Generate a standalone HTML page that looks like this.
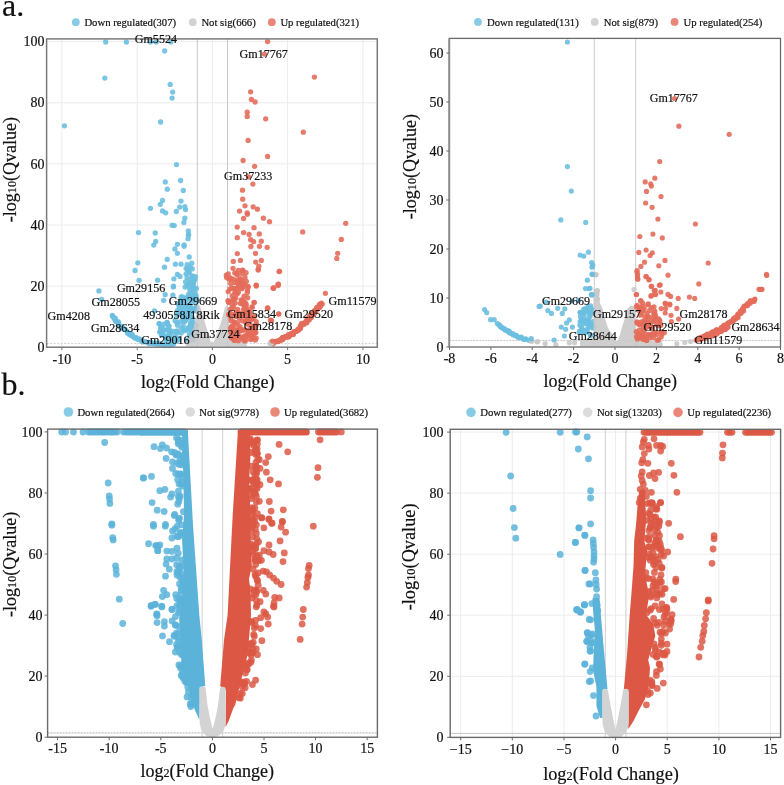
<!DOCTYPE html>
<html><head><meta charset="utf-8"><style>
html,body{margin:0;padding:0;background:#fff;}
svg{display:block;font-family:"Liberation Serif",serif;will-change:transform;}
text{fill:#111;stroke:#111;stroke-width:0.2px;}
</style></head><body>
<svg width="784" height="785" viewBox="0 0 784 785">
<text x="2.1" y="15.6" font-size="32">a.</text>
<text x="1.5" y="394.6" font-size="32">b.</text>
<line x1="61.9" y1="38.9" x2="61.9" y2="347.2" stroke="#ececec" stroke-width="1"/>
<line x1="137.2" y1="38.9" x2="137.2" y2="347.2" stroke="#ececec" stroke-width="1"/>
<line x1="212.4" y1="38.9" x2="212.4" y2="347.2" stroke="#ececec" stroke-width="1"/>
<line x1="287.6" y1="38.9" x2="287.6" y2="347.2" stroke="#ececec" stroke-width="1"/>
<line x1="362.9" y1="38.9" x2="362.9" y2="347.2" stroke="#ececec" stroke-width="1"/>
<line x1="46.6" y1="286.2" x2="377.3" y2="286.2" stroke="#ececec" stroke-width="1"/>
<line x1="46.6" y1="225.1" x2="377.3" y2="225.1" stroke="#ececec" stroke-width="1"/>
<line x1="46.6" y1="163.9" x2="377.3" y2="163.9" stroke="#ececec" stroke-width="1"/>
<line x1="46.6" y1="102.8" x2="377.3" y2="102.8" stroke="#ececec" stroke-width="1"/>
<line x1="46.6" y1="41.7" x2="377.3" y2="41.7" stroke="#ececec" stroke-width="1"/>
<line x1="197.3" y1="38.9" x2="197.3" y2="347.2" stroke="#c8c8c8" stroke-width="1"/>
<line x1="227.5" y1="38.9" x2="227.5" y2="347.2" stroke="#c8c8c8" stroke-width="1"/>
<line x1="46.6" y1="343.6" x2="377.3" y2="343.6" stroke="#c4c4c4" stroke-width="0.8" stroke-dasharray="2,1.5"/>
<circle cx="162.8" cy="330.4" r="2.7" fill="#6cbfe0" fill-opacity="0.9"/>
<circle cx="187.7" cy="285.4" r="2.7" fill="#6cbfe0" fill-opacity="0.9"/>
<circle cx="183.2" cy="325.9" r="2.7" fill="#6cbfe0" fill-opacity="0.9"/>
<circle cx="190.5" cy="298.9" r="2.7" fill="#6cbfe0" fill-opacity="0.9"/>
<circle cx="175.1" cy="320.8" r="2.7" fill="#6cbfe0" fill-opacity="0.9"/>
<circle cx="166.5" cy="337.8" r="2.7" fill="#6cbfe0" fill-opacity="0.9"/>
<circle cx="194.6" cy="295.0" r="2.7" fill="#6cbfe0" fill-opacity="0.9"/>
<circle cx="190.6" cy="308.3" r="2.7" fill="#6cbfe0" fill-opacity="0.9"/>
<circle cx="196.7" cy="331.4" r="2.7" fill="#6cbfe0" fill-opacity="0.9"/>
<circle cx="186.0" cy="320.1" r="2.7" fill="#6cbfe0" fill-opacity="0.9"/>
<circle cx="194.5" cy="298.1" r="2.7" fill="#6cbfe0" fill-opacity="0.9"/>
<circle cx="190.3" cy="316.9" r="2.7" fill="#6cbfe0" fill-opacity="0.9"/>
<circle cx="192.4" cy="330.3" r="2.7" fill="#6cbfe0" fill-opacity="0.9"/>
<circle cx="177.5" cy="310.8" r="2.7" fill="#6cbfe0" fill-opacity="0.9"/>
<circle cx="189.0" cy="297.5" r="2.7" fill="#6cbfe0" fill-opacity="0.9"/>
<circle cx="185.3" cy="317.3" r="2.7" fill="#6cbfe0" fill-opacity="0.9"/>
<circle cx="177.6" cy="325.2" r="2.7" fill="#6cbfe0" fill-opacity="0.9"/>
<circle cx="196.3" cy="311.1" r="2.7" fill="#6cbfe0" fill-opacity="0.9"/>
<circle cx="177.3" cy="340.6" r="2.7" fill="#6cbfe0" fill-opacity="0.9"/>
<circle cx="187.9" cy="307.0" r="2.7" fill="#6cbfe0" fill-opacity="0.9"/>
<circle cx="191.5" cy="283.6" r="2.7" fill="#6cbfe0" fill-opacity="0.9"/>
<circle cx="177.8" cy="338.4" r="2.7" fill="#6cbfe0" fill-opacity="0.9"/>
<circle cx="180.3" cy="300.9" r="2.7" fill="#6cbfe0" fill-opacity="0.9"/>
<circle cx="188.5" cy="328.4" r="2.7" fill="#6cbfe0" fill-opacity="0.9"/>
<circle cx="192.5" cy="322.3" r="2.7" fill="#6cbfe0" fill-opacity="0.9"/>
<circle cx="189.5" cy="305.4" r="2.7" fill="#6cbfe0" fill-opacity="0.9"/>
<circle cx="159.7" cy="332.1" r="2.7" fill="#6cbfe0" fill-opacity="0.9"/>
<circle cx="178.8" cy="313.4" r="2.7" fill="#6cbfe0" fill-opacity="0.9"/>
<circle cx="181.7" cy="300.8" r="2.7" fill="#6cbfe0" fill-opacity="0.9"/>
<circle cx="191.5" cy="326.7" r="2.7" fill="#6cbfe0" fill-opacity="0.9"/>
<circle cx="189.0" cy="328.0" r="2.7" fill="#6cbfe0" fill-opacity="0.9"/>
<circle cx="167.6" cy="330.0" r="2.7" fill="#6cbfe0" fill-opacity="0.9"/>
<circle cx="187.3" cy="285.0" r="2.7" fill="#6cbfe0" fill-opacity="0.9"/>
<circle cx="185.6" cy="300.6" r="2.7" fill="#6cbfe0" fill-opacity="0.9"/>
<circle cx="161.8" cy="334.4" r="2.7" fill="#6cbfe0" fill-opacity="0.9"/>
<circle cx="181.4" cy="328.1" r="2.7" fill="#6cbfe0" fill-opacity="0.9"/>
<circle cx="184.3" cy="307.4" r="2.7" fill="#6cbfe0" fill-opacity="0.9"/>
<circle cx="166.2" cy="340.1" r="2.7" fill="#6cbfe0" fill-opacity="0.9"/>
<circle cx="189.0" cy="305.3" r="2.7" fill="#6cbfe0" fill-opacity="0.9"/>
<circle cx="195.7" cy="332.5" r="2.7" fill="#6cbfe0" fill-opacity="0.9"/>
<circle cx="169.6" cy="331.2" r="2.7" fill="#6cbfe0" fill-opacity="0.9"/>
<circle cx="169.8" cy="337.4" r="2.7" fill="#6cbfe0" fill-opacity="0.9"/>
<circle cx="186.9" cy="297.6" r="2.7" fill="#6cbfe0" fill-opacity="0.9"/>
<circle cx="192.2" cy="268.9" r="2.7" fill="#6cbfe0" fill-opacity="0.9"/>
<circle cx="189.9" cy="339.1" r="2.7" fill="#6cbfe0" fill-opacity="0.9"/>
<circle cx="191.8" cy="340.0" r="2.7" fill="#6cbfe0" fill-opacity="0.9"/>
<circle cx="185.3" cy="304.7" r="2.7" fill="#6cbfe0" fill-opacity="0.9"/>
<circle cx="170.4" cy="332.2" r="2.7" fill="#6cbfe0" fill-opacity="0.9"/>
<circle cx="196.5" cy="325.5" r="2.7" fill="#6cbfe0" fill-opacity="0.9"/>
<circle cx="184.1" cy="329.7" r="2.7" fill="#6cbfe0" fill-opacity="0.9"/>
<circle cx="194.3" cy="292.1" r="2.7" fill="#6cbfe0" fill-opacity="0.9"/>
<circle cx="192.4" cy="318.2" r="2.7" fill="#6cbfe0" fill-opacity="0.9"/>
<circle cx="176.6" cy="340.9" r="2.7" fill="#6cbfe0" fill-opacity="0.9"/>
<circle cx="193.5" cy="282.2" r="2.7" fill="#6cbfe0" fill-opacity="0.9"/>
<circle cx="187.5" cy="311.6" r="2.7" fill="#6cbfe0" fill-opacity="0.9"/>
<circle cx="190.7" cy="294.0" r="2.7" fill="#6cbfe0" fill-opacity="0.9"/>
<circle cx="191.8" cy="311.9" r="2.7" fill="#6cbfe0" fill-opacity="0.9"/>
<circle cx="195.2" cy="333.4" r="2.7" fill="#6cbfe0" fill-opacity="0.9"/>
<circle cx="160.4" cy="331.8" r="2.7" fill="#6cbfe0" fill-opacity="0.9"/>
<circle cx="188.6" cy="329.0" r="2.7" fill="#6cbfe0" fill-opacity="0.9"/>
<circle cx="188.4" cy="294.7" r="2.7" fill="#6cbfe0" fill-opacity="0.9"/>
<circle cx="192.7" cy="308.9" r="2.7" fill="#6cbfe0" fill-opacity="0.9"/>
<circle cx="194.0" cy="300.8" r="2.7" fill="#6cbfe0" fill-opacity="0.9"/>
<circle cx="168.4" cy="325.8" r="2.7" fill="#6cbfe0" fill-opacity="0.9"/>
<circle cx="190.2" cy="266.9" r="2.7" fill="#6cbfe0" fill-opacity="0.9"/>
<circle cx="162.0" cy="333.3" r="2.7" fill="#6cbfe0" fill-opacity="0.9"/>
<circle cx="196.5" cy="298.0" r="2.7" fill="#6cbfe0" fill-opacity="0.9"/>
<circle cx="167.0" cy="322.5" r="2.7" fill="#6cbfe0" fill-opacity="0.9"/>
<circle cx="161.6" cy="335.2" r="2.7" fill="#6cbfe0" fill-opacity="0.9"/>
<circle cx="172.4" cy="339.7" r="2.7" fill="#6cbfe0" fill-opacity="0.9"/>
<circle cx="193.4" cy="288.3" r="2.7" fill="#6cbfe0" fill-opacity="0.9"/>
<circle cx="196.3" cy="288.5" r="2.7" fill="#6cbfe0" fill-opacity="0.9"/>
<circle cx="181.1" cy="300.2" r="2.7" fill="#6cbfe0" fill-opacity="0.9"/>
<circle cx="193.6" cy="339.7" r="2.7" fill="#6cbfe0" fill-opacity="0.9"/>
<circle cx="196.2" cy="307.3" r="2.7" fill="#6cbfe0" fill-opacity="0.9"/>
<circle cx="184.7" cy="316.3" r="2.7" fill="#6cbfe0" fill-opacity="0.9"/>
<circle cx="196.3" cy="300.0" r="2.7" fill="#6cbfe0" fill-opacity="0.9"/>
<circle cx="183.3" cy="314.9" r="2.7" fill="#6cbfe0" fill-opacity="0.9"/>
<circle cx="194.7" cy="295.7" r="2.7" fill="#6cbfe0" fill-opacity="0.9"/>
<circle cx="170.0" cy="330.4" r="2.7" fill="#6cbfe0" fill-opacity="0.9"/>
<circle cx="192.8" cy="289.0" r="2.7" fill="#6cbfe0" fill-opacity="0.9"/>
<circle cx="180.4" cy="311.3" r="2.7" fill="#6cbfe0" fill-opacity="0.9"/>
<circle cx="169.0" cy="326.2" r="2.7" fill="#6cbfe0" fill-opacity="0.9"/>
<circle cx="177.0" cy="331.6" r="2.7" fill="#6cbfe0" fill-opacity="0.9"/>
<circle cx="188.9" cy="271.9" r="2.7" fill="#6cbfe0" fill-opacity="0.9"/>
<circle cx="195.0" cy="279.2" r="2.7" fill="#6cbfe0" fill-opacity="0.9"/>
<circle cx="188.2" cy="340.9" r="2.7" fill="#6cbfe0" fill-opacity="0.9"/>
<circle cx="190.0" cy="290.3" r="2.7" fill="#6cbfe0" fill-opacity="0.9"/>
<circle cx="193.8" cy="288.3" r="2.7" fill="#6cbfe0" fill-opacity="0.9"/>
<circle cx="192.8" cy="276.8" r="2.7" fill="#6cbfe0" fill-opacity="0.9"/>
<circle cx="170.0" cy="334.6" r="2.7" fill="#6cbfe0" fill-opacity="0.9"/>
<circle cx="189.3" cy="334.9" r="2.7" fill="#6cbfe0" fill-opacity="0.9"/>
<circle cx="190.7" cy="322.7" r="2.7" fill="#6cbfe0" fill-opacity="0.9"/>
<circle cx="185.7" cy="316.8" r="2.7" fill="#6cbfe0" fill-opacity="0.9"/>
<circle cx="195.6" cy="327.4" r="2.7" fill="#6cbfe0" fill-opacity="0.9"/>
<circle cx="179.2" cy="307.1" r="2.7" fill="#6cbfe0" fill-opacity="0.9"/>
<circle cx="191.1" cy="300.5" r="2.7" fill="#6cbfe0" fill-opacity="0.9"/>
<circle cx="183.0" cy="297.7" r="2.7" fill="#6cbfe0" fill-opacity="0.9"/>
<circle cx="190.2" cy="296.2" r="2.7" fill="#6cbfe0" fill-opacity="0.9"/>
<circle cx="178.4" cy="304.1" r="2.7" fill="#6cbfe0" fill-opacity="0.9"/>
<circle cx="183.1" cy="299.3" r="2.7" fill="#6cbfe0" fill-opacity="0.9"/>
<circle cx="184.6" cy="321.6" r="2.7" fill="#6cbfe0" fill-opacity="0.9"/>
<circle cx="193.3" cy="335.7" r="2.7" fill="#6cbfe0" fill-opacity="0.9"/>
<circle cx="177.7" cy="332.7" r="2.7" fill="#6cbfe0" fill-opacity="0.9"/>
<circle cx="163.8" cy="324.2" r="2.7" fill="#6cbfe0" fill-opacity="0.9"/>
<circle cx="192.4" cy="289.7" r="2.7" fill="#6cbfe0" fill-opacity="0.9"/>
<circle cx="184.9" cy="330.5" r="2.7" fill="#6cbfe0" fill-opacity="0.9"/>
<circle cx="186.6" cy="311.2" r="2.7" fill="#6cbfe0" fill-opacity="0.9"/>
<circle cx="191.3" cy="334.1" r="2.7" fill="#6cbfe0" fill-opacity="0.9"/>
<circle cx="195.4" cy="309.4" r="2.7" fill="#6cbfe0" fill-opacity="0.9"/>
<circle cx="187.4" cy="270.0" r="2.7" fill="#6cbfe0" fill-opacity="0.9"/>
<circle cx="184.4" cy="320.5" r="2.7" fill="#6cbfe0" fill-opacity="0.9"/>
<circle cx="189.4" cy="313.8" r="2.7" fill="#6cbfe0" fill-opacity="0.9"/>
<circle cx="168.1" cy="335.4" r="2.7" fill="#6cbfe0" fill-opacity="0.9"/>
<circle cx="195.4" cy="276.6" r="2.7" fill="#6cbfe0" fill-opacity="0.9"/>
<circle cx="188.1" cy="330.0" r="2.7" fill="#6cbfe0" fill-opacity="0.9"/>
<circle cx="183.6" cy="319.2" r="2.7" fill="#6cbfe0" fill-opacity="0.9"/>
<circle cx="175.1" cy="336.2" r="2.7" fill="#6cbfe0" fill-opacity="0.9"/>
<circle cx="195.9" cy="295.1" r="2.7" fill="#6cbfe0" fill-opacity="0.9"/>
<circle cx="189.2" cy="298.9" r="2.7" fill="#6cbfe0" fill-opacity="0.9"/>
<circle cx="162.5" cy="335.1" r="2.7" fill="#6cbfe0" fill-opacity="0.9"/>
<circle cx="181.2" cy="297.0" r="2.7" fill="#6cbfe0" fill-opacity="0.9"/>
<circle cx="167.3" cy="323.0" r="2.7" fill="#6cbfe0" fill-opacity="0.9"/>
<circle cx="182.3" cy="312.0" r="2.7" fill="#6cbfe0" fill-opacity="0.9"/>
<circle cx="190.5" cy="281.7" r="2.7" fill="#6cbfe0" fill-opacity="0.9"/>
<circle cx="188.7" cy="327.5" r="2.7" fill="#6cbfe0" fill-opacity="0.9"/>
<circle cx="196.0" cy="307.4" r="2.7" fill="#6cbfe0" fill-opacity="0.9"/>
<circle cx="176.9" cy="331.0" r="2.7" fill="#6cbfe0" fill-opacity="0.9"/>
<circle cx="187.9" cy="309.4" r="2.7" fill="#6cbfe0" fill-opacity="0.9"/>
<circle cx="161.8" cy="327.4" r="2.7" fill="#6cbfe0" fill-opacity="0.9"/>
<circle cx="179.0" cy="339.3" r="2.7" fill="#6cbfe0" fill-opacity="0.9"/>
<circle cx="187.6" cy="340.0" r="2.7" fill="#6cbfe0" fill-opacity="0.9"/>
<circle cx="188.4" cy="317.9" r="2.7" fill="#6cbfe0" fill-opacity="0.9"/>
<circle cx="176.9" cy="315.2" r="2.7" fill="#6cbfe0" fill-opacity="0.9"/>
<circle cx="181.1" cy="333.0" r="2.7" fill="#6cbfe0" fill-opacity="0.9"/>
<circle cx="190.3" cy="304.8" r="2.7" fill="#6cbfe0" fill-opacity="0.9"/>
<circle cx="196.5" cy="301.1" r="2.7" fill="#6cbfe0" fill-opacity="0.9"/>
<circle cx="190.5" cy="297.1" r="2.7" fill="#6cbfe0" fill-opacity="0.9"/>
<circle cx="186.9" cy="341.1" r="2.7" fill="#6cbfe0" fill-opacity="0.9"/>
<circle cx="182.0" cy="306.4" r="2.7" fill="#6cbfe0" fill-opacity="0.9"/>
<circle cx="173.5" cy="331.5" r="2.7" fill="#6cbfe0" fill-opacity="0.9"/>
<circle cx="180.6" cy="321.8" r="2.7" fill="#6cbfe0" fill-opacity="0.9"/>
<circle cx="193.0" cy="322.9" r="2.7" fill="#6cbfe0" fill-opacity="0.9"/>
<circle cx="177.0" cy="322.7" r="2.7" fill="#6cbfe0" fill-opacity="0.9"/>
<circle cx="182.8" cy="315.3" r="2.7" fill="#6cbfe0" fill-opacity="0.9"/>
<circle cx="182.4" cy="296.9" r="2.7" fill="#6cbfe0" fill-opacity="0.9"/>
<circle cx="182.4" cy="314.2" r="2.7" fill="#6cbfe0" fill-opacity="0.9"/>
<circle cx="194.5" cy="325.5" r="2.7" fill="#6cbfe0" fill-opacity="0.9"/>
<circle cx="190.9" cy="324.3" r="2.7" fill="#6cbfe0" fill-opacity="0.9"/>
<circle cx="189.7" cy="312.0" r="2.7" fill="#6cbfe0" fill-opacity="0.9"/>
<polygon points="197.0,303.0 200.4,306.7 204.5,321.0 210.6,341.4 213.6,342.4 220.8,323.0 224.9,307.7 226.5,305.5 228.5,307.0 229.7,340.4 246.0,340.4 247.0,346.5 186.0,346.5 186.0,341.5 190.0,336.0 193.5,328.0 196.0,316.0 197.0,305.0" fill="#c9c9c9" fill-opacity="0.88"/>
<circle cx="237.7" cy="309.5" r="2.7" fill="#e46d5b" fill-opacity="0.9"/>
<circle cx="248.6" cy="335.9" r="2.7" fill="#e46d5b" fill-opacity="0.9"/>
<circle cx="243.6" cy="304.6" r="2.7" fill="#e46d5b" fill-opacity="0.9"/>
<circle cx="252.4" cy="319.0" r="2.7" fill="#e46d5b" fill-opacity="0.9"/>
<circle cx="241.2" cy="300.0" r="2.7" fill="#e46d5b" fill-opacity="0.9"/>
<circle cx="242.6" cy="330.3" r="2.7" fill="#e46d5b" fill-opacity="0.9"/>
<circle cx="239.9" cy="313.4" r="2.7" fill="#e46d5b" fill-opacity="0.9"/>
<circle cx="242.5" cy="339.1" r="2.7" fill="#e46d5b" fill-opacity="0.9"/>
<circle cx="248.1" cy="315.4" r="2.7" fill="#e46d5b" fill-opacity="0.9"/>
<circle cx="248.0" cy="324.3" r="2.7" fill="#e46d5b" fill-opacity="0.9"/>
<circle cx="233.4" cy="307.0" r="2.7" fill="#e46d5b" fill-opacity="0.9"/>
<circle cx="243.0" cy="314.0" r="2.7" fill="#e46d5b" fill-opacity="0.9"/>
<circle cx="242.6" cy="330.0" r="2.7" fill="#e46d5b" fill-opacity="0.9"/>
<circle cx="232.1" cy="326.3" r="2.7" fill="#e46d5b" fill-opacity="0.9"/>
<circle cx="248.8" cy="333.4" r="2.7" fill="#e46d5b" fill-opacity="0.9"/>
<circle cx="235.2" cy="324.5" r="2.7" fill="#e46d5b" fill-opacity="0.9"/>
<circle cx="234.1" cy="322.3" r="2.7" fill="#e46d5b" fill-opacity="0.9"/>
<circle cx="232.3" cy="332.3" r="2.7" fill="#e46d5b" fill-opacity="0.9"/>
<circle cx="233.8" cy="339.8" r="2.7" fill="#e46d5b" fill-opacity="0.9"/>
<circle cx="248.6" cy="334.6" r="2.7" fill="#e46d5b" fill-opacity="0.9"/>
<circle cx="246.0" cy="311.7" r="2.7" fill="#e46d5b" fill-opacity="0.9"/>
<circle cx="240.2" cy="331.1" r="2.7" fill="#e46d5b" fill-opacity="0.9"/>
<circle cx="246.1" cy="305.2" r="2.7" fill="#e46d5b" fill-opacity="0.9"/>
<circle cx="254.9" cy="329.6" r="2.7" fill="#e46d5b" fill-opacity="0.9"/>
<circle cx="245.5" cy="309.4" r="2.7" fill="#e46d5b" fill-opacity="0.9"/>
<circle cx="243.1" cy="304.0" r="2.7" fill="#e46d5b" fill-opacity="0.9"/>
<circle cx="231.2" cy="329.1" r="2.7" fill="#e46d5b" fill-opacity="0.9"/>
<circle cx="238.0" cy="330.6" r="2.7" fill="#e46d5b" fill-opacity="0.9"/>
<circle cx="234.3" cy="329.2" r="2.7" fill="#e46d5b" fill-opacity="0.9"/>
<circle cx="248.9" cy="311.3" r="2.7" fill="#e46d5b" fill-opacity="0.9"/>
<circle cx="230.2" cy="315.2" r="2.7" fill="#e46d5b" fill-opacity="0.9"/>
<circle cx="242.0" cy="302.3" r="2.7" fill="#e46d5b" fill-opacity="0.9"/>
<circle cx="232.7" cy="300.4" r="2.7" fill="#e46d5b" fill-opacity="0.9"/>
<circle cx="245.2" cy="336.6" r="2.7" fill="#e46d5b" fill-opacity="0.9"/>
<circle cx="233.6" cy="299.5" r="2.7" fill="#e46d5b" fill-opacity="0.9"/>
<circle cx="248.5" cy="333.4" r="2.7" fill="#e46d5b" fill-opacity="0.9"/>
<circle cx="256.4" cy="324.6" r="2.7" fill="#e46d5b" fill-opacity="0.9"/>
<circle cx="237.4" cy="334.4" r="2.7" fill="#e46d5b" fill-opacity="0.9"/>
<circle cx="230.6" cy="328.1" r="2.7" fill="#e46d5b" fill-opacity="0.9"/>
<circle cx="229.9" cy="315.3" r="2.7" fill="#e46d5b" fill-opacity="0.9"/>
<circle cx="242.1" cy="314.4" r="2.7" fill="#e46d5b" fill-opacity="0.9"/>
<circle cx="232.1" cy="308.1" r="2.7" fill="#e46d5b" fill-opacity="0.9"/>
<circle cx="252.0" cy="318.1" r="2.7" fill="#e46d5b" fill-opacity="0.9"/>
<circle cx="244.7" cy="307.2" r="2.7" fill="#e46d5b" fill-opacity="0.9"/>
<circle cx="248.8" cy="312.3" r="2.7" fill="#e46d5b" fill-opacity="0.9"/>
<circle cx="245.1" cy="337.5" r="2.7" fill="#e46d5b" fill-opacity="0.9"/>
<circle cx="251.3" cy="335.2" r="2.7" fill="#e46d5b" fill-opacity="0.9"/>
<circle cx="236.7" cy="314.6" r="2.7" fill="#e46d5b" fill-opacity="0.9"/>
<circle cx="244.7" cy="337.9" r="2.7" fill="#e46d5b" fill-opacity="0.9"/>
<circle cx="239.2" cy="336.2" r="2.7" fill="#e46d5b" fill-opacity="0.9"/>
<circle cx="231.4" cy="326.9" r="2.7" fill="#e46d5b" fill-opacity="0.9"/>
<circle cx="228.7" cy="314.5" r="2.7" fill="#e46d5b" fill-opacity="0.9"/>
<circle cx="231.0" cy="318.1" r="2.7" fill="#e46d5b" fill-opacity="0.9"/>
<circle cx="252.6" cy="337.3" r="2.7" fill="#e46d5b" fill-opacity="0.9"/>
<circle cx="228.1" cy="300.6" r="2.7" fill="#e46d5b" fill-opacity="0.9"/>
<circle cx="235.3" cy="303.1" r="2.7" fill="#e46d5b" fill-opacity="0.9"/>
<circle cx="246.4" cy="330.3" r="2.7" fill="#e46d5b" fill-opacity="0.9"/>
<circle cx="247.9" cy="334.7" r="2.7" fill="#e46d5b" fill-opacity="0.9"/>
<circle cx="247.2" cy="314.9" r="2.7" fill="#e46d5b" fill-opacity="0.9"/>
<circle cx="246.2" cy="340.1" r="2.7" fill="#e46d5b" fill-opacity="0.9"/>
<circle cx="246.6" cy="308.6" r="2.7" fill="#e46d5b" fill-opacity="0.9"/>
<circle cx="245.0" cy="313.2" r="2.7" fill="#e46d5b" fill-opacity="0.9"/>
<circle cx="245.5" cy="322.3" r="2.7" fill="#e46d5b" fill-opacity="0.9"/>
<circle cx="242.9" cy="300.6" r="2.7" fill="#e46d5b" fill-opacity="0.9"/>
<circle cx="237.8" cy="315.9" r="2.7" fill="#e46d5b" fill-opacity="0.9"/>
<circle cx="233.1" cy="336.2" r="2.7" fill="#e46d5b" fill-opacity="0.9"/>
<circle cx="239.9" cy="326.7" r="2.7" fill="#e46d5b" fill-opacity="0.9"/>
<circle cx="248.8" cy="330.3" r="2.7" fill="#e46d5b" fill-opacity="0.9"/>
<circle cx="249.0" cy="330.6" r="2.7" fill="#e46d5b" fill-opacity="0.9"/>
<circle cx="234.7" cy="340.4" r="2.7" fill="#e46d5b" fill-opacity="0.9"/>
<circle cx="231.6" cy="337.9" r="2.7" fill="#e46d5b" fill-opacity="0.9"/>
<circle cx="253.1" cy="335.0" r="2.7" fill="#e46d5b" fill-opacity="0.9"/>
<circle cx="228.6" cy="302.0" r="2.7" fill="#e46d5b" fill-opacity="0.9"/>
<circle cx="251.8" cy="318.4" r="2.7" fill="#e46d5b" fill-opacity="0.9"/>
<circle cx="238.3" cy="340.7" r="2.7" fill="#e46d5b" fill-opacity="0.9"/>
<circle cx="240.5" cy="303.6" r="2.7" fill="#e46d5b" fill-opacity="0.9"/>
<circle cx="239.1" cy="328.7" r="2.7" fill="#e46d5b" fill-opacity="0.9"/>
<circle cx="243.0" cy="301.9" r="2.7" fill="#e46d5b" fill-opacity="0.9"/>
<circle cx="249.3" cy="311.6" r="2.7" fill="#e46d5b" fill-opacity="0.9"/>
<circle cx="231.0" cy="332.5" r="2.7" fill="#e46d5b" fill-opacity="0.9"/>
<circle cx="251.6" cy="335.1" r="2.7" fill="#e46d5b" fill-opacity="0.9"/>
<circle cx="236.3" cy="316.4" r="2.7" fill="#e46d5b" fill-opacity="0.9"/>
<circle cx="234.5" cy="322.2" r="2.7" fill="#e46d5b" fill-opacity="0.9"/>
<circle cx="237.1" cy="312.7" r="2.7" fill="#e46d5b" fill-opacity="0.9"/>
<circle cx="250.9" cy="339.5" r="2.7" fill="#e46d5b" fill-opacity="0.9"/>
<circle cx="244.8" cy="302.5" r="2.7" fill="#e46d5b" fill-opacity="0.9"/>
<circle cx="246.9" cy="317.5" r="2.7" fill="#e46d5b" fill-opacity="0.9"/>
<circle cx="252.5" cy="328.4" r="2.7" fill="#e46d5b" fill-opacity="0.9"/>
<circle cx="243.3" cy="336.9" r="2.7" fill="#e46d5b" fill-opacity="0.9"/>
<circle cx="231.8" cy="314.1" r="2.7" fill="#e46d5b" fill-opacity="0.9"/>
<circle cx="242.9" cy="302.2" r="2.7" fill="#e46d5b" fill-opacity="0.9"/>
<circle cx="237.5" cy="323.0" r="2.7" fill="#e46d5b" fill-opacity="0.9"/>
<circle cx="246.9" cy="311.6" r="2.7" fill="#e46d5b" fill-opacity="0.9"/>
<circle cx="236.1" cy="313.3" r="2.7" fill="#e46d5b" fill-opacity="0.9"/>
<circle cx="236.9" cy="330.5" r="2.7" fill="#e46d5b" fill-opacity="0.9"/>
<circle cx="242.3" cy="320.8" r="2.7" fill="#e46d5b" fill-opacity="0.9"/>
<circle cx="231.5" cy="337.7" r="2.7" fill="#e46d5b" fill-opacity="0.9"/>
<circle cx="236.9" cy="312.2" r="2.7" fill="#e46d5b" fill-opacity="0.9"/>
<circle cx="241.6" cy="337.6" r="2.7" fill="#e46d5b" fill-opacity="0.9"/>
<circle cx="255.3" cy="340.1" r="2.7" fill="#e46d5b" fill-opacity="0.9"/>
<circle cx="251.9" cy="338.2" r="2.7" fill="#e46d5b" fill-opacity="0.9"/>
<circle cx="255.1" cy="332.8" r="2.7" fill="#e46d5b" fill-opacity="0.9"/>
<circle cx="231.1" cy="320.7" r="2.7" fill="#e46d5b" fill-opacity="0.9"/>
<circle cx="244.6" cy="341.1" r="2.7" fill="#e46d5b" fill-opacity="0.9"/>
<circle cx="250.9" cy="328.5" r="2.7" fill="#e46d5b" fill-opacity="0.9"/>
<circle cx="249.8" cy="313.7" r="2.7" fill="#e46d5b" fill-opacity="0.9"/>
<circle cx="255.7" cy="325.9" r="2.7" fill="#e46d5b" fill-opacity="0.9"/>
<circle cx="239.3" cy="318.2" r="2.7" fill="#e46d5b" fill-opacity="0.9"/>
<circle cx="232.1" cy="304.4" r="2.7" fill="#e46d5b" fill-opacity="0.9"/>
<circle cx="248.0" cy="322.4" r="2.7" fill="#e46d5b" fill-opacity="0.9"/>
<circle cx="239.5" cy="329.6" r="2.7" fill="#e46d5b" fill-opacity="0.9"/>
<circle cx="228.5" cy="302.3" r="2.7" fill="#e46d5b" fill-opacity="0.9"/>
<circle cx="243.6" cy="309.5" r="2.7" fill="#e46d5b" fill-opacity="0.9"/>
<circle cx="230.3" cy="309.4" r="2.7" fill="#e46d5b" fill-opacity="0.9"/>
<circle cx="246.3" cy="320.8" r="2.7" fill="#e46d5b" fill-opacity="0.9"/>
<circle cx="229.4" cy="301.2" r="2.7" fill="#e46d5b" fill-opacity="0.9"/>
<circle cx="252.9" cy="325.9" r="2.7" fill="#e46d5b" fill-opacity="0.9"/>
<circle cx="232.3" cy="335.4" r="2.7" fill="#e46d5b" fill-opacity="0.9"/>
<circle cx="252.9" cy="328.8" r="2.7" fill="#e46d5b" fill-opacity="0.9"/>
<circle cx="235.7" cy="336.7" r="2.7" fill="#e46d5b" fill-opacity="0.9"/>
<circle cx="245.2" cy="335.6" r="2.7" fill="#e46d5b" fill-opacity="0.9"/>
<circle cx="254.2" cy="316.5" r="2.7" fill="#e46d5b" fill-opacity="0.9"/>
<circle cx="247.6" cy="321.6" r="2.7" fill="#e46d5b" fill-opacity="0.9"/>
<circle cx="255.8" cy="332.6" r="2.7" fill="#e46d5b" fill-opacity="0.9"/>
<circle cx="249.1" cy="333.3" r="2.7" fill="#e46d5b" fill-opacity="0.9"/>
<circle cx="233.1" cy="330.4" r="2.7" fill="#e46d5b" fill-opacity="0.9"/>
<circle cx="250.5" cy="320.3" r="2.7" fill="#e46d5b" fill-opacity="0.9"/>
<circle cx="241.9" cy="315.5" r="2.7" fill="#e46d5b" fill-opacity="0.9"/>
<circle cx="253.9" cy="332.6" r="2.7" fill="#e46d5b" fill-opacity="0.9"/>
<circle cx="253.0" cy="317.9" r="2.7" fill="#e46d5b" fill-opacity="0.9"/>
<circle cx="230.6" cy="279.0" r="2.7" fill="#e46d5b" fill-opacity="0.9"/>
<circle cx="242.6" cy="270.2" r="2.7" fill="#e46d5b" fill-opacity="0.9"/>
<circle cx="228.9" cy="279.1" r="2.7" fill="#e46d5b" fill-opacity="0.9"/>
<circle cx="247.3" cy="292.4" r="2.7" fill="#e46d5b" fill-opacity="0.9"/>
<circle cx="239.7" cy="286.5" r="2.7" fill="#e46d5b" fill-opacity="0.9"/>
<circle cx="238.6" cy="286.3" r="2.7" fill="#e46d5b" fill-opacity="0.9"/>
<circle cx="235.8" cy="288.9" r="2.7" fill="#e46d5b" fill-opacity="0.9"/>
<circle cx="233.4" cy="279.1" r="2.7" fill="#e46d5b" fill-opacity="0.9"/>
<circle cx="238.2" cy="287.6" r="2.7" fill="#e46d5b" fill-opacity="0.9"/>
<circle cx="229.9" cy="289.1" r="2.7" fill="#e46d5b" fill-opacity="0.9"/>
<circle cx="239.6" cy="281.1" r="2.7" fill="#e46d5b" fill-opacity="0.9"/>
<circle cx="235.7" cy="298.1" r="2.7" fill="#e46d5b" fill-opacity="0.9"/>
<circle cx="247.5" cy="290.1" r="2.7" fill="#e46d5b" fill-opacity="0.9"/>
<circle cx="247.6" cy="297.8" r="2.7" fill="#e46d5b" fill-opacity="0.9"/>
<circle cx="246.3" cy="281.5" r="2.7" fill="#e46d5b" fill-opacity="0.9"/>
<circle cx="237.1" cy="293.9" r="2.7" fill="#e46d5b" fill-opacity="0.9"/>
<circle cx="234.9" cy="292.5" r="2.7" fill="#e46d5b" fill-opacity="0.9"/>
<circle cx="237.6" cy="280.1" r="2.7" fill="#e46d5b" fill-opacity="0.9"/>
<circle cx="236.9" cy="273.5" r="2.7" fill="#e46d5b" fill-opacity="0.9"/>
<circle cx="234.5" cy="282.5" r="2.7" fill="#e46d5b" fill-opacity="0.9"/>
<circle cx="226.4" cy="275.2" r="2.7" fill="#e46d5b" fill-opacity="0.9"/>
<circle cx="232.2" cy="295.7" r="2.7" fill="#e46d5b" fill-opacity="0.9"/>
<circle cx="240.1" cy="278.6" r="2.7" fill="#e46d5b" fill-opacity="0.9"/>
<circle cx="238.3" cy="292.2" r="2.7" fill="#e46d5b" fill-opacity="0.9"/>
<circle cx="242.6" cy="283.0" r="2.7" fill="#e46d5b" fill-opacity="0.9"/>
<circle cx="244.6" cy="284.6" r="2.7" fill="#e46d5b" fill-opacity="0.9"/>
<circle cx="243.2" cy="284.7" r="2.7" fill="#e46d5b" fill-opacity="0.9"/>
<circle cx="228.2" cy="273.9" r="2.7" fill="#e46d5b" fill-opacity="0.9"/>
<circle cx="226.6" cy="277.6" r="2.7" fill="#e46d5b" fill-opacity="0.9"/>
<circle cx="235.6" cy="291.7" r="2.7" fill="#e46d5b" fill-opacity="0.9"/>
<circle cx="246.0" cy="272.7" r="2.7" fill="#e46d5b" fill-opacity="0.9"/>
<circle cx="239.2" cy="286.0" r="2.7" fill="#e46d5b" fill-opacity="0.9"/>
<circle cx="234.3" cy="298.4" r="2.7" fill="#e46d5b" fill-opacity="0.9"/>
<circle cx="239.3" cy="282.6" r="2.7" fill="#e46d5b" fill-opacity="0.9"/>
<circle cx="242.1" cy="273.6" r="2.7" fill="#e46d5b" fill-opacity="0.9"/>
<circle cx="112.3" cy="315.5" r="2.7" fill="#6cbfe0" fill-opacity="0.9"/>
<circle cx="113.4" cy="317.6" r="2.7" fill="#6cbfe0" fill-opacity="0.9"/>
<circle cx="114.8" cy="318.6" r="2.7" fill="#6cbfe0" fill-opacity="0.9"/>
<circle cx="115.1" cy="318.3" r="2.7" fill="#6cbfe0" fill-opacity="0.9"/>
<circle cx="115.3" cy="320.6" r="2.7" fill="#6cbfe0" fill-opacity="0.9"/>
<circle cx="115.9" cy="321.4" r="2.7" fill="#6cbfe0" fill-opacity="0.9"/>
<circle cx="117.9" cy="321.7" r="2.7" fill="#6cbfe0" fill-opacity="0.9"/>
<circle cx="118.6" cy="322.8" r="2.7" fill="#6cbfe0" fill-opacity="0.9"/>
<circle cx="118.5" cy="325.3" r="2.7" fill="#6cbfe0" fill-opacity="0.9"/>
<circle cx="119.0" cy="325.3" r="2.7" fill="#6cbfe0" fill-opacity="0.9"/>
<circle cx="120.3" cy="326.9" r="2.7" fill="#6cbfe0" fill-opacity="0.9"/>
<circle cx="122.3" cy="326.6" r="2.7" fill="#6cbfe0" fill-opacity="0.9"/>
<circle cx="122.1" cy="328.6" r="2.7" fill="#6cbfe0" fill-opacity="0.9"/>
<circle cx="123.1" cy="328.1" r="2.7" fill="#6cbfe0" fill-opacity="0.9"/>
<circle cx="124.6" cy="329.2" r="2.7" fill="#6cbfe0" fill-opacity="0.9"/>
<circle cx="125.1" cy="329.4" r="2.7" fill="#6cbfe0" fill-opacity="0.9"/>
<circle cx="127.1" cy="331.6" r="2.7" fill="#6cbfe0" fill-opacity="0.9"/>
<circle cx="128.1" cy="333.0" r="2.7" fill="#6cbfe0" fill-opacity="0.9"/>
<circle cx="127.8" cy="333.0" r="2.7" fill="#6cbfe0" fill-opacity="0.9"/>
<circle cx="129.2" cy="334.3" r="2.7" fill="#6cbfe0" fill-opacity="0.9"/>
<circle cx="131.1" cy="333.9" r="2.7" fill="#6cbfe0" fill-opacity="0.9"/>
<circle cx="131.0" cy="335.5" r="2.7" fill="#6cbfe0" fill-opacity="0.9"/>
<circle cx="132.3" cy="335.0" r="2.7" fill="#6cbfe0" fill-opacity="0.9"/>
<circle cx="133.0" cy="336.5" r="2.7" fill="#6cbfe0" fill-opacity="0.9"/>
<circle cx="134.8" cy="337.9" r="2.7" fill="#6cbfe0" fill-opacity="0.9"/>
<circle cx="135.8" cy="337.8" r="2.7" fill="#6cbfe0" fill-opacity="0.9"/>
<circle cx="136.3" cy="338.1" r="2.7" fill="#6cbfe0" fill-opacity="0.9"/>
<circle cx="137.8" cy="339.3" r="2.7" fill="#6cbfe0" fill-opacity="0.9"/>
<circle cx="139.1" cy="338.9" r="2.7" fill="#6cbfe0" fill-opacity="0.9"/>
<circle cx="140.6" cy="340.1" r="2.7" fill="#6cbfe0" fill-opacity="0.9"/>
<circle cx="141.8" cy="341.0" r="2.7" fill="#6cbfe0" fill-opacity="0.9"/>
<circle cx="142.7" cy="341.9" r="2.7" fill="#6cbfe0" fill-opacity="0.9"/>
<circle cx="145.0" cy="341.6" r="2.7" fill="#6cbfe0" fill-opacity="0.9"/>
<circle cx="145.1" cy="341.6" r="2.7" fill="#6cbfe0" fill-opacity="0.9"/>
<circle cx="147.6" cy="342.6" r="2.7" fill="#6cbfe0" fill-opacity="0.9"/>
<circle cx="149.1" cy="343.5" r="2.7" fill="#6cbfe0" fill-opacity="0.9"/>
<circle cx="149.4" cy="342.9" r="2.7" fill="#6cbfe0" fill-opacity="0.9"/>
<circle cx="150.7" cy="342.3" r="2.7" fill="#6cbfe0" fill-opacity="0.9"/>
<circle cx="151.6" cy="342.8" r="2.7" fill="#6cbfe0" fill-opacity="0.9"/>
<circle cx="152.8" cy="343.5" r="2.7" fill="#6cbfe0" fill-opacity="0.9"/>
<circle cx="155.3" cy="343.8" r="2.7" fill="#6cbfe0" fill-opacity="0.9"/>
<circle cx="156.5" cy="343.3" r="2.7" fill="#6cbfe0" fill-opacity="0.9"/>
<circle cx="156.8" cy="344.1" r="2.7" fill="#6cbfe0" fill-opacity="0.9"/>
<circle cx="159.4" cy="344.0" r="2.7" fill="#6cbfe0" fill-opacity="0.9"/>
<circle cx="158.9" cy="343.3" r="2.7" fill="#6cbfe0" fill-opacity="0.9"/>
<circle cx="160.7" cy="344.6" r="2.7" fill="#6cbfe0" fill-opacity="0.9"/>
<circle cx="161.5" cy="343.9" r="2.7" fill="#6cbfe0" fill-opacity="0.9"/>
<circle cx="163.9" cy="345.5" r="2.7" fill="#6cbfe0" fill-opacity="0.9"/>
<circle cx="164.5" cy="344.9" r="2.7" fill="#6cbfe0" fill-opacity="0.9"/>
<circle cx="166.0" cy="343.8" r="2.7" fill="#6cbfe0" fill-opacity="0.9"/>
<circle cx="166.9" cy="344.1" r="2.7" fill="#6cbfe0" fill-opacity="0.9"/>
<circle cx="168.1" cy="345.5" r="2.7" fill="#6cbfe0" fill-opacity="0.9"/>
<circle cx="170.2" cy="344.1" r="2.7" fill="#6cbfe0" fill-opacity="0.9"/>
<circle cx="170.3" cy="345.5" r="2.7" fill="#6cbfe0" fill-opacity="0.9"/>
<circle cx="171.6" cy="344.7" r="2.7" fill="#6cbfe0" fill-opacity="0.9"/>
<circle cx="173.3" cy="344.2" r="2.7" fill="#6cbfe0" fill-opacity="0.9"/>
<circle cx="271.3" cy="342.3" r="2.7" fill="#e46d5b" fill-opacity="0.9"/>
<circle cx="273.0" cy="344.0" r="2.7" fill="#e46d5b" fill-opacity="0.9"/>
<circle cx="274.4" cy="341.9" r="2.7" fill="#e46d5b" fill-opacity="0.9"/>
<circle cx="275.2" cy="341.7" r="2.7" fill="#e46d5b" fill-opacity="0.9"/>
<circle cx="275.5" cy="341.5" r="2.7" fill="#e46d5b" fill-opacity="0.9"/>
<circle cx="277.4" cy="341.2" r="2.7" fill="#e46d5b" fill-opacity="0.9"/>
<circle cx="277.8" cy="341.6" r="2.7" fill="#e46d5b" fill-opacity="0.9"/>
<circle cx="278.6" cy="341.2" r="2.7" fill="#e46d5b" fill-opacity="0.9"/>
<circle cx="279.5" cy="340.4" r="2.7" fill="#e46d5b" fill-opacity="0.9"/>
<circle cx="279.7" cy="340.6" r="2.7" fill="#e46d5b" fill-opacity="0.9"/>
<circle cx="280.1" cy="340.2" r="2.7" fill="#e46d5b" fill-opacity="0.9"/>
<circle cx="280.8" cy="339.4" r="2.7" fill="#e46d5b" fill-opacity="0.9"/>
<circle cx="282.5" cy="339.7" r="2.7" fill="#e46d5b" fill-opacity="0.9"/>
<circle cx="282.3" cy="337.8" r="2.7" fill="#e46d5b" fill-opacity="0.9"/>
<circle cx="282.9" cy="337.8" r="2.7" fill="#e46d5b" fill-opacity="0.9"/>
<circle cx="282.9" cy="338.1" r="2.7" fill="#e46d5b" fill-opacity="0.9"/>
<circle cx="284.5" cy="337.3" r="2.7" fill="#e46d5b" fill-opacity="0.9"/>
<circle cx="284.5" cy="337.7" r="2.7" fill="#e46d5b" fill-opacity="0.9"/>
<circle cx="285.8" cy="337.0" r="2.7" fill="#e46d5b" fill-opacity="0.9"/>
<circle cx="285.5" cy="336.6" r="2.7" fill="#e46d5b" fill-opacity="0.9"/>
<circle cx="287.7" cy="336.7" r="2.7" fill="#e46d5b" fill-opacity="0.9"/>
<circle cx="288.2" cy="337.1" r="2.7" fill="#e46d5b" fill-opacity="0.9"/>
<circle cx="289.4" cy="336.2" r="2.7" fill="#e46d5b" fill-opacity="0.9"/>
<circle cx="288.3" cy="334.8" r="2.7" fill="#e46d5b" fill-opacity="0.9"/>
<circle cx="290.7" cy="334.0" r="2.7" fill="#e46d5b" fill-opacity="0.9"/>
<circle cx="292.1" cy="333.5" r="2.7" fill="#e46d5b" fill-opacity="0.9"/>
<circle cx="292.7" cy="333.3" r="2.7" fill="#e46d5b" fill-opacity="0.9"/>
<circle cx="293.4" cy="334.5" r="2.7" fill="#e46d5b" fill-opacity="0.9"/>
<circle cx="292.7" cy="334.1" r="2.7" fill="#e46d5b" fill-opacity="0.9"/>
<circle cx="292.9" cy="333.5" r="2.7" fill="#e46d5b" fill-opacity="0.9"/>
<circle cx="294.1" cy="332.0" r="2.7" fill="#e46d5b" fill-opacity="0.9"/>
<circle cx="294.1" cy="331.9" r="2.7" fill="#e46d5b" fill-opacity="0.9"/>
<circle cx="295.1" cy="331.6" r="2.7" fill="#e46d5b" fill-opacity="0.9"/>
<circle cx="297.1" cy="331.0" r="2.7" fill="#e46d5b" fill-opacity="0.9"/>
<circle cx="295.7" cy="331.4" r="2.7" fill="#e46d5b" fill-opacity="0.9"/>
<circle cx="298.7" cy="330.0" r="2.7" fill="#e46d5b" fill-opacity="0.9"/>
<circle cx="298.0" cy="329.2" r="2.7" fill="#e46d5b" fill-opacity="0.9"/>
<circle cx="299.9" cy="328.4" r="2.7" fill="#e46d5b" fill-opacity="0.9"/>
<circle cx="300.3" cy="328.2" r="2.7" fill="#e46d5b" fill-opacity="0.9"/>
<circle cx="300.0" cy="328.5" r="2.7" fill="#e46d5b" fill-opacity="0.9"/>
<circle cx="300.6" cy="327.0" r="2.7" fill="#e46d5b" fill-opacity="0.9"/>
<circle cx="300.3" cy="326.1" r="2.7" fill="#e46d5b" fill-opacity="0.9"/>
<circle cx="300.9" cy="326.1" r="2.7" fill="#e46d5b" fill-opacity="0.9"/>
<circle cx="301.5" cy="323.8" r="2.7" fill="#e46d5b" fill-opacity="0.9"/>
<circle cx="302.4" cy="323.4" r="2.7" fill="#e46d5b" fill-opacity="0.9"/>
<circle cx="304.1" cy="323.3" r="2.7" fill="#e46d5b" fill-opacity="0.9"/>
<circle cx="304.1" cy="324.3" r="2.7" fill="#e46d5b" fill-opacity="0.9"/>
<circle cx="306.4" cy="322.8" r="2.7" fill="#e46d5b" fill-opacity="0.9"/>
<circle cx="306.8" cy="322.6" r="2.7" fill="#e46d5b" fill-opacity="0.9"/>
<circle cx="305.9" cy="321.9" r="2.7" fill="#e46d5b" fill-opacity="0.9"/>
<circle cx="306.5" cy="320.6" r="2.7" fill="#e46d5b" fill-opacity="0.9"/>
<circle cx="307.4" cy="318.8" r="2.7" fill="#e46d5b" fill-opacity="0.9"/>
<circle cx="309.1" cy="320.1" r="2.7" fill="#e46d5b" fill-opacity="0.9"/>
<circle cx="308.4" cy="319.3" r="2.7" fill="#e46d5b" fill-opacity="0.9"/>
<circle cx="309.1" cy="318.0" r="2.7" fill="#e46d5b" fill-opacity="0.9"/>
<circle cx="311.4" cy="317.6" r="2.7" fill="#e46d5b" fill-opacity="0.9"/>
<circle cx="309.5" cy="316.0" r="2.7" fill="#e46d5b" fill-opacity="0.9"/>
<circle cx="310.9" cy="314.9" r="2.7" fill="#e46d5b" fill-opacity="0.9"/>
<circle cx="312.7" cy="314.6" r="2.7" fill="#e46d5b" fill-opacity="0.9"/>
<circle cx="312.9" cy="314.4" r="2.7" fill="#e46d5b" fill-opacity="0.9"/>
<circle cx="313.0" cy="312.1" r="2.7" fill="#e46d5b" fill-opacity="0.9"/>
<circle cx="314.0" cy="313.6" r="2.7" fill="#e46d5b" fill-opacity="0.9"/>
<circle cx="313.3" cy="312.3" r="2.7" fill="#e46d5b" fill-opacity="0.9"/>
<circle cx="314.8" cy="310.8" r="2.7" fill="#e46d5b" fill-opacity="0.9"/>
<circle cx="315.9" cy="311.7" r="2.7" fill="#e46d5b" fill-opacity="0.9"/>
<circle cx="314.8" cy="310.8" r="2.7" fill="#e46d5b" fill-opacity="0.9"/>
<circle cx="316.3" cy="310.0" r="2.7" fill="#e46d5b" fill-opacity="0.9"/>
<circle cx="316.4" cy="309.1" r="2.7" fill="#e46d5b" fill-opacity="0.9"/>
<circle cx="316.8" cy="307.5" r="2.7" fill="#e46d5b" fill-opacity="0.9"/>
<circle cx="319.6" cy="307.6" r="2.7" fill="#e46d5b" fill-opacity="0.9"/>
<circle cx="319.7" cy="306.5" r="2.7" fill="#e46d5b" fill-opacity="0.9"/>
<circle cx="319.3" cy="305.9" r="2.7" fill="#e46d5b" fill-opacity="0.9"/>
<circle cx="320.5" cy="305.8" r="2.7" fill="#e46d5b" fill-opacity="0.9"/>
<circle cx="319.5" cy="304.4" r="2.7" fill="#e46d5b" fill-opacity="0.9"/>
<circle cx="320.8" cy="304.1" r="2.7" fill="#e46d5b" fill-opacity="0.9"/>
<circle cx="322.2" cy="304.1" r="2.7" fill="#e46d5b" fill-opacity="0.9"/>
<circle cx="271.5" cy="343.4" r="2.6" fill="#c9c9c9" fill-opacity="0.9"/>
<circle cx="270" cy="343.4" r="2.6" fill="#c9c9c9" fill-opacity="0.9"/>
<circle cx="105.7" cy="42.0" r="2.65" fill="#6cbfe0" fill-opacity="0.9"/>
<circle cx="126.4" cy="42.0" r="2.65" fill="#6cbfe0" fill-opacity="0.9"/>
<circle cx="150.4" cy="42.0" r="2.65" fill="#6cbfe0" fill-opacity="0.9"/>
<circle cx="156.1" cy="42.0" r="2.65" fill="#6cbfe0" fill-opacity="0.9"/>
<circle cx="170.8" cy="42.0" r="2.65" fill="#6cbfe0" fill-opacity="0.9"/>
<circle cx="164.7" cy="50.9" r="2.65" fill="#6cbfe0" fill-opacity="0.9"/>
<circle cx="104.8" cy="78.1" r="2.65" fill="#6cbfe0" fill-opacity="0.9"/>
<circle cx="170.2" cy="84.4" r="2.65" fill="#6cbfe0" fill-opacity="0.9"/>
<circle cx="172.7" cy="92.1" r="2.65" fill="#6cbfe0" fill-opacity="0.9"/>
<circle cx="172.1" cy="98.1" r="2.65" fill="#6cbfe0" fill-opacity="0.9"/>
<circle cx="160.6" cy="122.0" r="2.65" fill="#6cbfe0" fill-opacity="0.9"/>
<circle cx="64.4" cy="125.8" r="2.65" fill="#6cbfe0" fill-opacity="0.9"/>
<circle cx="176.5" cy="164.6" r="2.65" fill="#6cbfe0" fill-opacity="0.9"/>
<circle cx="165.3" cy="181.9" r="2.65" fill="#6cbfe0" fill-opacity="0.9"/>
<circle cx="180.6" cy="180.5" r="2.65" fill="#6cbfe0" fill-opacity="0.9"/>
<circle cx="167.3" cy="189.2" r="2.65" fill="#6cbfe0" fill-opacity="0.9"/>
<circle cx="183.3" cy="190.5" r="2.65" fill="#6cbfe0" fill-opacity="0.9"/>
<circle cx="162.5" cy="200.4" r="2.65" fill="#6cbfe0" fill-opacity="0.9"/>
<circle cx="160.3" cy="204.3" r="2.65" fill="#6cbfe0" fill-opacity="0.9"/>
<circle cx="181" cy="201.1" r="2.65" fill="#6cbfe0" fill-opacity="0.9"/>
<circle cx="150.4" cy="208.3" r="2.65" fill="#6cbfe0" fill-opacity="0.9"/>
<circle cx="179.7" cy="207.1" r="2.65" fill="#6cbfe0" fill-opacity="0.9"/>
<circle cx="184.8" cy="206.7" r="2.65" fill="#6cbfe0" fill-opacity="0.9"/>
<circle cx="185.5" cy="209.6" r="2.65" fill="#6cbfe0" fill-opacity="0.9"/>
<circle cx="162.5" cy="210.9" r="2.65" fill="#6cbfe0" fill-opacity="0.9"/>
<circle cx="165.7" cy="212.8" r="2.65" fill="#6cbfe0" fill-opacity="0.9"/>
<circle cx="176.3" cy="211.5" r="2.65" fill="#6cbfe0" fill-opacity="0.9"/>
<circle cx="184.8" cy="218.2" r="2.65" fill="#6cbfe0" fill-opacity="0.9"/>
<circle cx="183.9" cy="222.4" r="2.65" fill="#6cbfe0" fill-opacity="0.9"/>
<circle cx="172.1" cy="225.2" r="2.65" fill="#6cbfe0" fill-opacity="0.9"/>
<circle cx="174.2" cy="225.6" r="2.65" fill="#6cbfe0" fill-opacity="0.9"/>
<circle cx="138.5" cy="232.6" r="2.65" fill="#6cbfe0" fill-opacity="0.9"/>
<circle cx="155.2" cy="233" r="2.65" fill="#6cbfe0" fill-opacity="0.9"/>
<circle cx="188.3" cy="230.9" r="2.65" fill="#6cbfe0" fill-opacity="0.9"/>
<circle cx="188.6" cy="234.5" r="2.65" fill="#6cbfe0" fill-opacity="0.9"/>
<circle cx="188.4" cy="235.1" r="2.65" fill="#6cbfe0" fill-opacity="0.9"/>
<circle cx="188" cy="238.7" r="2.65" fill="#6cbfe0" fill-opacity="0.9"/>
<circle cx="155.7" cy="241.4" r="2.65" fill="#6cbfe0" fill-opacity="0.9"/>
<circle cx="153.8" cy="245.1" r="2.65" fill="#6cbfe0" fill-opacity="0.9"/>
<circle cx="177.4" cy="244.3" r="2.65" fill="#6cbfe0" fill-opacity="0.9"/>
<circle cx="184.1" cy="244.8" r="2.65" fill="#6cbfe0" fill-opacity="0.9"/>
<circle cx="184.1" cy="246.3" r="2.65" fill="#6cbfe0" fill-opacity="0.9"/>
<circle cx="174.9" cy="248.9" r="2.65" fill="#6cbfe0" fill-opacity="0.9"/>
<circle cx="177.4" cy="253.3" r="2.65" fill="#6cbfe0" fill-opacity="0.9"/>
<circle cx="189.2" cy="257" r="2.65" fill="#6cbfe0" fill-opacity="0.9"/>
<circle cx="167.2" cy="259.4" r="2.65" fill="#6cbfe0" fill-opacity="0.9"/>
<circle cx="137.8" cy="262.8" r="2.65" fill="#6cbfe0" fill-opacity="0.9"/>
<circle cx="175.4" cy="264.2" r="2.65" fill="#6cbfe0" fill-opacity="0.9"/>
<circle cx="181" cy="264.2" r="2.65" fill="#6cbfe0" fill-opacity="0.9"/>
<circle cx="187.1" cy="264.7" r="2.65" fill="#6cbfe0" fill-opacity="0.9"/>
<circle cx="191.7" cy="263.2" r="2.65" fill="#6cbfe0" fill-opacity="0.9"/>
<circle cx="164.5" cy="267.2" r="2.65" fill="#6cbfe0" fill-opacity="0.9"/>
<circle cx="186.1" cy="268.3" r="2.65" fill="#6cbfe0" fill-opacity="0.9"/>
<circle cx="135" cy="270.5" r="2.65" fill="#6cbfe0" fill-opacity="0.9"/>
<circle cx="177.4" cy="274.4" r="2.65" fill="#6cbfe0" fill-opacity="0.9"/>
<circle cx="180" cy="276.4" r="2.65" fill="#6cbfe0" fill-opacity="0.9"/>
<circle cx="173.9" cy="278.8" r="2.65" fill="#6cbfe0" fill-opacity="0.9"/>
<circle cx="186.1" cy="273.9" r="2.65" fill="#6cbfe0" fill-opacity="0.9"/>
<circle cx="189.2" cy="272.9" r="2.65" fill="#6cbfe0" fill-opacity="0.9"/>
<circle cx="192.2" cy="275.9" r="2.65" fill="#6cbfe0" fill-opacity="0.9"/>
<circle cx="187.1" cy="278" r="2.65" fill="#6cbfe0" fill-opacity="0.9"/>
<circle cx="191.2" cy="279" r="2.65" fill="#6cbfe0" fill-opacity="0.9"/>
<circle cx="194.3" cy="279" r="2.65" fill="#6cbfe0" fill-opacity="0.9"/>
<circle cx="185.6" cy="282" r="2.65" fill="#6cbfe0" fill-opacity="0.9"/>
<circle cx="189.2" cy="283.1" r="2.65" fill="#6cbfe0" fill-opacity="0.9"/>
<circle cx="193.3" cy="284.1" r="2.65" fill="#6cbfe0" fill-opacity="0.9"/>
<circle cx="185.1" cy="287.1" r="2.65" fill="#6cbfe0" fill-opacity="0.9"/>
<circle cx="189.2" cy="287.1" r="2.65" fill="#6cbfe0" fill-opacity="0.9"/>
<circle cx="193.3" cy="287.1" r="2.65" fill="#6cbfe0" fill-opacity="0.9"/>
<circle cx="139.1" cy="280.3" r="2.65" fill="#6cbfe0" fill-opacity="0.9"/>
<circle cx="157.6" cy="280.2" r="2.65" fill="#6cbfe0" fill-opacity="0.9"/>
<circle cx="173.4" cy="286.1" r="2.65" fill="#6cbfe0" fill-opacity="0.9"/>
<circle cx="98.9" cy="290.9" r="2.65" fill="#6cbfe0" fill-opacity="0.9"/>
<circle cx="101.6" cy="299.4" r="2.65" fill="#6cbfe0" fill-opacity="0.9"/>
<circle cx="112.9" cy="316.3" r="2.65" fill="#6cbfe0" fill-opacity="0.9"/>
<circle cx="114.6" cy="318.5" r="2.65" fill="#6cbfe0" fill-opacity="0.9"/>
<circle cx="173.4" cy="287" r="2.65" fill="#6cbfe0" fill-opacity="0.9"/>
<circle cx="165.2" cy="294.7" r="2.65" fill="#6cbfe0" fill-opacity="0.9"/>
<circle cx="172.9" cy="295.2" r="2.65" fill="#6cbfe0" fill-opacity="0.9"/>
<circle cx="163.7" cy="300.3" r="2.65" fill="#6cbfe0" fill-opacity="0.9"/>
<circle cx="154.5" cy="311" r="2.65" fill="#6cbfe0" fill-opacity="0.9"/>
<circle cx="159.1" cy="323.8" r="2.65" fill="#6cbfe0" fill-opacity="0.9"/>
<circle cx="160.6" cy="327.9" r="2.65" fill="#6cbfe0" fill-opacity="0.9"/>
<circle cx="164.7" cy="329.9" r="2.65" fill="#6cbfe0" fill-opacity="0.9"/>
<circle cx="163.7" cy="335" r="2.65" fill="#6cbfe0" fill-opacity="0.9"/>
<circle cx="159.3" cy="323.6" r="2.65" fill="#6cbfe0" fill-opacity="0.9"/>
<circle cx="267.6" cy="41.6" r="2.65" fill="#e46d5b" fill-opacity="0.9"/>
<circle cx="264.4" cy="54.1" r="2.65" fill="#e46d5b" fill-opacity="0.9"/>
<circle cx="250.6" cy="91.8" r="2.65" fill="#e46d5b" fill-opacity="0.9"/>
<circle cx="251.4" cy="99.4" r="2.65" fill="#e46d5b" fill-opacity="0.9"/>
<circle cx="255.1" cy="102" r="2.65" fill="#e46d5b" fill-opacity="0.9"/>
<circle cx="247.2" cy="112.2" r="2.65" fill="#e46d5b" fill-opacity="0.9"/>
<circle cx="247.2" cy="116.4" r="2.65" fill="#e46d5b" fill-opacity="0.9"/>
<circle cx="265.7" cy="118.8" r="2.65" fill="#e46d5b" fill-opacity="0.9"/>
<circle cx="314.4" cy="77.1" r="2.65" fill="#e46d5b" fill-opacity="0.9"/>
<circle cx="303.3" cy="132.2" r="2.65" fill="#e46d5b" fill-opacity="0.9"/>
<circle cx="248.1" cy="140.4" r="2.65" fill="#e46d5b" fill-opacity="0.9"/>
<circle cx="267.6" cy="156.4" r="2.65" fill="#e46d5b" fill-opacity="0.9"/>
<circle cx="243.1" cy="160.5" r="2.65" fill="#e46d5b" fill-opacity="0.9"/>
<circle cx="254.6" cy="166.3" r="2.65" fill="#e46d5b" fill-opacity="0.9"/>
<circle cx="248.5" cy="176.8" r="2.65" fill="#e46d5b" fill-opacity="0.9"/>
<circle cx="252.9" cy="184.1" r="2.65" fill="#e46d5b" fill-opacity="0.9"/>
<circle cx="242.5" cy="190.2" r="2.65" fill="#e46d5b" fill-opacity="0.9"/>
<circle cx="242.7" cy="199.2" r="2.65" fill="#e46d5b" fill-opacity="0.9"/>
<circle cx="245" cy="205.8" r="2.65" fill="#e46d5b" fill-opacity="0.9"/>
<circle cx="253.2" cy="206.8" r="2.65" fill="#e46d5b" fill-opacity="0.9"/>
<circle cx="257.4" cy="209.2" r="2.65" fill="#e46d5b" fill-opacity="0.9"/>
<circle cx="239.5" cy="211.1" r="2.65" fill="#e46d5b" fill-opacity="0.9"/>
<circle cx="247.2" cy="212.8" r="2.65" fill="#e46d5b" fill-opacity="0.9"/>
<circle cx="247.4" cy="214.3" r="2.65" fill="#e46d5b" fill-opacity="0.9"/>
<circle cx="243.6" cy="218.5" r="2.65" fill="#e46d5b" fill-opacity="0.9"/>
<circle cx="263.4" cy="218.2" r="2.65" fill="#e46d5b" fill-opacity="0.9"/>
<circle cx="269.5" cy="221.7" r="2.65" fill="#e46d5b" fill-opacity="0.9"/>
<circle cx="237.2" cy="227.1" r="2.65" fill="#e46d5b" fill-opacity="0.9"/>
<circle cx="254" cy="227.7" r="2.65" fill="#e46d5b" fill-opacity="0.9"/>
<circle cx="243.6" cy="232.6" r="2.65" fill="#e46d5b" fill-opacity="0.9"/>
<circle cx="249.1" cy="234.5" r="2.65" fill="#e46d5b" fill-opacity="0.9"/>
<circle cx="259.3" cy="233.9" r="2.65" fill="#e46d5b" fill-opacity="0.9"/>
<circle cx="345.7" cy="223.3" r="2.65" fill="#e46d5b" fill-opacity="0.9"/>
<circle cx="302.7" cy="231.9" r="2.65" fill="#e46d5b" fill-opacity="0.9"/>
<circle cx="237.3" cy="237.7" r="2.65" fill="#e46d5b" fill-opacity="0.9"/>
<circle cx="250.6" cy="239.7" r="2.65" fill="#e46d5b" fill-opacity="0.9"/>
<circle cx="253.7" cy="241.7" r="2.65" fill="#e46d5b" fill-opacity="0.9"/>
<circle cx="261.3" cy="241.2" r="2.65" fill="#e46d5b" fill-opacity="0.9"/>
<circle cx="250.9" cy="246.5" r="2.65" fill="#e46d5b" fill-opacity="0.9"/>
<circle cx="259.5" cy="246.3" r="2.65" fill="#e46d5b" fill-opacity="0.9"/>
<circle cx="267.2" cy="247.3" r="2.65" fill="#e46d5b" fill-opacity="0.9"/>
<circle cx="237.3" cy="253.7" r="2.65" fill="#e46d5b" fill-opacity="0.9"/>
<circle cx="255.5" cy="253.5" r="2.65" fill="#e46d5b" fill-opacity="0.9"/>
<circle cx="233.3" cy="261.4" r="2.65" fill="#e46d5b" fill-opacity="0.9"/>
<circle cx="240.4" cy="260.4" r="2.65" fill="#e46d5b" fill-opacity="0.9"/>
<circle cx="255.7" cy="262.1" r="2.65" fill="#e46d5b" fill-opacity="0.9"/>
<circle cx="261.3" cy="260.4" r="2.65" fill="#e46d5b" fill-opacity="0.9"/>
<circle cx="258.8" cy="266.2" r="2.65" fill="#e46d5b" fill-opacity="0.9"/>
<circle cx="258.3" cy="269.3" r="2.65" fill="#e46d5b" fill-opacity="0.9"/>
<circle cx="233" cy="268.3" r="2.65" fill="#e46d5b" fill-opacity="0.9"/>
<circle cx="238.4" cy="270.3" r="2.65" fill="#e46d5b" fill-opacity="0.9"/>
<circle cx="242.8" cy="270.3" r="2.65" fill="#e46d5b" fill-opacity="0.9"/>
<circle cx="234.8" cy="272.9" r="2.65" fill="#e46d5b" fill-opacity="0.9"/>
<circle cx="237.3" cy="274.9" r="2.65" fill="#e46d5b" fill-opacity="0.9"/>
<circle cx="230.2" cy="278" r="2.65" fill="#e46d5b" fill-opacity="0.9"/>
<circle cx="245" cy="277.4" r="2.65" fill="#e46d5b" fill-opacity="0.9"/>
<circle cx="241.4" cy="280" r="2.65" fill="#e46d5b" fill-opacity="0.9"/>
<circle cx="230.7" cy="283.6" r="2.65" fill="#e46d5b" fill-opacity="0.9"/>
<circle cx="237.3" cy="283.1" r="2.65" fill="#e46d5b" fill-opacity="0.9"/>
<circle cx="243" cy="285.6" r="2.65" fill="#e46d5b" fill-opacity="0.9"/>
<circle cx="248.1" cy="286.6" r="2.65" fill="#e46d5b" fill-opacity="0.9"/>
<circle cx="256.2" cy="285.1" r="2.65" fill="#e46d5b" fill-opacity="0.9"/>
<circle cx="273.1" cy="288.2" r="2.65" fill="#e46d5b" fill-opacity="0.9"/>
<circle cx="231.7" cy="288.2" r="2.65" fill="#e46d5b" fill-opacity="0.9"/>
<circle cx="241.9" cy="288.7" r="2.65" fill="#e46d5b" fill-opacity="0.9"/>
<circle cx="228.2" cy="291.6" r="2.65" fill="#e46d5b" fill-opacity="0.9"/>
<circle cx="233.8" cy="288.1" r="2.65" fill="#e46d5b" fill-opacity="0.9"/>
<circle cx="238.9" cy="288.1" r="2.65" fill="#e46d5b" fill-opacity="0.9"/>
<circle cx="243" cy="287" r="2.65" fill="#e46d5b" fill-opacity="0.9"/>
<circle cx="248.1" cy="287" r="2.65" fill="#e46d5b" fill-opacity="0.9"/>
<circle cx="256.2" cy="286" r="2.65" fill="#e46d5b" fill-opacity="0.9"/>
<circle cx="244" cy="296.2" r="2.65" fill="#e46d5b" fill-opacity="0.9"/>
<circle cx="246" cy="303.9" r="2.65" fill="#e46d5b" fill-opacity="0.9"/>
<circle cx="254.2" cy="302.3" r="2.65" fill="#e46d5b" fill-opacity="0.9"/>
<circle cx="252.1" cy="306.9" r="2.65" fill="#e46d5b" fill-opacity="0.9"/>
<circle cx="267.4" cy="308" r="2.65" fill="#e46d5b" fill-opacity="0.9"/>
<circle cx="270.5" cy="320.2" r="2.65" fill="#e46d5b" fill-opacity="0.9"/>
<circle cx="256.2" cy="321.7" r="2.65" fill="#e46d5b" fill-opacity="0.9"/>
<circle cx="256.2" cy="338.1" r="2.65" fill="#e46d5b" fill-opacity="0.9"/>
<circle cx="272.6" cy="341.1" r="2.65" fill="#e46d5b" fill-opacity="0.9"/>
<circle cx="341.3" cy="239.4" r="2.65" fill="#e46d5b" fill-opacity="0.9"/>
<circle cx="337.7" cy="253.3" r="2.65" fill="#e46d5b" fill-opacity="0.9"/>
<circle cx="336.8" cy="258.4" r="2.65" fill="#e46d5b" fill-opacity="0.9"/>
<circle cx="279.5" cy="271.3" r="2.65" fill="#e46d5b" fill-opacity="0.9"/>
<circle cx="278.4" cy="284.1" r="2.65" fill="#e46d5b" fill-opacity="0.9"/>
<circle cx="278.1" cy="285.5" r="2.65" fill="#e46d5b" fill-opacity="0.9"/>
<circle cx="273.7" cy="288" r="2.65" fill="#e46d5b" fill-opacity="0.9"/>
<circle cx="325.4" cy="293.3" r="2.65" fill="#e46d5b" fill-opacity="0.9"/>
<circle cx="321.3" cy="303.1" r="2.65" fill="#e46d5b" fill-opacity="0.9"/>
<circle cx="278.8" cy="314.1" r="2.65" fill="#e46d5b" fill-opacity="0.9"/>
<circle cx="271.5" cy="320.7" r="2.65" fill="#e46d5b" fill-opacity="0.9"/>
<circle cx="256.2" cy="285.3" r="2.65" fill="#e46d5b" fill-opacity="0.9"/>
<circle cx="273.5" cy="288.1" r="2.65" fill="#e46d5b" fill-opacity="0.9"/>
<circle cx="278.1" cy="284.3" r="2.65" fill="#e46d5b" fill-opacity="0.9"/>
<circle cx="254.1" cy="302.6" r="2.65" fill="#e46d5b" fill-opacity="0.9"/>
<circle cx="252.1" cy="307.2" r="2.65" fill="#e46d5b" fill-opacity="0.9"/>
<circle cx="267.9" cy="308.2" r="2.65" fill="#e46d5b" fill-opacity="0.9"/>
<circle cx="278.6" cy="313.8" r="2.65" fill="#e46d5b" fill-opacity="0.9"/>
<circle cx="271" cy="320.5" r="2.65" fill="#e46d5b" fill-opacity="0.9"/>
<circle cx="279.1" cy="271.5" r="2.65" fill="#e46d5b" fill-opacity="0.9"/>
<circle cx="258.2" cy="270" r="2.65" fill="#e46d5b" fill-opacity="0.9"/>
<rect x="46.6" y="38.9" width="330.7" height="308.3" fill="none" stroke="#7a7a7a" stroke-width="1.5"/>
<line x1="61.9" y1="347.2" x2="61.9" y2="350.2" stroke="#7a7a7a" stroke-width="1"/>
<text x="61.9" y="363.5" font-size="14" text-anchor="middle" >-10</text>
<line x1="137.2" y1="347.2" x2="137.2" y2="350.2" stroke="#7a7a7a" stroke-width="1"/>
<text x="137.2" y="363.5" font-size="14" text-anchor="middle" >-5</text>
<line x1="212.4" y1="347.2" x2="212.4" y2="350.2" stroke="#7a7a7a" stroke-width="1"/>
<text x="212.4" y="363.5" font-size="14" text-anchor="middle" >0</text>
<line x1="287.6" y1="347.2" x2="287.6" y2="350.2" stroke="#7a7a7a" stroke-width="1"/>
<text x="287.6" y="363.5" font-size="14" text-anchor="middle" >5</text>
<line x1="362.9" y1="347.2" x2="362.9" y2="350.2" stroke="#7a7a7a" stroke-width="1"/>
<text x="362.9" y="363.5" font-size="14" text-anchor="middle" >10</text>
<text x="44.5" y="351.9" font-size="14" text-anchor="end" >0</text>
<text x="44.5" y="290.8" font-size="14" text-anchor="end" >20</text>
<text x="44.5" y="229.7" font-size="14" text-anchor="end" >40</text>
<text x="44.5" y="168.5" font-size="14" text-anchor="end" >60</text>
<text x="44.5" y="107.4" font-size="14" text-anchor="end" >80</text>
<text x="44.5" y="46.3" font-size="14" text-anchor="end" >100</text>
<text x="134.7" y="42.5" font-size="12.1" text-anchor="start" >Gm5524</text>
<text x="239.5" y="57.7" font-size="12.1" text-anchor="start" >Gm17767</text>
<text x="224" y="179.6" font-size="12.1" text-anchor="start" >Gm37233</text>
<text x="116.9" y="291.7" font-size="12.1" text-anchor="start" >Gm29156</text>
<text x="91.6" y="306.4" font-size="12.1" text-anchor="start" >Gm28055</text>
<text x="47.6" y="319.8" font-size="12.1" text-anchor="start" >Gm4208</text>
<text x="91" y="332.2" font-size="12.1" text-anchor="start" >Gm28634</text>
<text x="168.8" y="304.6" font-size="12.1" text-anchor="start" >Gm29669</text>
<text x="143.3" y="319.1" font-size="12.1" text-anchor="start" >4930558J18Rik</text>
<text x="141.2" y="344.2" font-size="12.1" text-anchor="start" >Gm29016</text>
<text x="191.2" y="338.4" font-size="12.1" text-anchor="start" >Gm37724</text>
<text x="227.6" y="318" font-size="12.1" text-anchor="start" >Gm15834</text>
<text x="243.8" y="330" font-size="12.1" text-anchor="start" >Gm28178</text>
<text x="284.6" y="317.8" font-size="12.1" text-anchor="start" >Gm29520</text>
<text x="328.6" y="304.6" font-size="12.1" text-anchor="start" >Gm11579</text>
<circle cx="75.8" cy="22.2" r="3.9" fill="#6cbfe0" fill-opacity="0.82"/>
<text x="84.4" y="25.9" font-size="10.7" text-anchor="start" >Down regulated(307)</text>
<circle cx="192.8" cy="22.2" r="3.9" fill="#c9c9c9" fill-opacity="0.82"/>
<text x="201.4" y="25.9" font-size="10.7" text-anchor="start" >Not sig(666)</text>
<circle cx="271.8" cy="22.2" r="3.9" fill="#e46d5b" fill-opacity="0.82"/>
<text x="280.4" y="25.9" font-size="10.7" text-anchor="start" >Up regulated(321)</text>
<text x="207.8" y="387.9" font-size="18" text-anchor="middle">log<tspan font-size="12.2">2</tspan>(Fold Change)</text>
<text transform="translate(15.5,169.6) rotate(-90)" x="0" y="0" font-size="18" text-anchor="middle">-log<tspan font-size="12.2">10</tspan>(Qvalue)</text>
<line x1="594.3" y1="38.4" x2="594.3" y2="347.0" stroke="#cccccc" stroke-width="1"/>
<line x1="635.7" y1="38.4" x2="635.7" y2="347.0" stroke="#cccccc" stroke-width="1"/>
<line x1="449.3" y1="340.6" x2="780.5" y2="340.6" stroke="#c4c4c4" stroke-width="1" stroke-dasharray="2,1"/>
<circle cx="580.4" cy="316.4" r="2.6" fill="#6cbfe0" fill-opacity="0.9"/>
<circle cx="590.3" cy="326.0" r="2.6" fill="#6cbfe0" fill-opacity="0.9"/>
<circle cx="590.8" cy="313.5" r="2.6" fill="#6cbfe0" fill-opacity="0.9"/>
<circle cx="591.2" cy="335.2" r="2.6" fill="#6cbfe0" fill-opacity="0.9"/>
<circle cx="588.1" cy="328.3" r="2.6" fill="#6cbfe0" fill-opacity="0.9"/>
<circle cx="592.6" cy="321.7" r="2.6" fill="#6cbfe0" fill-opacity="0.9"/>
<circle cx="592.5" cy="325.9" r="2.6" fill="#6cbfe0" fill-opacity="0.9"/>
<circle cx="583.5" cy="311.9" r="2.6" fill="#6cbfe0" fill-opacity="0.9"/>
<circle cx="590.4" cy="334.9" r="2.6" fill="#6cbfe0" fill-opacity="0.9"/>
<circle cx="593.4" cy="309.8" r="2.6" fill="#6cbfe0" fill-opacity="0.9"/>
<circle cx="587.4" cy="320.9" r="2.6" fill="#6cbfe0" fill-opacity="0.9"/>
<circle cx="584.8" cy="330.2" r="2.6" fill="#6cbfe0" fill-opacity="0.9"/>
<circle cx="593.0" cy="327.9" r="2.6" fill="#6cbfe0" fill-opacity="0.9"/>
<circle cx="589.2" cy="326.8" r="2.6" fill="#6cbfe0" fill-opacity="0.9"/>
<circle cx="588.5" cy="321.7" r="2.6" fill="#6cbfe0" fill-opacity="0.9"/>
<circle cx="582.0" cy="329.7" r="2.6" fill="#6cbfe0" fill-opacity="0.9"/>
<circle cx="579.9" cy="325.2" r="2.6" fill="#6cbfe0" fill-opacity="0.9"/>
<circle cx="584.2" cy="322.5" r="2.6" fill="#6cbfe0" fill-opacity="0.9"/>
<circle cx="588.3" cy="319.8" r="2.6" fill="#6cbfe0" fill-opacity="0.9"/>
<circle cx="593.6" cy="311.9" r="2.6" fill="#6cbfe0" fill-opacity="0.9"/>
<circle cx="583.0" cy="313.2" r="2.6" fill="#6cbfe0" fill-opacity="0.9"/>
<circle cx="584.6" cy="323.6" r="2.6" fill="#6cbfe0" fill-opacity="0.9"/>
<circle cx="593.8" cy="327.3" r="2.6" fill="#6cbfe0" fill-opacity="0.9"/>
<circle cx="583.1" cy="321.6" r="2.6" fill="#6cbfe0" fill-opacity="0.9"/>
<circle cx="585.2" cy="320.6" r="2.6" fill="#6cbfe0" fill-opacity="0.9"/>
<circle cx="584.7" cy="309.5" r="2.6" fill="#6cbfe0" fill-opacity="0.9"/>
<circle cx="584.3" cy="316.8" r="2.6" fill="#6cbfe0" fill-opacity="0.9"/>
<circle cx="581.2" cy="331.0" r="2.6" fill="#6cbfe0" fill-opacity="0.9"/>
<circle cx="583.8" cy="309.0" r="2.6" fill="#6cbfe0" fill-opacity="0.9"/>
<circle cx="587.1" cy="331.9" r="2.6" fill="#6cbfe0" fill-opacity="0.9"/>
<circle cx="590.5" cy="324.5" r="2.6" fill="#6cbfe0" fill-opacity="0.9"/>
<circle cx="589.7" cy="315.1" r="2.6" fill="#6cbfe0" fill-opacity="0.9"/>
<circle cx="580.3" cy="312.4" r="2.6" fill="#6cbfe0" fill-opacity="0.9"/>
<circle cx="583.6" cy="313.2" r="2.6" fill="#6cbfe0" fill-opacity="0.9"/>
<circle cx="585.5" cy="308.9" r="2.6" fill="#6cbfe0" fill-opacity="0.9"/>
<circle cx="580.1" cy="312.3" r="2.6" fill="#6cbfe0" fill-opacity="0.9"/>
<circle cx="581.1" cy="330.5" r="2.6" fill="#6cbfe0" fill-opacity="0.9"/>
<circle cx="586.6" cy="310.5" r="2.6" fill="#6cbfe0" fill-opacity="0.9"/>
<circle cx="584.9" cy="332.8" r="2.6" fill="#6cbfe0" fill-opacity="0.9"/>
<circle cx="587.2" cy="322.3" r="2.6" fill="#6cbfe0" fill-opacity="0.9"/>
<circle cx="584.3" cy="310.5" r="2.6" fill="#6cbfe0" fill-opacity="0.9"/>
<circle cx="588.0" cy="306.5" r="2.6" fill="#6cbfe0" fill-opacity="0.9"/>
<circle cx="590.6" cy="305.9" r="2.6" fill="#6cbfe0" fill-opacity="0.9"/>
<circle cx="589.9" cy="316.6" r="2.6" fill="#6cbfe0" fill-opacity="0.9"/>
<circle cx="588.9" cy="323.5" r="2.6" fill="#6cbfe0" fill-opacity="0.9"/>
<circle cx="580.1" cy="321.8" r="2.6" fill="#6cbfe0" fill-opacity="0.9"/>
<circle cx="584.1" cy="313.4" r="2.6" fill="#6cbfe0" fill-opacity="0.9"/>
<circle cx="583.7" cy="331.7" r="2.6" fill="#6cbfe0" fill-opacity="0.9"/>
<circle cx="581.6" cy="327.4" r="2.6" fill="#6cbfe0" fill-opacity="0.9"/>
<circle cx="583.6" cy="321.7" r="2.6" fill="#6cbfe0" fill-opacity="0.9"/>
<circle cx="579.4" cy="331.3" r="2.6" fill="#6cbfe0" fill-opacity="0.9"/>
<circle cx="581.3" cy="319.3" r="2.6" fill="#6cbfe0" fill-opacity="0.9"/>
<circle cx="582.6" cy="330.7" r="2.6" fill="#6cbfe0" fill-opacity="0.9"/>
<circle cx="587.5" cy="324.3" r="2.6" fill="#6cbfe0" fill-opacity="0.9"/>
<circle cx="590.1" cy="312.4" r="2.6" fill="#6cbfe0" fill-opacity="0.9"/>
<circle cx="583.0" cy="330.8" r="2.6" fill="#6cbfe0" fill-opacity="0.9"/>
<circle cx="593.3" cy="324.8" r="2.6" fill="#6cbfe0" fill-opacity="0.9"/>
<circle cx="579.7" cy="332.2" r="2.6" fill="#6cbfe0" fill-opacity="0.9"/>
<circle cx="588.1" cy="312.1" r="2.6" fill="#6cbfe0" fill-opacity="0.9"/>
<circle cx="581.3" cy="320.8" r="2.6" fill="#6cbfe0" fill-opacity="0.9"/>
<polygon points="593.5,289.0 598.5,289.0 599.7,302.3 602.9,309.5 605.5,320.2 608.2,328.2 611.8,333.6 616.5,341.0 618.0,341.0 619.8,335.4 621.6,328.2 624.3,320.2 627.0,309.5 630.5,305.5 633.7,306.0 635.0,309.0 635.5,341.0 662.0,341.0 663.0,346.5 580.0,346.5 580.0,340.0 593.5,338.0" fill="#c9c9c9" fill-opacity="0.9"/>
<circle cx="639.2" cy="337.0" r="2.6" fill="#e46d5b" fill-opacity="0.9"/>
<circle cx="654.4" cy="333.7" r="2.6" fill="#e46d5b" fill-opacity="0.9"/>
<circle cx="646.0" cy="337.6" r="2.6" fill="#e46d5b" fill-opacity="0.9"/>
<circle cx="639.5" cy="329.9" r="2.6" fill="#e46d5b" fill-opacity="0.9"/>
<circle cx="642.6" cy="303.1" r="2.6" fill="#e46d5b" fill-opacity="0.9"/>
<circle cx="639.1" cy="310.6" r="2.6" fill="#e46d5b" fill-opacity="0.9"/>
<circle cx="655.8" cy="317.2" r="2.6" fill="#e46d5b" fill-opacity="0.9"/>
<circle cx="648.5" cy="326.0" r="2.6" fill="#e46d5b" fill-opacity="0.9"/>
<circle cx="643.0" cy="326.9" r="2.6" fill="#e46d5b" fill-opacity="0.9"/>
<circle cx="653.5" cy="337.6" r="2.6" fill="#e46d5b" fill-opacity="0.9"/>
<circle cx="649.1" cy="335.1" r="2.6" fill="#e46d5b" fill-opacity="0.9"/>
<circle cx="661.2" cy="331.8" r="2.6" fill="#e46d5b" fill-opacity="0.9"/>
<circle cx="647.0" cy="313.2" r="2.6" fill="#e46d5b" fill-opacity="0.9"/>
<circle cx="638.5" cy="334.2" r="2.6" fill="#e46d5b" fill-opacity="0.9"/>
<circle cx="639.4" cy="324.0" r="2.6" fill="#e46d5b" fill-opacity="0.9"/>
<circle cx="647.8" cy="304.7" r="2.6" fill="#e46d5b" fill-opacity="0.9"/>
<circle cx="641.6" cy="333.9" r="2.6" fill="#e46d5b" fill-opacity="0.9"/>
<circle cx="650.0" cy="337.7" r="2.6" fill="#e46d5b" fill-opacity="0.9"/>
<circle cx="647.0" cy="319.6" r="2.6" fill="#e46d5b" fill-opacity="0.9"/>
<circle cx="660.9" cy="325.3" r="2.6" fill="#e46d5b" fill-opacity="0.9"/>
<circle cx="640.9" cy="322.1" r="2.6" fill="#e46d5b" fill-opacity="0.9"/>
<circle cx="649.6" cy="310.4" r="2.6" fill="#e46d5b" fill-opacity="0.9"/>
<circle cx="645.4" cy="335.9" r="2.6" fill="#e46d5b" fill-opacity="0.9"/>
<circle cx="661.5" cy="332.1" r="2.6" fill="#e46d5b" fill-opacity="0.9"/>
<circle cx="637.7" cy="337.0" r="2.6" fill="#e46d5b" fill-opacity="0.9"/>
<circle cx="647.9" cy="334.3" r="2.6" fill="#e46d5b" fill-opacity="0.9"/>
<circle cx="640.6" cy="308.5" r="2.6" fill="#e46d5b" fill-opacity="0.9"/>
<circle cx="637.1" cy="321.8" r="2.6" fill="#e46d5b" fill-opacity="0.9"/>
<circle cx="661.8" cy="334.3" r="2.6" fill="#e46d5b" fill-opacity="0.9"/>
<circle cx="646.3" cy="340.2" r="2.6" fill="#e46d5b" fill-opacity="0.9"/>
<circle cx="656.7" cy="334.6" r="2.6" fill="#e46d5b" fill-opacity="0.9"/>
<circle cx="652.8" cy="317.8" r="2.6" fill="#e46d5b" fill-opacity="0.9"/>
<circle cx="659.5" cy="320.6" r="2.6" fill="#e46d5b" fill-opacity="0.9"/>
<circle cx="660.3" cy="323.7" r="2.6" fill="#e46d5b" fill-opacity="0.9"/>
<circle cx="659.7" cy="320.9" r="2.6" fill="#e46d5b" fill-opacity="0.9"/>
<circle cx="647.1" cy="325.1" r="2.6" fill="#e46d5b" fill-opacity="0.9"/>
<circle cx="644.3" cy="308.6" r="2.6" fill="#e46d5b" fill-opacity="0.9"/>
<circle cx="651.3" cy="334.9" r="2.6" fill="#e46d5b" fill-opacity="0.9"/>
<circle cx="643.2" cy="335.4" r="2.6" fill="#e46d5b" fill-opacity="0.9"/>
<circle cx="656.5" cy="332.1" r="2.6" fill="#e46d5b" fill-opacity="0.9"/>
<circle cx="646.8" cy="340.5" r="2.6" fill="#e46d5b" fill-opacity="0.9"/>
<circle cx="656.6" cy="324.6" r="2.6" fill="#e46d5b" fill-opacity="0.9"/>
<circle cx="639.0" cy="324.5" r="2.6" fill="#e46d5b" fill-opacity="0.9"/>
<circle cx="636.4" cy="336.8" r="2.6" fill="#e46d5b" fill-opacity="0.9"/>
<circle cx="644.8" cy="316.8" r="2.6" fill="#e46d5b" fill-opacity="0.9"/>
<circle cx="650.3" cy="326.9" r="2.6" fill="#e46d5b" fill-opacity="0.9"/>
<circle cx="651.2" cy="321.2" r="2.6" fill="#e46d5b" fill-opacity="0.9"/>
<circle cx="652.5" cy="334.8" r="2.6" fill="#e46d5b" fill-opacity="0.9"/>
<circle cx="647.6" cy="321.8" r="2.6" fill="#e46d5b" fill-opacity="0.9"/>
<circle cx="640.2" cy="315.2" r="2.6" fill="#e46d5b" fill-opacity="0.9"/>
<circle cx="641.6" cy="336.6" r="2.6" fill="#e46d5b" fill-opacity="0.9"/>
<circle cx="639.9" cy="307.0" r="2.6" fill="#e46d5b" fill-opacity="0.9"/>
<circle cx="644.2" cy="322.1" r="2.6" fill="#e46d5b" fill-opacity="0.9"/>
<circle cx="657.4" cy="340.3" r="2.6" fill="#e46d5b" fill-opacity="0.9"/>
<circle cx="658.1" cy="325.8" r="2.6" fill="#e46d5b" fill-opacity="0.9"/>
<circle cx="637.0" cy="305.4" r="2.6" fill="#e46d5b" fill-opacity="0.9"/>
<circle cx="652.4" cy="333.7" r="2.6" fill="#e46d5b" fill-opacity="0.9"/>
<circle cx="642.9" cy="339.3" r="2.6" fill="#e46d5b" fill-opacity="0.9"/>
<circle cx="650.3" cy="324.5" r="2.6" fill="#e46d5b" fill-opacity="0.9"/>
<circle cx="640.4" cy="338.1" r="2.6" fill="#e46d5b" fill-opacity="0.9"/>
<circle cx="642.9" cy="306.1" r="2.6" fill="#e46d5b" fill-opacity="0.9"/>
<circle cx="643.3" cy="330.2" r="2.6" fill="#e46d5b" fill-opacity="0.9"/>
<circle cx="642.8" cy="310.9" r="2.6" fill="#e46d5b" fill-opacity="0.9"/>
<circle cx="643.2" cy="321.0" r="2.6" fill="#e46d5b" fill-opacity="0.9"/>
<circle cx="655.2" cy="314.3" r="2.6" fill="#e46d5b" fill-opacity="0.9"/>
<circle cx="658.7" cy="339.6" r="2.6" fill="#e46d5b" fill-opacity="0.9"/>
<circle cx="644.2" cy="337.7" r="2.6" fill="#e46d5b" fill-opacity="0.9"/>
<circle cx="647.5" cy="316.6" r="2.6" fill="#e46d5b" fill-opacity="0.9"/>
<circle cx="644.2" cy="331.1" r="2.6" fill="#e46d5b" fill-opacity="0.9"/>
<circle cx="651.3" cy="327.9" r="2.6" fill="#e46d5b" fill-opacity="0.9"/>
<circle cx="658.7" cy="318.9" r="2.6" fill="#e46d5b" fill-opacity="0.9"/>
<circle cx="639.0" cy="307.9" r="2.6" fill="#e46d5b" fill-opacity="0.9"/>
<circle cx="651.3" cy="307.6" r="2.6" fill="#e46d5b" fill-opacity="0.9"/>
<circle cx="642.9" cy="310.4" r="2.6" fill="#e46d5b" fill-opacity="0.9"/>
<circle cx="637.4" cy="339.1" r="2.6" fill="#e46d5b" fill-opacity="0.9"/>
<circle cx="644.7" cy="339.2" r="2.6" fill="#e46d5b" fill-opacity="0.9"/>
<circle cx="654.8" cy="311.2" r="2.6" fill="#e46d5b" fill-opacity="0.9"/>
<circle cx="642.6" cy="323.7" r="2.6" fill="#e46d5b" fill-opacity="0.9"/>
<circle cx="636.2" cy="331.7" r="2.6" fill="#e46d5b" fill-opacity="0.9"/>
<circle cx="638.2" cy="333.6" r="2.6" fill="#e46d5b" fill-opacity="0.9"/>
<circle cx="636.9" cy="322.8" r="2.6" fill="#e46d5b" fill-opacity="0.9"/>
<circle cx="641.4" cy="313.8" r="2.6" fill="#e46d5b" fill-opacity="0.9"/>
<circle cx="648.8" cy="316.9" r="2.6" fill="#e46d5b" fill-opacity="0.9"/>
<circle cx="646.2" cy="327.5" r="2.6" fill="#e46d5b" fill-opacity="0.9"/>
<circle cx="641.1" cy="309.8" r="2.6" fill="#e46d5b" fill-opacity="0.9"/>
<circle cx="653.8" cy="314.1" r="2.6" fill="#e46d5b" fill-opacity="0.9"/>
<circle cx="648.3" cy="303.9" r="2.6" fill="#e46d5b" fill-opacity="0.9"/>
<circle cx="636.5" cy="306.9" r="2.6" fill="#e46d5b" fill-opacity="0.9"/>
<circle cx="652.3" cy="327.9" r="2.6" fill="#e46d5b" fill-opacity="0.9"/>
<circle cx="654.4" cy="315.9" r="2.6" fill="#e46d5b" fill-opacity="0.9"/>
<circle cx="497.4" cy="323.6" r="2.6" fill="#6cbfe0" fill-opacity="0.9"/>
<circle cx="499.5" cy="325.4" r="2.6" fill="#6cbfe0" fill-opacity="0.9"/>
<circle cx="500.9" cy="326.5" r="2.6" fill="#6cbfe0" fill-opacity="0.9"/>
<circle cx="500.9" cy="326.9" r="2.6" fill="#6cbfe0" fill-opacity="0.9"/>
<circle cx="501.8" cy="327.5" r="2.6" fill="#6cbfe0" fill-opacity="0.9"/>
<circle cx="503.2" cy="328.4" r="2.6" fill="#6cbfe0" fill-opacity="0.9"/>
<circle cx="504.6" cy="328.8" r="2.6" fill="#6cbfe0" fill-opacity="0.9"/>
<circle cx="505.2" cy="330.2" r="2.6" fill="#6cbfe0" fill-opacity="0.9"/>
<circle cx="507.0" cy="330.3" r="2.6" fill="#6cbfe0" fill-opacity="0.9"/>
<circle cx="508.1" cy="331.5" r="2.6" fill="#6cbfe0" fill-opacity="0.9"/>
<circle cx="509.2" cy="331.2" r="2.6" fill="#6cbfe0" fill-opacity="0.9"/>
<circle cx="509.6" cy="332.7" r="2.6" fill="#6cbfe0" fill-opacity="0.9"/>
<circle cx="510.1" cy="333.1" r="2.6" fill="#6cbfe0" fill-opacity="0.9"/>
<circle cx="512.8" cy="333.5" r="2.6" fill="#6cbfe0" fill-opacity="0.9"/>
<circle cx="513.2" cy="334.9" r="2.6" fill="#6cbfe0" fill-opacity="0.9"/>
<circle cx="515.4" cy="335.4" r="2.6" fill="#6cbfe0" fill-opacity="0.9"/>
<circle cx="516.1" cy="335.3" r="2.6" fill="#6cbfe0" fill-opacity="0.9"/>
<circle cx="517.0" cy="336.3" r="2.6" fill="#6cbfe0" fill-opacity="0.9"/>
<circle cx="518.1" cy="337.1" r="2.6" fill="#6cbfe0" fill-opacity="0.9"/>
<circle cx="518.7" cy="337.6" r="2.6" fill="#6cbfe0" fill-opacity="0.9"/>
<circle cx="521.4" cy="337.2" r="2.6" fill="#6cbfe0" fill-opacity="0.9"/>
<circle cx="521.2" cy="337.8" r="2.6" fill="#6cbfe0" fill-opacity="0.9"/>
<circle cx="523.7" cy="339.3" r="2.6" fill="#6cbfe0" fill-opacity="0.9"/>
<circle cx="525.7" cy="338.9" r="2.6" fill="#6cbfe0" fill-opacity="0.9"/>
<circle cx="525.5" cy="339.3" r="2.6" fill="#6cbfe0" fill-opacity="0.9"/>
<circle cx="528.9" cy="340.3" r="2.6" fill="#6cbfe0" fill-opacity="0.9"/>
<circle cx="696.1" cy="340.0" r="2.6" fill="#e46d5b" fill-opacity="0.9"/>
<circle cx="699.0" cy="339.4" r="2.6" fill="#e46d5b" fill-opacity="0.9"/>
<circle cx="698.1" cy="339.9" r="2.6" fill="#e46d5b" fill-opacity="0.9"/>
<circle cx="700.1" cy="337.6" r="2.6" fill="#e46d5b" fill-opacity="0.9"/>
<circle cx="701.1" cy="338.0" r="2.6" fill="#e46d5b" fill-opacity="0.9"/>
<circle cx="701.6" cy="337.3" r="2.6" fill="#e46d5b" fill-opacity="0.9"/>
<circle cx="701.8" cy="337.1" r="2.6" fill="#e46d5b" fill-opacity="0.9"/>
<circle cx="703.2" cy="336.8" r="2.6" fill="#e46d5b" fill-opacity="0.9"/>
<circle cx="704.9" cy="335.5" r="2.6" fill="#e46d5b" fill-opacity="0.9"/>
<circle cx="704.2" cy="337.2" r="2.6" fill="#e46d5b" fill-opacity="0.9"/>
<circle cx="706.0" cy="336.0" r="2.6" fill="#e46d5b" fill-opacity="0.9"/>
<circle cx="707.0" cy="334.7" r="2.6" fill="#e46d5b" fill-opacity="0.9"/>
<circle cx="707.3" cy="334.2" r="2.6" fill="#e46d5b" fill-opacity="0.9"/>
<circle cx="707.6" cy="335.7" r="2.6" fill="#e46d5b" fill-opacity="0.9"/>
<circle cx="709.9" cy="335.1" r="2.6" fill="#e46d5b" fill-opacity="0.9"/>
<circle cx="709.0" cy="334.3" r="2.6" fill="#e46d5b" fill-opacity="0.9"/>
<circle cx="710.6" cy="333.4" r="2.6" fill="#e46d5b" fill-opacity="0.9"/>
<circle cx="712.4" cy="331.9" r="2.6" fill="#e46d5b" fill-opacity="0.9"/>
<circle cx="712.6" cy="332.7" r="2.6" fill="#e46d5b" fill-opacity="0.9"/>
<circle cx="714.6" cy="332.2" r="2.6" fill="#e46d5b" fill-opacity="0.9"/>
<circle cx="714.2" cy="331.9" r="2.6" fill="#e46d5b" fill-opacity="0.9"/>
<circle cx="715.7" cy="330.8" r="2.6" fill="#e46d5b" fill-opacity="0.9"/>
<circle cx="716.5" cy="330.3" r="2.6" fill="#e46d5b" fill-opacity="0.9"/>
<circle cx="716.1" cy="329.9" r="2.6" fill="#e46d5b" fill-opacity="0.9"/>
<circle cx="717.1" cy="329.9" r="2.6" fill="#e46d5b" fill-opacity="0.9"/>
<circle cx="719.0" cy="330.4" r="2.6" fill="#e46d5b" fill-opacity="0.9"/>
<circle cx="720.5" cy="329.6" r="2.6" fill="#e46d5b" fill-opacity="0.9"/>
<circle cx="721.9" cy="328.0" r="2.6" fill="#e46d5b" fill-opacity="0.9"/>
<circle cx="721.3" cy="327.5" r="2.6" fill="#e46d5b" fill-opacity="0.9"/>
<circle cx="721.5" cy="327.7" r="2.6" fill="#e46d5b" fill-opacity="0.9"/>
<circle cx="723.3" cy="326.3" r="2.6" fill="#e46d5b" fill-opacity="0.9"/>
<circle cx="725.2" cy="327.9" r="2.6" fill="#e46d5b" fill-opacity="0.9"/>
<circle cx="724.0" cy="325.1" r="2.6" fill="#e46d5b" fill-opacity="0.9"/>
<circle cx="724.8" cy="326.3" r="2.6" fill="#e46d5b" fill-opacity="0.9"/>
<circle cx="727.6" cy="324.2" r="2.6" fill="#e46d5b" fill-opacity="0.9"/>
<circle cx="726.4" cy="324.8" r="2.6" fill="#e46d5b" fill-opacity="0.9"/>
<circle cx="728.0" cy="323.0" r="2.6" fill="#e46d5b" fill-opacity="0.9"/>
<circle cx="728.1" cy="323.0" r="2.6" fill="#e46d5b" fill-opacity="0.9"/>
<circle cx="729.4" cy="322.6" r="2.6" fill="#e46d5b" fill-opacity="0.9"/>
<circle cx="731.1" cy="322.0" r="2.6" fill="#e46d5b" fill-opacity="0.9"/>
<circle cx="731.1" cy="321.2" r="2.6" fill="#e46d5b" fill-opacity="0.9"/>
<circle cx="733.4" cy="320.6" r="2.6" fill="#e46d5b" fill-opacity="0.9"/>
<circle cx="733.4" cy="320.4" r="2.6" fill="#e46d5b" fill-opacity="0.9"/>
<circle cx="733.6" cy="319.6" r="2.6" fill="#e46d5b" fill-opacity="0.9"/>
<circle cx="733.6" cy="318.4" r="2.6" fill="#e46d5b" fill-opacity="0.9"/>
<circle cx="735.8" cy="319.1" r="2.6" fill="#e46d5b" fill-opacity="0.9"/>
<circle cx="735.5" cy="317.0" r="2.6" fill="#e46d5b" fill-opacity="0.9"/>
<circle cx="737.7" cy="316.2" r="2.6" fill="#e46d5b" fill-opacity="0.9"/>
<circle cx="738.1" cy="317.4" r="2.6" fill="#e46d5b" fill-opacity="0.9"/>
<circle cx="737.2" cy="316.6" r="2.6" fill="#e46d5b" fill-opacity="0.9"/>
<circle cx="737.8" cy="314.0" r="2.6" fill="#e46d5b" fill-opacity="0.9"/>
<circle cx="738.8" cy="314.0" r="2.6" fill="#e46d5b" fill-opacity="0.9"/>
<circle cx="740.2" cy="313.4" r="2.6" fill="#e46d5b" fill-opacity="0.9"/>
<circle cx="741.3" cy="313.1" r="2.6" fill="#e46d5b" fill-opacity="0.9"/>
<circle cx="740.3" cy="311.2" r="2.6" fill="#e46d5b" fill-opacity="0.9"/>
<circle cx="742.5" cy="310.1" r="2.6" fill="#e46d5b" fill-opacity="0.9"/>
<circle cx="743.6" cy="310.9" r="2.6" fill="#e46d5b" fill-opacity="0.9"/>
<circle cx="742.5" cy="308.8" r="2.6" fill="#e46d5b" fill-opacity="0.9"/>
<circle cx="743.2" cy="308.3" r="2.6" fill="#e46d5b" fill-opacity="0.9"/>
<circle cx="743.8" cy="306.6" r="2.6" fill="#e46d5b" fill-opacity="0.9"/>
<circle cx="744.5" cy="306.1" r="2.6" fill="#e46d5b" fill-opacity="0.9"/>
<circle cx="745.3" cy="305.9" r="2.6" fill="#e46d5b" fill-opacity="0.9"/>
<circle cx="747.3" cy="305.6" r="2.6" fill="#e46d5b" fill-opacity="0.9"/>
<circle cx="747.4" cy="305.4" r="2.6" fill="#e46d5b" fill-opacity="0.9"/>
<circle cx="747.6" cy="303.6" r="2.6" fill="#e46d5b" fill-opacity="0.9"/>
<circle cx="748.0" cy="303.8" r="2.6" fill="#e46d5b" fill-opacity="0.9"/>
<circle cx="750.2" cy="303.2" r="2.6" fill="#e46d5b" fill-opacity="0.9"/>
<circle cx="750.3" cy="300.6" r="2.6" fill="#e46d5b" fill-opacity="0.9"/>
<circle cx="750.0" cy="301.9" r="2.6" fill="#e46d5b" fill-opacity="0.9"/>
<circle cx="752.9" cy="300.9" r="2.6" fill="#e46d5b" fill-opacity="0.9"/>
<circle cx="754.0" cy="301.5" r="2.6" fill="#e46d5b" fill-opacity="0.9"/>
<circle cx="754.6" cy="299.7" r="2.6" fill="#e46d5b" fill-opacity="0.9"/>
<circle cx="754.9" cy="299.1" r="2.6" fill="#e46d5b" fill-opacity="0.9"/>
<circle cx="699.8" cy="339.5" r="2.6" fill="#e46d5b" fill-opacity="0.9"/>
<circle cx="700.7" cy="338.4" r="2.6" fill="#e46d5b" fill-opacity="0.9"/>
<circle cx="702.5" cy="338.6" r="2.6" fill="#e46d5b" fill-opacity="0.9"/>
<circle cx="705.1" cy="338.3" r="2.6" fill="#e46d5b" fill-opacity="0.9"/>
<circle cx="705.4" cy="337.4" r="2.6" fill="#e46d5b" fill-opacity="0.9"/>
<circle cx="707.7" cy="336.4" r="2.6" fill="#e46d5b" fill-opacity="0.9"/>
<circle cx="708.3" cy="336.7" r="2.6" fill="#e46d5b" fill-opacity="0.9"/>
<circle cx="710.1" cy="336.2" r="2.6" fill="#e46d5b" fill-opacity="0.9"/>
<circle cx="711.5" cy="336.1" r="2.6" fill="#e46d5b" fill-opacity="0.9"/>
<circle cx="713.1" cy="334.7" r="2.6" fill="#e46d5b" fill-opacity="0.9"/>
<circle cx="714.9" cy="334.7" r="2.6" fill="#e46d5b" fill-opacity="0.9"/>
<circle cx="717.0" cy="333.9" r="2.6" fill="#e46d5b" fill-opacity="0.9"/>
<circle cx="718.0" cy="332.0" r="2.6" fill="#e46d5b" fill-opacity="0.9"/>
<circle cx="718.6" cy="332.0" r="2.6" fill="#e46d5b" fill-opacity="0.9"/>
<circle cx="721.3" cy="331.6" r="2.6" fill="#e46d5b" fill-opacity="0.9"/>
<circle cx="721.5" cy="330.3" r="2.6" fill="#e46d5b" fill-opacity="0.9"/>
<circle cx="724.1" cy="329.7" r="2.6" fill="#e46d5b" fill-opacity="0.9"/>
<circle cx="725.3" cy="329.4" r="2.6" fill="#e46d5b" fill-opacity="0.9"/>
<circle cx="726.5" cy="328.2" r="2.6" fill="#e46d5b" fill-opacity="0.9"/>
<circle cx="727.6" cy="326.9" r="2.6" fill="#e46d5b" fill-opacity="0.9"/>
<circle cx="728.1" cy="327.1" r="2.6" fill="#e46d5b" fill-opacity="0.9"/>
<circle cx="597.5" cy="290.7" r="2.6" fill="#c9c9c9" fill-opacity="0.9"/>
<circle cx="597.5" cy="298.8" r="2.6" fill="#c9c9c9" fill-opacity="0.9"/>
<circle cx="595.5" cy="274.8" r="2.6" fill="#c9c9c9" fill-opacity="0.9"/>
<circle cx="597" cy="290.9" r="2.6" fill="#c9c9c9" fill-opacity="0.9"/>
<circle cx="597" cy="294.3" r="2.6" fill="#c9c9c9" fill-opacity="0.9"/>
<circle cx="537.1" cy="341.8" r="2.6" fill="#c9c9c9" fill-opacity="0.9"/>
<circle cx="531.8" cy="341.3" r="2.6" fill="#c9c9c9" fill-opacity="0.9"/>
<circle cx="545.2" cy="343.6" r="2.6" fill="#c9c9c9" fill-opacity="0.9"/>
<circle cx="555.9" cy="344.5" r="2.6" fill="#c9c9c9" fill-opacity="0.9"/>
<circle cx="569.3" cy="342.7" r="2.6" fill="#c9c9c9" fill-opacity="0.9"/>
<circle cx="574.6" cy="342.7" r="2.6" fill="#c9c9c9" fill-opacity="0.9"/>
<circle cx="531.4" cy="341.1" r="2.6" fill="#c9c9c9" fill-opacity="0.9"/>
<circle cx="537.6" cy="341.6" r="2.6" fill="#c9c9c9" fill-opacity="0.9"/>
<circle cx="634" cy="289.5" r="2.6" fill="#c9c9c9" fill-opacity="0.9"/>
<circle cx="596.1" cy="274.6" r="2.6" fill="#c9c9c9" fill-opacity="0.9"/>
<circle cx="676.8" cy="343.8" r="2.6" fill="#c9c9c9" fill-opacity="0.9"/>
<circle cx="684.8" cy="342.5" r="2.6" fill="#c9c9c9" fill-opacity="0.9"/>
<circle cx="690.6" cy="341.6" r="2.6" fill="#c9c9c9" fill-opacity="0.9"/>
<circle cx="484.5" cy="309.5" r="2.6" fill="#6cbfe0" fill-opacity="0.9"/>
<circle cx="486.7" cy="312.6" r="2.6" fill="#6cbfe0" fill-opacity="0.9"/>
<circle cx="490.6" cy="319.7" r="2.6" fill="#6cbfe0" fill-opacity="0.9"/>
<circle cx="494.2" cy="319.7" r="2.6" fill="#6cbfe0" fill-opacity="0.9"/>
<circle cx="499" cy="324.5" r="2.6" fill="#6cbfe0" fill-opacity="0.9"/>
<circle cx="567.4" cy="42" r="2.6" fill="#6cbfe0" fill-opacity="0.9"/>
<circle cx="567.4" cy="166.6" r="2.6" fill="#6cbfe0" fill-opacity="0.9"/>
<circle cx="571.3" cy="191.1" r="2.6" fill="#6cbfe0" fill-opacity="0.9"/>
<circle cx="560.8" cy="219.9" r="2.6" fill="#6cbfe0" fill-opacity="0.9"/>
<circle cx="585.7" cy="222.4" r="2.6" fill="#6cbfe0" fill-opacity="0.9"/>
<circle cx="588.4" cy="252.2" r="2.6" fill="#6cbfe0" fill-opacity="0.9"/>
<circle cx="580.2" cy="255.1" r="2.6" fill="#6cbfe0" fill-opacity="0.9"/>
<circle cx="583.8" cy="256.1" r="2.6" fill="#6cbfe0" fill-opacity="0.9"/>
<circle cx="591.6" cy="262.6" r="2.6" fill="#6cbfe0" fill-opacity="0.9"/>
<circle cx="592.8" cy="265.2" r="2.6" fill="#6cbfe0" fill-opacity="0.9"/>
<circle cx="592" cy="267.2" r="2.6" fill="#6cbfe0" fill-opacity="0.9"/>
<circle cx="592.4" cy="274.4" r="2.6" fill="#6cbfe0" fill-opacity="0.9"/>
<circle cx="587.4" cy="280.2" r="2.6" fill="#6cbfe0" fill-opacity="0.9"/>
<circle cx="585.5" cy="288.6" r="2.6" fill="#6cbfe0" fill-opacity="0.9"/>
<circle cx="589" cy="288.6" r="2.6" fill="#6cbfe0" fill-opacity="0.9"/>
<circle cx="592" cy="294.7" r="2.6" fill="#6cbfe0" fill-opacity="0.9"/>
<circle cx="540.3" cy="306.1" r="2.6" fill="#6cbfe0" fill-opacity="0.9"/>
<circle cx="546" cy="302" r="2.6" fill="#6cbfe0" fill-opacity="0.9"/>
<circle cx="547.9" cy="310.5" r="2.6" fill="#6cbfe0" fill-opacity="0.9"/>
<circle cx="551.4" cy="313.4" r="2.6" fill="#6cbfe0" fill-opacity="0.9"/>
<circle cx="557.7" cy="308.3" r="2.6" fill="#6cbfe0" fill-opacity="0.9"/>
<circle cx="564.8" cy="308.8" r="2.6" fill="#6cbfe0" fill-opacity="0.9"/>
<circle cx="562.3" cy="313.4" r="2.6" fill="#6cbfe0" fill-opacity="0.9"/>
<circle cx="569.3" cy="319.9" r="2.6" fill="#6cbfe0" fill-opacity="0.9"/>
<circle cx="566.6" cy="323" r="2.6" fill="#6cbfe0" fill-opacity="0.9"/>
<circle cx="561.3" cy="327.1" r="2.6" fill="#6cbfe0" fill-opacity="0.9"/>
<circle cx="565.7" cy="329.3" r="2.6" fill="#6cbfe0" fill-opacity="0.9"/>
<circle cx="572.4" cy="327.1" r="2.6" fill="#6cbfe0" fill-opacity="0.9"/>
<circle cx="564.4" cy="336" r="2.6" fill="#6cbfe0" fill-opacity="0.9"/>
<circle cx="554.1" cy="340" r="2.6" fill="#6cbfe0" fill-opacity="0.9"/>
<circle cx="531.3" cy="338.7" r="2.6" fill="#6cbfe0" fill-opacity="0.9"/>
<circle cx="591.6" cy="294.9" r="2.6" fill="#6cbfe0" fill-opacity="0.9"/>
<circle cx="539.1" cy="306.4" r="2.6" fill="#6cbfe0" fill-opacity="0.9"/>
<circle cx="592" cy="274.1" r="2.6" fill="#6cbfe0" fill-opacity="0.9"/>
<circle cx="590" cy="288.3" r="2.6" fill="#6cbfe0" fill-opacity="0.9"/>
<circle cx="591.5" cy="294.5" r="2.6" fill="#6cbfe0" fill-opacity="0.9"/>
<circle cx="591" cy="308.7" r="2.6" fill="#6cbfe0" fill-opacity="0.9"/>
<circle cx="572" cy="301" r="2.6" fill="#6cbfe0" fill-opacity="0.9"/>
<circle cx="578.5" cy="300.5" r="2.6" fill="#6cbfe0" fill-opacity="0.9"/>
<circle cx="674.6" cy="98.5" r="2.6" fill="#e46d5b" fill-opacity="0.9"/>
<circle cx="678.9" cy="126.2" r="2.6" fill="#e46d5b" fill-opacity="0.9"/>
<circle cx="729.2" cy="134.3" r="2.6" fill="#e46d5b" fill-opacity="0.9"/>
<circle cx="659.7" cy="161.6" r="2.6" fill="#e46d5b" fill-opacity="0.9"/>
<circle cx="654.8" cy="178.2" r="2.6" fill="#e46d5b" fill-opacity="0.9"/>
<circle cx="645.2" cy="181.9" r="2.6" fill="#e46d5b" fill-opacity="0.9"/>
<circle cx="650.7" cy="183.8" r="2.6" fill="#e46d5b" fill-opacity="0.9"/>
<circle cx="651.4" cy="186.1" r="2.6" fill="#e46d5b" fill-opacity="0.9"/>
<circle cx="646.5" cy="191.4" r="2.6" fill="#e46d5b" fill-opacity="0.9"/>
<circle cx="661" cy="196.5" r="2.6" fill="#e46d5b" fill-opacity="0.9"/>
<circle cx="645.6" cy="203" r="2.6" fill="#e46d5b" fill-opacity="0.9"/>
<circle cx="652.1" cy="207.3" r="2.6" fill="#e46d5b" fill-opacity="0.9"/>
<circle cx="657.9" cy="219.1" r="2.6" fill="#e46d5b" fill-opacity="0.9"/>
<circle cx="695.4" cy="224" r="2.6" fill="#e46d5b" fill-opacity="0.9"/>
<circle cx="639.8" cy="236.5" r="2.6" fill="#e46d5b" fill-opacity="0.9"/>
<circle cx="652.9" cy="234.1" r="2.6" fill="#e46d5b" fill-opacity="0.9"/>
<circle cx="662.3" cy="237.9" r="2.6" fill="#e46d5b" fill-opacity="0.9"/>
<circle cx="638.8" cy="252.4" r="2.6" fill="#e46d5b" fill-opacity="0.9"/>
<circle cx="646.1" cy="250" r="2.6" fill="#e46d5b" fill-opacity="0.9"/>
<circle cx="652.3" cy="252.9" r="2.6" fill="#e46d5b" fill-opacity="0.9"/>
<circle cx="650.1" cy="255.5" r="2.6" fill="#e46d5b" fill-opacity="0.9"/>
<circle cx="665" cy="260.4" r="2.6" fill="#e46d5b" fill-opacity="0.9"/>
<circle cx="644.5" cy="262.2" r="2.6" fill="#e46d5b" fill-opacity="0.9"/>
<circle cx="640.9" cy="266.4" r="2.6" fill="#e46d5b" fill-opacity="0.9"/>
<circle cx="658.8" cy="265.8" r="2.6" fill="#e46d5b" fill-opacity="0.9"/>
<circle cx="637.1" cy="270.7" r="2.6" fill="#e46d5b" fill-opacity="0.9"/>
<circle cx="637.6" cy="274.3" r="2.6" fill="#e46d5b" fill-opacity="0.9"/>
<circle cx="637.6" cy="278.8" r="2.6" fill="#e46d5b" fill-opacity="0.9"/>
<circle cx="646.1" cy="276.5" r="2.6" fill="#e46d5b" fill-opacity="0.9"/>
<circle cx="648.8" cy="279.6" r="2.6" fill="#e46d5b" fill-opacity="0.9"/>
<circle cx="668" cy="275.2" r="2.6" fill="#e46d5b" fill-opacity="0.9"/>
<circle cx="651.6" cy="286.3" r="2.6" fill="#e46d5b" fill-opacity="0.9"/>
<circle cx="660.2" cy="284.8" r="2.6" fill="#e46d5b" fill-opacity="0.9"/>
<circle cx="654.3" cy="290.5" r="2.6" fill="#e46d5b" fill-opacity="0.9"/>
<circle cx="655.7" cy="294.6" r="2.6" fill="#e46d5b" fill-opacity="0.9"/>
<circle cx="660.8" cy="292" r="2.6" fill="#e46d5b" fill-opacity="0.9"/>
<circle cx="651" cy="296.2" r="2.6" fill="#e46d5b" fill-opacity="0.9"/>
<circle cx="636.4" cy="294.6" r="2.6" fill="#e46d5b" fill-opacity="0.9"/>
<circle cx="668" cy="294.4" r="2.6" fill="#e46d5b" fill-opacity="0.9"/>
<circle cx="670.6" cy="296.4" r="2.6" fill="#e46d5b" fill-opacity="0.9"/>
<circle cx="678.2" cy="298.4" r="2.6" fill="#e46d5b" fill-opacity="0.9"/>
<circle cx="689.4" cy="297.1" r="2.6" fill="#e46d5b" fill-opacity="0.9"/>
<circle cx="694.7" cy="298.4" r="2.6" fill="#e46d5b" fill-opacity="0.9"/>
<circle cx="698.8" cy="283.9" r="2.6" fill="#e46d5b" fill-opacity="0.9"/>
<circle cx="640.9" cy="301.1" r="2.6" fill="#e46d5b" fill-opacity="0.9"/>
<circle cx="665.3" cy="303.3" r="2.6" fill="#e46d5b" fill-opacity="0.9"/>
<circle cx="669.7" cy="304.2" r="2.6" fill="#e46d5b" fill-opacity="0.9"/>
<circle cx="708.2" cy="263" r="2.6" fill="#e46d5b" fill-opacity="0.9"/>
<circle cx="766.5" cy="274.3" r="2.6" fill="#e46d5b" fill-opacity="0.9"/>
<circle cx="766.7" cy="275.5" r="2.6" fill="#e46d5b" fill-opacity="0.9"/>
<circle cx="759" cy="289.3" r="2.6" fill="#e46d5b" fill-opacity="0.9"/>
<circle cx="762" cy="289.3" r="2.6" fill="#e46d5b" fill-opacity="0.9"/>
<circle cx="636.9" cy="272" r="2.6" fill="#e46d5b" fill-opacity="0.9"/>
<circle cx="637.4" cy="276.1" r="2.6" fill="#e46d5b" fill-opacity="0.9"/>
<circle cx="637.9" cy="279.2" r="2.6" fill="#e46d5b" fill-opacity="0.9"/>
<circle cx="646.1" cy="276.6" r="2.6" fill="#e46d5b" fill-opacity="0.9"/>
<circle cx="649.1" cy="279.7" r="2.6" fill="#e46d5b" fill-opacity="0.9"/>
<circle cx="651.2" cy="286.3" r="2.6" fill="#e46d5b" fill-opacity="0.9"/>
<circle cx="655.2" cy="290.4" r="2.6" fill="#e46d5b" fill-opacity="0.9"/>
<circle cx="651.2" cy="295.5" r="2.6" fill="#e46d5b" fill-opacity="0.9"/>
<circle cx="654.7" cy="294.5" r="2.6" fill="#e46d5b" fill-opacity="0.9"/>
<circle cx="659.3" cy="285.3" r="2.6" fill="#e46d5b" fill-opacity="0.9"/>
<circle cx="636.4" cy="294.5" r="2.6" fill="#e46d5b" fill-opacity="0.9"/>
<circle cx="640.7" cy="300.6" r="2.6" fill="#e46d5b" fill-opacity="0.9"/>
<circle cx="654.5" cy="290.7" r="2.6" fill="#e46d5b" fill-opacity="0.9"/>
<circle cx="665.2" cy="303.4" r="2.6" fill="#e46d5b" fill-opacity="0.9"/>
<circle cx="669.8" cy="304.8" r="2.6" fill="#e46d5b" fill-opacity="0.9"/>
<circle cx="654" cy="306.8" r="2.6" fill="#e46d5b" fill-opacity="0.9"/>
<circle cx="661.2" cy="308.6" r="2.6" fill="#e46d5b" fill-opacity="0.9"/>
<circle cx="665.6" cy="308.4" r="2.6" fill="#e46d5b" fill-opacity="0.9"/>
<circle cx="676.8" cy="308.4" r="2.6" fill="#e46d5b" fill-opacity="0.9"/>
<circle cx="654" cy="312.6" r="2.6" fill="#e46d5b" fill-opacity="0.9"/>
<circle cx="665.2" cy="313" r="2.6" fill="#e46d5b" fill-opacity="0.9"/>
<circle cx="671" cy="315.3" r="2.6" fill="#e46d5b" fill-opacity="0.9"/>
<circle cx="678.6" cy="319.1" r="2.6" fill="#e46d5b" fill-opacity="0.9"/>
<circle cx="671.4" cy="321.5" r="2.6" fill="#e46d5b" fill-opacity="0.9"/>
<circle cx="653.6" cy="321.5" r="2.6" fill="#e46d5b" fill-opacity="0.9"/>
<circle cx="655.4" cy="320.2" r="2.6" fill="#e46d5b" fill-opacity="0.9"/>
<circle cx="664.3" cy="332.7" r="2.6" fill="#e46d5b" fill-opacity="0.9"/>
<circle cx="661.2" cy="337.1" r="2.6" fill="#e46d5b" fill-opacity="0.9"/>
<circle cx="760" cy="289.4" r="2.6" fill="#e46d5b" fill-opacity="0.9"/>
<circle cx="761.3" cy="289.4" r="2.6" fill="#e46d5b" fill-opacity="0.9"/>
<rect x="449.3" y="38.4" width="331.2" height="308.6" fill="none" stroke="#6a6a6a" stroke-width="1.3"/>
<line x1="449.3" y1="38.4" x2="449.3" y2="347.0" stroke="#8a8a8a" stroke-width="1.8"/>
<line x1="449.5" y1="347.0" x2="449.5" y2="350.0" stroke="#6a6a6a" stroke-width="1"/>
<text x="449.5" y="363.3" font-size="14" text-anchor="middle" >-8</text>
<line x1="490.9" y1="347.0" x2="490.9" y2="350.0" stroke="#6a6a6a" stroke-width="1"/>
<text x="490.9" y="363.3" font-size="14" text-anchor="middle" >-6</text>
<line x1="532.2" y1="347.0" x2="532.2" y2="350.0" stroke="#6a6a6a" stroke-width="1"/>
<text x="532.2" y="363.3" font-size="14" text-anchor="middle" >-4</text>
<line x1="573.6" y1="347.0" x2="573.6" y2="350.0" stroke="#6a6a6a" stroke-width="1"/>
<text x="573.6" y="363.3" font-size="14" text-anchor="middle" >-2</text>
<line x1="615.0" y1="347.0" x2="615.0" y2="350.0" stroke="#6a6a6a" stroke-width="1"/>
<text x="615.0" y="363.3" font-size="14" text-anchor="middle" >0</text>
<line x1="656.4" y1="347.0" x2="656.4" y2="350.0" stroke="#6a6a6a" stroke-width="1"/>
<text x="656.4" y="363.3" font-size="14" text-anchor="middle" >2</text>
<line x1="697.8" y1="347.0" x2="697.8" y2="350.0" stroke="#6a6a6a" stroke-width="1"/>
<text x="697.8" y="363.3" font-size="14" text-anchor="middle" >4</text>
<line x1="739.1" y1="347.0" x2="739.1" y2="350.0" stroke="#6a6a6a" stroke-width="1"/>
<text x="739.1" y="363.3" font-size="14" text-anchor="middle" >6</text>
<line x1="780.5" y1="347.0" x2="780.5" y2="350.0" stroke="#6a6a6a" stroke-width="1"/>
<text x="780.5" y="363.3" font-size="14" text-anchor="middle" >8</text>
<line x1="446.3" y1="347.0" x2="449.3" y2="347.0" stroke="#6a6a6a" stroke-width="1"/>
<text x="443.6" y="351.6" font-size="14" text-anchor="end" >0</text>
<line x1="446.3" y1="298.0" x2="449.3" y2="298.0" stroke="#6a6a6a" stroke-width="1"/>
<text x="443.6" y="302.6" font-size="14" text-anchor="end" >10</text>
<line x1="446.3" y1="249.0" x2="449.3" y2="249.0" stroke="#6a6a6a" stroke-width="1"/>
<text x="443.6" y="253.6" font-size="14" text-anchor="end" >20</text>
<line x1="446.3" y1="200.0" x2="449.3" y2="200.0" stroke="#6a6a6a" stroke-width="1"/>
<text x="443.6" y="204.6" font-size="14" text-anchor="end" >30</text>
<line x1="446.3" y1="151.0" x2="449.3" y2="151.0" stroke="#6a6a6a" stroke-width="1"/>
<text x="443.6" y="155.6" font-size="14" text-anchor="end" >40</text>
<line x1="446.3" y1="102.0" x2="449.3" y2="102.0" stroke="#6a6a6a" stroke-width="1"/>
<text x="443.6" y="106.6" font-size="14" text-anchor="end" >50</text>
<line x1="446.3" y1="53.0" x2="449.3" y2="53.0" stroke="#6a6a6a" stroke-width="1"/>
<text x="443.6" y="57.6" font-size="14" text-anchor="end" >60</text>
<text x="649.8" y="101.7" font-size="12.0" text-anchor="start" >Gm17767</text>
<text x="542.1" y="304.7" font-size="12.0" text-anchor="start" >Gm29669</text>
<text x="593.1" y="317.9" font-size="12.0" text-anchor="start" >Gm29157</text>
<text x="568.8" y="340.4" font-size="12.0" text-anchor="start" >Gm28644</text>
<text x="679.5" y="317.9" font-size="12.0" text-anchor="start" >Gm28178</text>
<text x="643.5" y="331.2" font-size="12.0" text-anchor="start" >Gm29520</text>
<text x="731.4" y="331.3" font-size="12.0" text-anchor="start" >Gm28634</text>
<text x="694.6" y="344.3" font-size="12.0" text-anchor="start" >Gm11579</text>
<circle cx="478" cy="21.9" r="3.9" fill="#6cbfe0" fill-opacity="0.82"/>
<text x="487.0" y="25.6" font-size="10.7" text-anchor="start" >Down regulated(131)</text>
<circle cx="594.7" cy="21.9" r="3.9" fill="#c9c9c9" fill-opacity="0.82"/>
<text x="603.7" y="25.6" font-size="10.7" text-anchor="start" >Not sig(879)</text>
<circle cx="674.6" cy="21.9" r="3.9" fill="#e46d5b" fill-opacity="0.82"/>
<text x="683.6" y="25.6" font-size="10.7" text-anchor="start" >Up regulated(254)</text>
<text x="610.3" y="387.2" font-size="18" text-anchor="middle">log<tspan font-size="12.2">2</tspan>(Fold Change)</text>
<text transform="translate(415.6,166.6) rotate(-90)" x="0" y="0" font-size="18" text-anchor="middle">-log<tspan font-size="12.2">10</tspan>(Qvalue)</text>
<line x1="202.1" y1="429.1" x2="202.1" y2="737.2" stroke="#d0d0d0" stroke-width="1"/>
<line x1="222.7" y1="429.1" x2="222.7" y2="737.2" stroke="#d0d0d0" stroke-width="1"/>
<line x1="47.6" y1="732.9" x2="377.4" y2="732.9" stroke="#d2d2d2" stroke-width="1.6" stroke-dasharray="2,1"/>
<polygon points="140.0,429.5 187.8,429.5 190.0,470.0 193.0,525.0 199.3,615.0 201.8,640.0 205.3,686.0 199.8,687.0 199.5,720.0 195.4,711.3 190.3,697.3 186.5,678.2 181.4,660.4 179.1,646.0 180.4,637.0 179.1,618.0 181.0,605.0 183.4,591.0 183.4,566.0 182.1,540.0 184.0,515.0 183.4,476.0 182.1,450.0 182.1,435.5 140.0,435.5" fill="#5cb3d9" fill-opacity="1"/>
<polygon points="238.0,429.5 309.0,429.5 309.0,435.0 250.0,435.0 250.4,457.0 249.1,482.0 250.0,501.0 251.0,525.0 250.5,534.0 251.8,566.0 249.0,579.0 250.5,591.5 251.0,615.0 249.2,637.0 247.3,656.0 244.1,668.7 240.9,681.4 237.7,694.2 235.2,705.0 233.6,707.5 228.5,721.5 225.5,727.0 226.0,691.0 220.2,686.0 224.0,640.0 227.6,615.0 232.7,515.0 235.5,470.0" fill="#dc5844" fill-opacity="1"/>
<circle cx="177.7" cy="504.2" r="3.4" fill="#5cb3d9" fill-opacity="0.85"/>
<circle cx="182.0" cy="535.3" r="3.4" fill="#5cb3d9" fill-opacity="0.85"/>
<circle cx="180.0" cy="577.0" r="3.4" fill="#5cb3d9" fill-opacity="0.85"/>
<circle cx="182.7" cy="676.5" r="3.4" fill="#5cb3d9" fill-opacity="0.85"/>
<circle cx="182.7" cy="456.5" r="3.4" fill="#5cb3d9" fill-opacity="0.85"/>
<circle cx="177.6" cy="646.6" r="3.4" fill="#5cb3d9" fill-opacity="0.85"/>
<circle cx="176.7" cy="536.2" r="3.4" fill="#5cb3d9" fill-opacity="0.85"/>
<circle cx="180.7" cy="594.7" r="3.4" fill="#5cb3d9" fill-opacity="0.85"/>
<circle cx="180.1" cy="568.6" r="3.4" fill="#5cb3d9" fill-opacity="0.85"/>
<circle cx="181.2" cy="590.3" r="3.4" fill="#5cb3d9" fill-opacity="0.85"/>
<circle cx="176.0" cy="454.9" r="3.4" fill="#5cb3d9" fill-opacity="0.85"/>
<circle cx="186.6" cy="681.7" r="3.4" fill="#5cb3d9" fill-opacity="0.85"/>
<circle cx="182.3" cy="455.7" r="3.4" fill="#5cb3d9" fill-opacity="0.85"/>
<circle cx="177.0" cy="526.4" r="3.4" fill="#5cb3d9" fill-opacity="0.85"/>
<circle cx="180.0" cy="666.2" r="3.4" fill="#5cb3d9" fill-opacity="0.85"/>
<circle cx="178.7" cy="520.5" r="3.4" fill="#5cb3d9" fill-opacity="0.85"/>
<circle cx="179.6" cy="610.9" r="3.4" fill="#5cb3d9" fill-opacity="0.85"/>
<circle cx="180.2" cy="533.1" r="3.4" fill="#5cb3d9" fill-opacity="0.85"/>
<circle cx="181.9" cy="580.2" r="3.4" fill="#5cb3d9" fill-opacity="0.85"/>
<circle cx="185.7" cy="677.2" r="3.4" fill="#5cb3d9" fill-opacity="0.85"/>
<circle cx="181.9" cy="560.0" r="3.4" fill="#5cb3d9" fill-opacity="0.85"/>
<circle cx="191.7" cy="704.0" r="3.4" fill="#5cb3d9" fill-opacity="0.85"/>
<circle cx="178.4" cy="637.6" r="3.4" fill="#5cb3d9" fill-opacity="0.85"/>
<circle cx="178.5" cy="640.5" r="3.4" fill="#5cb3d9" fill-opacity="0.85"/>
<circle cx="176.7" cy="598.5" r="3.4" fill="#5cb3d9" fill-opacity="0.85"/>
<circle cx="174.2" cy="636.3" r="3.4" fill="#5cb3d9" fill-opacity="0.85"/>
<circle cx="179.8" cy="460.4" r="3.4" fill="#5cb3d9" fill-opacity="0.85"/>
<circle cx="176.6" cy="558.0" r="3.4" fill="#5cb3d9" fill-opacity="0.85"/>
<circle cx="176.9" cy="571.4" r="3.4" fill="#5cb3d9" fill-opacity="0.85"/>
<circle cx="183.3" cy="588.4" r="3.4" fill="#5cb3d9" fill-opacity="0.85"/>
<circle cx="176.8" cy="605.9" r="3.4" fill="#5cb3d9" fill-opacity="0.85"/>
<circle cx="176.5" cy="437.8" r="3.4" fill="#5cb3d9" fill-opacity="0.85"/>
<circle cx="182.9" cy="666.5" r="3.4" fill="#5cb3d9" fill-opacity="0.85"/>
<circle cx="174.2" cy="635.3" r="3.4" fill="#5cb3d9" fill-opacity="0.85"/>
<circle cx="182.9" cy="486.2" r="3.4" fill="#5cb3d9" fill-opacity="0.85"/>
<circle cx="183.1" cy="671.4" r="3.4" fill="#5cb3d9" fill-opacity="0.85"/>
<circle cx="183.2" cy="678.1" r="3.4" fill="#5cb3d9" fill-opacity="0.85"/>
<circle cx="181.4" cy="524.8" r="3.4" fill="#5cb3d9" fill-opacity="0.85"/>
<circle cx="179.3" cy="439.9" r="3.4" fill="#5cb3d9" fill-opacity="0.85"/>
<circle cx="183.3" cy="584.5" r="3.4" fill="#5cb3d9" fill-opacity="0.85"/>
<circle cx="178.4" cy="491.2" r="3.4" fill="#5cb3d9" fill-opacity="0.85"/>
<circle cx="181.1" cy="600.3" r="3.4" fill="#5cb3d9" fill-opacity="0.85"/>
<circle cx="179.5" cy="498.0" r="3.4" fill="#5cb3d9" fill-opacity="0.85"/>
<circle cx="178.0" cy="454.2" r="3.4" fill="#5cb3d9" fill-opacity="0.85"/>
<circle cx="182.8" cy="585.6" r="3.4" fill="#5cb3d9" fill-opacity="0.85"/>
<circle cx="177.7" cy="479.7" r="3.4" fill="#5cb3d9" fill-opacity="0.85"/>
<circle cx="180.1" cy="473.8" r="3.4" fill="#5cb3d9" fill-opacity="0.85"/>
<circle cx="181.0" cy="484.1" r="3.4" fill="#5cb3d9" fill-opacity="0.85"/>
<circle cx="178.3" cy="573.2" r="3.4" fill="#5cb3d9" fill-opacity="0.85"/>
<circle cx="181.1" cy="474.1" r="3.4" fill="#5cb3d9" fill-opacity="0.85"/>
<circle cx="184.9" cy="680.9" r="3.4" fill="#5cb3d9" fill-opacity="0.85"/>
<circle cx="182.0" cy="464.9" r="3.4" fill="#5cb3d9" fill-opacity="0.85"/>
<circle cx="181.3" cy="532.3" r="3.4" fill="#5cb3d9" fill-opacity="0.85"/>
<circle cx="181.2" cy="587.5" r="3.4" fill="#5cb3d9" fill-opacity="0.85"/>
<circle cx="177.6" cy="454.0" r="3.4" fill="#5cb3d9" fill-opacity="0.85"/>
<circle cx="178.3" cy="441.8" r="3.4" fill="#5cb3d9" fill-opacity="0.85"/>
<circle cx="182.3" cy="673.3" r="3.4" fill="#5cb3d9" fill-opacity="0.85"/>
<circle cx="180.8" cy="668.2" r="3.4" fill="#5cb3d9" fill-opacity="0.85"/>
<circle cx="178.5" cy="612.5" r="3.4" fill="#5cb3d9" fill-opacity="0.85"/>
<circle cx="182.8" cy="477.1" r="3.4" fill="#5cb3d9" fill-opacity="0.85"/>
<circle cx="179.5" cy="566.4" r="3.4" fill="#5cb3d9" fill-opacity="0.85"/>
<circle cx="190.8" cy="706.5" r="3.4" fill="#5cb3d9" fill-opacity="0.85"/>
<circle cx="182.7" cy="565.7" r="3.4" fill="#5cb3d9" fill-opacity="0.85"/>
<circle cx="181.3" cy="462.5" r="3.4" fill="#5cb3d9" fill-opacity="0.85"/>
<circle cx="175.5" cy="616.6" r="3.4" fill="#5cb3d9" fill-opacity="0.85"/>
<circle cx="179.9" cy="604.7" r="3.4" fill="#5cb3d9" fill-opacity="0.85"/>
<circle cx="181.8" cy="447.3" r="3.4" fill="#5cb3d9" fill-opacity="0.85"/>
<circle cx="179.0" cy="484.0" r="3.4" fill="#5cb3d9" fill-opacity="0.85"/>
<circle cx="175.5" cy="625.1" r="3.4" fill="#5cb3d9" fill-opacity="0.85"/>
<circle cx="188.4" cy="692.1" r="3.4" fill="#5cb3d9" fill-opacity="0.85"/>
<circle cx="179.8" cy="652.6" r="3.4" fill="#5cb3d9" fill-opacity="0.85"/>
<circle cx="179.3" cy="567.0" r="3.4" fill="#5cb3d9" fill-opacity="0.85"/>
<circle cx="177.1" cy="647.9" r="3.4" fill="#5cb3d9" fill-opacity="0.85"/>
<circle cx="181.2" cy="675.5" r="3.4" fill="#5cb3d9" fill-opacity="0.85"/>
<circle cx="180.2" cy="496.1" r="3.4" fill="#5cb3d9" fill-opacity="0.85"/>
<circle cx="178.8" cy="626.7" r="3.4" fill="#5cb3d9" fill-opacity="0.85"/>
<circle cx="175.4" cy="625.0" r="3.4" fill="#5cb3d9" fill-opacity="0.85"/>
<circle cx="181.5" cy="445.7" r="3.4" fill="#5cb3d9" fill-opacity="0.85"/>
<circle cx="182.8" cy="578.4" r="3.4" fill="#5cb3d9" fill-opacity="0.85"/>
<circle cx="186.3" cy="682.7" r="3.4" fill="#5cb3d9" fill-opacity="0.85"/>
<circle cx="182.7" cy="588.8" r="3.4" fill="#5cb3d9" fill-opacity="0.85"/>
<circle cx="187.0" cy="696.9" r="3.4" fill="#5cb3d9" fill-opacity="0.85"/>
<circle cx="179.6" cy="606.1" r="3.4" fill="#5cb3d9" fill-opacity="0.85"/>
<circle cx="179.1" cy="600.3" r="3.4" fill="#5cb3d9" fill-opacity="0.85"/>
<circle cx="178.9" cy="665.0" r="3.4" fill="#5cb3d9" fill-opacity="0.85"/>
<circle cx="175.4" cy="652.0" r="3.4" fill="#5cb3d9" fill-opacity="0.85"/>
<circle cx="176.4" cy="633.1" r="3.4" fill="#5cb3d9" fill-opacity="0.85"/>
<circle cx="187.8" cy="687.3" r="3.4" fill="#5cb3d9" fill-opacity="0.85"/>
<circle cx="190.2" cy="703.9" r="3.4" fill="#5cb3d9" fill-opacity="0.85"/>
<circle cx="178.2" cy="443.8" r="3.4" fill="#5cb3d9" fill-opacity="0.85"/>
<circle cx="255.6" cy="547.7" r="3.4" fill="#dc5844" fill-opacity="0.85"/>
<circle cx="257.8" cy="458.8" r="3.4" fill="#dc5844" fill-opacity="0.85"/>
<circle cx="251.3" cy="530.6" r="3.4" fill="#dc5844" fill-opacity="0.85"/>
<circle cx="256.8" cy="482.5" r="3.4" fill="#dc5844" fill-opacity="0.85"/>
<circle cx="253.3" cy="520.5" r="3.4" fill="#dc5844" fill-opacity="0.85"/>
<circle cx="256.8" cy="605.0" r="3.4" fill="#dc5844" fill-opacity="0.85"/>
<circle cx="244.8" cy="683.1" r="3.4" fill="#dc5844" fill-opacity="0.85"/>
<circle cx="253.3" cy="520.5" r="3.4" fill="#dc5844" fill-opacity="0.85"/>
<circle cx="249.1" cy="652.0" r="3.4" fill="#dc5844" fill-opacity="0.85"/>
<circle cx="250.1" cy="438.7" r="3.4" fill="#dc5844" fill-opacity="0.85"/>
<circle cx="259.0" cy="560.6" r="3.4" fill="#dc5844" fill-opacity="0.85"/>
<circle cx="249.7" cy="488.3" r="3.4" fill="#dc5844" fill-opacity="0.85"/>
<circle cx="257.1" cy="488.5" r="3.4" fill="#dc5844" fill-opacity="0.85"/>
<circle cx="242.0" cy="682.4" r="3.4" fill="#dc5844" fill-opacity="0.85"/>
<circle cx="251.6" cy="622.6" r="3.4" fill="#dc5844" fill-opacity="0.85"/>
<circle cx="252.6" cy="443.0" r="3.4" fill="#dc5844" fill-opacity="0.85"/>
<circle cx="249.7" cy="489.0" r="3.4" fill="#dc5844" fill-opacity="0.85"/>
<circle cx="257.2" cy="580.2" r="3.4" fill="#dc5844" fill-opacity="0.85"/>
<circle cx="246.5" cy="681.3" r="3.4" fill="#dc5844" fill-opacity="0.85"/>
<circle cx="250.9" cy="662.3" r="3.4" fill="#dc5844" fill-opacity="0.85"/>
<circle cx="257.3" cy="453.7" r="3.4" fill="#dc5844" fill-opacity="0.85"/>
<circle cx="253.1" cy="471.7" r="3.4" fill="#dc5844" fill-opacity="0.85"/>
<circle cx="249.6" cy="480.2" r="3.4" fill="#dc5844" fill-opacity="0.85"/>
<circle cx="257.5" cy="440.0" r="3.4" fill="#dc5844" fill-opacity="0.85"/>
<circle cx="256.0" cy="590.0" r="3.4" fill="#dc5844" fill-opacity="0.85"/>
<circle cx="257.2" cy="453.3" r="3.4" fill="#dc5844" fill-opacity="0.85"/>
<circle cx="255.9" cy="594.4" r="3.4" fill="#dc5844" fill-opacity="0.85"/>
<circle cx="256.6" cy="556.5" r="3.4" fill="#dc5844" fill-opacity="0.85"/>
<circle cx="251.1" cy="655.0" r="3.4" fill="#dc5844" fill-opacity="0.85"/>
<circle cx="250.8" cy="452.5" r="3.4" fill="#dc5844" fill-opacity="0.85"/>
<circle cx="251.7" cy="643.9" r="3.4" fill="#dc5844" fill-opacity="0.85"/>
<circle cx="258.8" cy="559.7" r="3.4" fill="#dc5844" fill-opacity="0.85"/>
<circle cx="252.8" cy="511.3" r="3.4" fill="#dc5844" fill-opacity="0.85"/>
<circle cx="250.8" cy="644.7" r="3.4" fill="#dc5844" fill-opacity="0.85"/>
<circle cx="256.5" cy="471.3" r="3.4" fill="#dc5844" fill-opacity="0.85"/>
<circle cx="253.7" cy="634.4" r="3.4" fill="#dc5844" fill-opacity="0.85"/>
<circle cx="252.5" cy="495.5" r="3.4" fill="#dc5844" fill-opacity="0.85"/>
<circle cx="254.2" cy="482.4" r="3.4" fill="#dc5844" fill-opacity="0.85"/>
<circle cx="255.0" cy="559.2" r="3.4" fill="#dc5844" fill-opacity="0.85"/>
<circle cx="255.7" cy="564.4" r="3.4" fill="#dc5844" fill-opacity="0.85"/>
<circle cx="250.2" cy="589.0" r="3.4" fill="#dc5844" fill-opacity="0.85"/>
<circle cx="251.5" cy="621.3" r="3.4" fill="#dc5844" fill-opacity="0.85"/>
<circle cx="245.4" cy="665.8" r="3.4" fill="#dc5844" fill-opacity="0.85"/>
<circle cx="253.6" cy="442.2" r="3.4" fill="#dc5844" fill-opacity="0.85"/>
<circle cx="251.5" cy="480.2" r="3.4" fill="#dc5844" fill-opacity="0.85"/>
<circle cx="256.4" cy="496.4" r="3.4" fill="#dc5844" fill-opacity="0.85"/>
<circle cx="259.4" cy="555.1" r="3.4" fill="#dc5844" fill-opacity="0.85"/>
<circle cx="256.4" cy="600.6" r="3.4" fill="#dc5844" fill-opacity="0.85"/>
<circle cx="253.6" cy="547.7" r="3.4" fill="#dc5844" fill-opacity="0.85"/>
<circle cx="245.2" cy="687.7" r="3.4" fill="#dc5844" fill-opacity="0.85"/>
<circle cx="254.4" cy="480.1" r="3.4" fill="#dc5844" fill-opacity="0.85"/>
<circle cx="247.3" cy="663.2" r="3.4" fill="#dc5844" fill-opacity="0.85"/>
<circle cx="252.4" cy="507.6" r="3.4" fill="#dc5844" fill-opacity="0.85"/>
<circle cx="257.2" cy="479.6" r="3.4" fill="#dc5844" fill-opacity="0.85"/>
<circle cx="256.0" cy="466.1" r="3.4" fill="#dc5844" fill-opacity="0.85"/>
<circle cx="255.2" cy="451.7" r="3.4" fill="#dc5844" fill-opacity="0.85"/>
<circle cx="254.2" cy="492.5" r="3.4" fill="#dc5844" fill-opacity="0.85"/>
<circle cx="251.0" cy="466.1" r="3.4" fill="#dc5844" fill-opacity="0.85"/>
<circle cx="258.6" cy="541.8" r="3.4" fill="#dc5844" fill-opacity="0.85"/>
<circle cx="253.9" cy="554.5" r="3.4" fill="#dc5844" fill-opacity="0.85"/>
<circle cx="238.9" cy="697.7" r="3.4" fill="#dc5844" fill-opacity="0.85"/>
<circle cx="256.5" cy="467.2" r="3.4" fill="#dc5844" fill-opacity="0.85"/>
<circle cx="242.3" cy="693.5" r="3.4" fill="#dc5844" fill-opacity="0.85"/>
<circle cx="254.9" cy="517.3" r="3.4" fill="#dc5844" fill-opacity="0.85"/>
<circle cx="256.6" cy="473.6" r="3.4" fill="#dc5844" fill-opacity="0.85"/>
<circle cx="253.4" cy="445.3" r="3.4" fill="#dc5844" fill-opacity="0.85"/>
<circle cx="241.2" cy="683.4" r="3.4" fill="#dc5844" fill-opacity="0.85"/>
<circle cx="247.2" cy="669.7" r="3.4" fill="#dc5844" fill-opacity="0.85"/>
<circle cx="253.8" cy="545.4" r="3.4" fill="#dc5844" fill-opacity="0.85"/>
<circle cx="251.9" cy="515.0" r="3.4" fill="#dc5844" fill-opacity="0.85"/>
<circle cx="254.7" cy="521.9" r="3.4" fill="#dc5844" fill-opacity="0.85"/>
<circle cx="253.2" cy="642.4" r="3.4" fill="#dc5844" fill-opacity="0.85"/>
<circle cx="252.2" cy="551.2" r="3.4" fill="#dc5844" fill-opacity="0.85"/>
<circle cx="251.0" cy="643.3" r="3.4" fill="#dc5844" fill-opacity="0.85"/>
<circle cx="255.7" cy="576.5" r="3.4" fill="#dc5844" fill-opacity="0.85"/>
<circle cx="251.4" cy="660.1" r="3.4" fill="#dc5844" fill-opacity="0.85"/>
<circle cx="253.8" cy="594.5" r="3.4" fill="#dc5844" fill-opacity="0.85"/>
<circle cx="252.8" cy="647.9" r="3.4" fill="#dc5844" fill-opacity="0.85"/>
<circle cx="254.2" cy="479.4" r="3.4" fill="#dc5844" fill-opacity="0.85"/>
<circle cx="251.8" cy="509.1" r="3.4" fill="#dc5844" fill-opacity="0.85"/>
<circle cx="252.7" cy="652.5" r="3.4" fill="#dc5844" fill-opacity="0.85"/>
<circle cx="240.1" cy="693.5" r="3.4" fill="#dc5844" fill-opacity="0.85"/>
<circle cx="248.1" cy="648.8" r="3.4" fill="#dc5844" fill-opacity="0.85"/>
<circle cx="255.9" cy="462.3" r="3.4" fill="#dc5844" fill-opacity="0.85"/>
<circle cx="255.9" cy="467.0" r="3.4" fill="#dc5844" fill-opacity="0.85"/>
<circle cx="256.0" cy="479.3" r="3.4" fill="#dc5844" fill-opacity="0.85"/>
<circle cx="257.0" cy="482.7" r="3.4" fill="#dc5844" fill-opacity="0.85"/>
<circle cx="256.2" cy="544.3" r="3.4" fill="#dc5844" fill-opacity="0.85"/>
<circle cx="249.1" cy="652.9" r="3.4" fill="#dc5844" fill-opacity="0.85"/>
<circle cx="252.6" cy="524.7" r="3.4" fill="#dc5844" fill-opacity="0.85"/>
<circle cx="255.7" cy="449.5" r="3.4" fill="#dc5844" fill-opacity="0.85"/>
<circle cx="257.1" cy="448.9" r="3.4" fill="#dc5844" fill-opacity="0.85"/>
<circle cx="255.2" cy="560.7" r="3.4" fill="#dc5844" fill-opacity="0.85"/>
<circle cx="240.3" cy="698.2" r="3.4" fill="#dc5844" fill-opacity="0.85"/>
<circle cx="255.1" cy="574.6" r="3.4" fill="#dc5844" fill-opacity="0.85"/>
<circle cx="252.7" cy="510.7" r="3.4" fill="#dc5844" fill-opacity="0.85"/>
<circle cx="242.4" cy="686.9" r="3.4" fill="#dc5844" fill-opacity="0.85"/>
<circle cx="251.4" cy="498.6" r="3.4" fill="#dc5844" fill-opacity="0.85"/>
<circle cx="256.4" cy="533.6" r="3.4" fill="#dc5844" fill-opacity="0.85"/>
<circle cx="256.3" cy="501.8" r="3.4" fill="#dc5844" fill-opacity="0.85"/>
<circle cx="245.4" cy="673.0" r="3.4" fill="#dc5844" fill-opacity="0.85"/>
<circle cx="252.6" cy="652.9" r="3.4" fill="#dc5844" fill-opacity="0.85"/>
<circle cx="256.4" cy="524.8" r="3.4" fill="#dc5844" fill-opacity="0.85"/>
<circle cx="254.4" cy="590.2" r="3.4" fill="#dc5844" fill-opacity="0.85"/>
<circle cx="251.0" cy="440.3" r="3.4" fill="#dc5844" fill-opacity="0.85"/>
<circle cx="255.5" cy="625.8" r="3.4" fill="#dc5844" fill-opacity="0.85"/>
<circle cx="243.5" cy="683.2" r="3.4" fill="#dc5844" fill-opacity="0.85"/>
<circle cx="253.0" cy="536.7" r="3.4" fill="#dc5844" fill-opacity="0.85"/>
<circle cx="255.8" cy="487.6" r="3.4" fill="#dc5844" fill-opacity="0.85"/>
<circle cx="255.4" cy="529.3" r="3.4" fill="#dc5844" fill-opacity="0.85"/>
<circle cx="61.7" cy="432" r="3.4" fill="#5cb3d9" fill-opacity="0.85"/>
<circle cx="65.5" cy="432" r="3.4" fill="#5cb3d9" fill-opacity="0.85"/>
<circle cx="73.5" cy="432" r="3.4" fill="#5cb3d9" fill-opacity="0.85"/>
<circle cx="83" cy="432" r="3.4" fill="#5cb3d9" fill-opacity="0.85"/>
<circle cx="123.5" cy="432" r="3.4" fill="#5cb3d9" fill-opacity="0.85"/>
<circle cx="88.5" cy="432" r="3.4" fill="#5cb3d9" fill-opacity="0.85"/>
<circle cx="90.58571428571429" cy="432" r="3.4" fill="#5cb3d9" fill-opacity="0.85"/>
<circle cx="92.67142857142856" cy="432" r="3.4" fill="#5cb3d9" fill-opacity="0.85"/>
<circle cx="94.75714285714285" cy="432" r="3.4" fill="#5cb3d9" fill-opacity="0.85"/>
<circle cx="96.84285714285714" cy="432" r="3.4" fill="#5cb3d9" fill-opacity="0.85"/>
<circle cx="98.92857142857143" cy="432" r="3.4" fill="#5cb3d9" fill-opacity="0.85"/>
<circle cx="101.0142857142857" cy="432" r="3.4" fill="#5cb3d9" fill-opacity="0.85"/>
<circle cx="103.1" cy="432" r="3.4" fill="#5cb3d9" fill-opacity="0.85"/>
<circle cx="105.0" cy="432" r="3.4" fill="#5cb3d9" fill-opacity="0.85"/>
<circle cx="107.03333333333333" cy="432" r="3.4" fill="#5cb3d9" fill-opacity="0.85"/>
<circle cx="109.06666666666666" cy="432" r="3.4" fill="#5cb3d9" fill-opacity="0.85"/>
<circle cx="111.1" cy="432" r="3.4" fill="#5cb3d9" fill-opacity="0.85"/>
<circle cx="113.13333333333334" cy="432" r="3.4" fill="#5cb3d9" fill-opacity="0.85"/>
<circle cx="115.16666666666667" cy="432" r="3.4" fill="#5cb3d9" fill-opacity="0.85"/>
<circle cx="117.2" cy="432" r="3.4" fill="#5cb3d9" fill-opacity="0.85"/>
<circle cx="126.0" cy="432" r="3.4" fill="#5cb3d9" fill-opacity="0.85"/>
<circle cx="128.01724137931035" cy="432" r="3.4" fill="#5cb3d9" fill-opacity="0.85"/>
<circle cx="130.0344827586207" cy="432" r="3.4" fill="#5cb3d9" fill-opacity="0.85"/>
<circle cx="132.05172413793105" cy="432" r="3.4" fill="#5cb3d9" fill-opacity="0.85"/>
<circle cx="134.06896551724137" cy="432" r="3.4" fill="#5cb3d9" fill-opacity="0.85"/>
<circle cx="136.08620689655172" cy="432" r="3.4" fill="#5cb3d9" fill-opacity="0.85"/>
<circle cx="138.10344827586206" cy="432" r="3.4" fill="#5cb3d9" fill-opacity="0.85"/>
<circle cx="140.1206896551724" cy="432" r="3.4" fill="#5cb3d9" fill-opacity="0.85"/>
<circle cx="142.13793103448276" cy="432" r="3.4" fill="#5cb3d9" fill-opacity="0.85"/>
<circle cx="144.1551724137931" cy="432" r="3.4" fill="#5cb3d9" fill-opacity="0.85"/>
<circle cx="146.17241379310346" cy="432" r="3.4" fill="#5cb3d9" fill-opacity="0.85"/>
<circle cx="148.18965517241378" cy="432" r="3.4" fill="#5cb3d9" fill-opacity="0.85"/>
<circle cx="150.20689655172413" cy="432" r="3.4" fill="#5cb3d9" fill-opacity="0.85"/>
<circle cx="152.22413793103448" cy="432" r="3.4" fill="#5cb3d9" fill-opacity="0.85"/>
<circle cx="154.24137931034483" cy="432" r="3.4" fill="#5cb3d9" fill-opacity="0.85"/>
<circle cx="156.25862068965517" cy="432" r="3.4" fill="#5cb3d9" fill-opacity="0.85"/>
<circle cx="158.27586206896552" cy="432" r="3.4" fill="#5cb3d9" fill-opacity="0.85"/>
<circle cx="160.29310344827587" cy="432" r="3.4" fill="#5cb3d9" fill-opacity="0.85"/>
<circle cx="162.31034482758622" cy="432" r="3.4" fill="#5cb3d9" fill-opacity="0.85"/>
<circle cx="164.32758620689657" cy="432" r="3.4" fill="#5cb3d9" fill-opacity="0.85"/>
<circle cx="166.3448275862069" cy="432" r="3.4" fill="#5cb3d9" fill-opacity="0.85"/>
<circle cx="168.36206896551724" cy="432" r="3.4" fill="#5cb3d9" fill-opacity="0.85"/>
<circle cx="170.3793103448276" cy="432" r="3.4" fill="#5cb3d9" fill-opacity="0.85"/>
<circle cx="172.39655172413794" cy="432" r="3.4" fill="#5cb3d9" fill-opacity="0.85"/>
<circle cx="174.41379310344828" cy="432" r="3.4" fill="#5cb3d9" fill-opacity="0.85"/>
<circle cx="176.4310344827586" cy="432" r="3.4" fill="#5cb3d9" fill-opacity="0.85"/>
<circle cx="178.44827586206895" cy="432" r="3.4" fill="#5cb3d9" fill-opacity="0.85"/>
<circle cx="180.4655172413793" cy="432" r="3.4" fill="#5cb3d9" fill-opacity="0.85"/>
<circle cx="182.48275862068965" cy="432" r="3.4" fill="#5cb3d9" fill-opacity="0.85"/>
<circle cx="184.5" cy="432" r="3.4" fill="#5cb3d9" fill-opacity="0.85"/>
<circle cx="104.7" cy="442.5" r="3.4" fill="#5cb3d9" fill-opacity="0.85"/>
<circle cx="108.2" cy="483" r="3.4" fill="#5cb3d9" fill-opacity="0.85"/>
<circle cx="143.3" cy="478" r="3.4" fill="#5cb3d9" fill-opacity="0.85"/>
<circle cx="109.2" cy="495.8" r="3.4" fill="#5cb3d9" fill-opacity="0.85"/>
<circle cx="109.5" cy="499" r="3.4" fill="#5cb3d9" fill-opacity="0.85"/>
<circle cx="109.9" cy="503.4" r="3.4" fill="#5cb3d9" fill-opacity="0.85"/>
<circle cx="111.8" cy="523.9" r="3.4" fill="#5cb3d9" fill-opacity="0.85"/>
<circle cx="178.3" cy="439.7" r="3.4" fill="#5cb3d9" fill-opacity="0.85"/>
<circle cx="180.8" cy="442.9" r="3.4" fill="#5cb3d9" fill-opacity="0.85"/>
<circle cx="154" cy="446.7" r="3.4" fill="#5cb3d9" fill-opacity="0.85"/>
<circle cx="162.3" cy="444.8" r="3.4" fill="#5cb3d9" fill-opacity="0.85"/>
<circle cx="160.4" cy="448.6" r="3.4" fill="#5cb3d9" fill-opacity="0.85"/>
<circle cx="166.5" cy="448" r="3.4" fill="#5cb3d9" fill-opacity="0.85"/>
<circle cx="171.6" cy="451.8" r="3.4" fill="#5cb3d9" fill-opacity="0.85"/>
<circle cx="174.4" cy="452.4" r="3.4" fill="#5cb3d9" fill-opacity="0.85"/>
<circle cx="177.6" cy="455" r="3.4" fill="#5cb3d9" fill-opacity="0.85"/>
<circle cx="166.1" cy="458.4" r="3.4" fill="#5cb3d9" fill-opacity="0.85"/>
<circle cx="172.5" cy="462" r="3.4" fill="#5cb3d9" fill-opacity="0.85"/>
<circle cx="177" cy="463.3" r="3.4" fill="#5cb3d9" fill-opacity="0.85"/>
<circle cx="179.5" cy="464.5" r="3.4" fill="#5cb3d9" fill-opacity="0.85"/>
<circle cx="172.5" cy="468.4" r="3.4" fill="#5cb3d9" fill-opacity="0.85"/>
<circle cx="175.7" cy="473.5" r="3.4" fill="#5cb3d9" fill-opacity="0.85"/>
<circle cx="178.3" cy="474.1" r="3.4" fill="#5cb3d9" fill-opacity="0.85"/>
<circle cx="151.5" cy="476.4" r="3.4" fill="#5cb3d9" fill-opacity="0.85"/>
<circle cx="143.6" cy="477.9" r="3.4" fill="#5cb3d9" fill-opacity="0.85"/>
<circle cx="181.5" cy="481.8" r="3.4" fill="#5cb3d9" fill-opacity="0.85"/>
<circle cx="159.8" cy="490.7" r="3.4" fill="#5cb3d9" fill-opacity="0.85"/>
<circle cx="164.9" cy="489.4" r="3.4" fill="#5cb3d9" fill-opacity="0.85"/>
<circle cx="171.9" cy="493.9" r="3.4" fill="#5cb3d9" fill-opacity="0.85"/>
<circle cx="170.6" cy="497.1" r="3.4" fill="#5cb3d9" fill-opacity="0.85"/>
<circle cx="178.3" cy="496.4" r="3.4" fill="#5cb3d9" fill-opacity="0.85"/>
<circle cx="178.9" cy="501.5" r="3.4" fill="#5cb3d9" fill-opacity="0.85"/>
<circle cx="152.1" cy="502.6" r="3.4" fill="#5cb3d9" fill-opacity="0.85"/>
<circle cx="157.2" cy="510.2" r="3.4" fill="#5cb3d9" fill-opacity="0.85"/>
<circle cx="164.2" cy="511.5" r="3.4" fill="#5cb3d9" fill-opacity="0.85"/>
<circle cx="174.7" cy="514.3" r="3.4" fill="#5cb3d9" fill-opacity="0.85"/>
<circle cx="179.5" cy="518.1" r="3.4" fill="#5cb3d9" fill-opacity="0.85"/>
<circle cx="183.4" cy="511.7" r="3.4" fill="#5cb3d9" fill-opacity="0.85"/>
<circle cx="153.4" cy="524.5" r="3.4" fill="#5cb3d9" fill-opacity="0.85"/>
<circle cx="165.5" cy="524.5" r="3.4" fill="#5cb3d9" fill-opacity="0.85"/>
<circle cx="111.9" cy="525.2" r="3.4" fill="#5cb3d9" fill-opacity="0.85"/>
<circle cx="112.7" cy="537.7" r="3.4" fill="#5cb3d9" fill-opacity="0.85"/>
<circle cx="113.2" cy="539.9" r="3.4" fill="#5cb3d9" fill-opacity="0.85"/>
<circle cx="115.5" cy="565.8" r="3.4" fill="#5cb3d9" fill-opacity="0.85"/>
<circle cx="116.1" cy="569.8" r="3.4" fill="#5cb3d9" fill-opacity="0.85"/>
<circle cx="116.4" cy="574.3" r="3.4" fill="#5cb3d9" fill-opacity="0.85"/>
<circle cx="119.3" cy="599.2" r="3.4" fill="#5cb3d9" fill-opacity="0.85"/>
<circle cx="153.5" cy="526.2" r="3.4" fill="#5cb3d9" fill-opacity="0.85"/>
<circle cx="148.6" cy="543.7" r="3.4" fill="#5cb3d9" fill-opacity="0.85"/>
<circle cx="155.7" cy="545.6" r="3.4" fill="#5cb3d9" fill-opacity="0.85"/>
<circle cx="158.2" cy="546.3" r="3.4" fill="#5cb3d9" fill-opacity="0.85"/>
<circle cx="157.6" cy="550.7" r="3.4" fill="#5cb3d9" fill-opacity="0.85"/>
<circle cx="151.2" cy="605.6" r="3.4" fill="#5cb3d9" fill-opacity="0.85"/>
<circle cx="155" cy="604.3" r="3.4" fill="#5cb3d9" fill-opacity="0.85"/>
<circle cx="156.9" cy="613.9" r="3.4" fill="#5cb3d9" fill-opacity="0.85"/>
<circle cx="165.3" cy="526.2" r="3.4" fill="#5cb3d9" fill-opacity="0.85"/>
<circle cx="174.4" cy="515.6" r="3.4" fill="#5cb3d9" fill-opacity="0.85"/>
<circle cx="178.9" cy="518.8" r="3.4" fill="#5cb3d9" fill-opacity="0.85"/>
<circle cx="172.5" cy="531" r="3.4" fill="#5cb3d9" fill-opacity="0.85"/>
<circle cx="175.1" cy="529" r="3.4" fill="#5cb3d9" fill-opacity="0.85"/>
<circle cx="171.9" cy="538" r="3.4" fill="#5cb3d9" fill-opacity="0.85"/>
<circle cx="178.3" cy="536.7" r="3.4" fill="#5cb3d9" fill-opacity="0.85"/>
<circle cx="156.6" cy="545.6" r="3.4" fill="#5cb3d9" fill-opacity="0.85"/>
<circle cx="159.8" cy="545" r="3.4" fill="#5cb3d9" fill-opacity="0.85"/>
<circle cx="157.9" cy="550.7" r="3.4" fill="#5cb3d9" fill-opacity="0.85"/>
<circle cx="166.8" cy="551.1" r="3.4" fill="#5cb3d9" fill-opacity="0.85"/>
<circle cx="171.9" cy="551.4" r="3.4" fill="#5cb3d9" fill-opacity="0.85"/>
<circle cx="177" cy="548.2" r="3.4" fill="#5cb3d9" fill-opacity="0.85"/>
<circle cx="178.3" cy="553.3" r="3.4" fill="#5cb3d9" fill-opacity="0.85"/>
<circle cx="166.8" cy="559" r="3.4" fill="#5cb3d9" fill-opacity="0.85"/>
<circle cx="171.9" cy="559" r="3.4" fill="#5cb3d9" fill-opacity="0.85"/>
<circle cx="166.1" cy="564.1" r="3.4" fill="#5cb3d9" fill-opacity="0.85"/>
<circle cx="176.7" cy="564.7" r="3.4" fill="#5cb3d9" fill-opacity="0.85"/>
<circle cx="169.3" cy="569.2" r="3.4" fill="#5cb3d9" fill-opacity="0.85"/>
<circle cx="178.3" cy="572.4" r="3.4" fill="#5cb3d9" fill-opacity="0.85"/>
<circle cx="177" cy="575" r="3.4" fill="#5cb3d9" fill-opacity="0.85"/>
<circle cx="180.8" cy="573.7" r="3.4" fill="#5cb3d9" fill-opacity="0.85"/>
<circle cx="165.5" cy="576.2" r="3.4" fill="#5cb3d9" fill-opacity="0.85"/>
<circle cx="179.5" cy="583.9" r="3.4" fill="#5cb3d9" fill-opacity="0.85"/>
<circle cx="182.7" cy="588.3" r="3.4" fill="#5cb3d9" fill-opacity="0.85"/>
<circle cx="163.6" cy="590.3" r="3.4" fill="#5cb3d9" fill-opacity="0.85"/>
<circle cx="166.8" cy="594.7" r="3.4" fill="#5cb3d9" fill-opacity="0.85"/>
<circle cx="162.3" cy="596.6" r="3.4" fill="#5cb3d9" fill-opacity="0.85"/>
<circle cx="175.7" cy="594.7" r="3.4" fill="#5cb3d9" fill-opacity="0.85"/>
<circle cx="180.8" cy="599.2" r="3.4" fill="#5cb3d9" fill-opacity="0.85"/>
<circle cx="151.5" cy="605.6" r="3.4" fill="#5cb3d9" fill-opacity="0.85"/>
<circle cx="155.3" cy="604.3" r="3.4" fill="#5cb3d9" fill-opacity="0.85"/>
<circle cx="161.7" cy="606.2" r="3.4" fill="#5cb3d9" fill-opacity="0.85"/>
<circle cx="171.9" cy="609.4" r="3.4" fill="#5cb3d9" fill-opacity="0.85"/>
<circle cx="156.6" cy="614.5" r="3.4" fill="#5cb3d9" fill-opacity="0.85"/>
<circle cx="122.7" cy="623.5" r="3.4" fill="#5cb3d9" fill-opacity="0.85"/>
<circle cx="151" cy="606.3" r="3.4" fill="#5cb3d9" fill-opacity="0.85"/>
<circle cx="161.9" cy="606.9" r="3.4" fill="#5cb3d9" fill-opacity="0.85"/>
<circle cx="172.1" cy="609.5" r="3.4" fill="#5cb3d9" fill-opacity="0.85"/>
<circle cx="157.1" cy="615.8" r="3.4" fill="#5cb3d9" fill-opacity="0.85"/>
<circle cx="157.1" cy="622.6" r="3.4" fill="#5cb3d9" fill-opacity="0.85"/>
<circle cx="164.4" cy="621.6" r="3.4" fill="#5cb3d9" fill-opacity="0.85"/>
<circle cx="164.4" cy="626" r="3.4" fill="#5cb3d9" fill-opacity="0.85"/>
<circle cx="172.1" cy="621" r="3.4" fill="#5cb3d9" fill-opacity="0.85"/>
<circle cx="162.5" cy="635.9" r="3.4" fill="#5cb3d9" fill-opacity="0.85"/>
<circle cx="169.5" cy="641.7" r="3.4" fill="#5cb3d9" fill-opacity="0.85"/>
<circle cx="176.5" cy="644.5" r="3.4" fill="#5cb3d9" fill-opacity="0.85"/>
<circle cx="178.4" cy="633.1" r="3.4" fill="#5cb3d9" fill-opacity="0.85"/>
<circle cx="181.6" cy="654.7" r="3.4" fill="#5cb3d9" fill-opacity="0.85"/>
<circle cx="183.5" cy="663.7" r="3.4" fill="#5cb3d9" fill-opacity="0.85"/>
<circle cx="191.2" cy="698.1" r="3.4" fill="#5cb3d9" fill-opacity="0.85"/>
<circle cx="241.0" cy="432" r="3.4" fill="#dc5844" fill-opacity="0.85"/>
<circle cx="243.046875" cy="432" r="3.4" fill="#dc5844" fill-opacity="0.85"/>
<circle cx="245.09375" cy="432" r="3.4" fill="#dc5844" fill-opacity="0.85"/>
<circle cx="247.140625" cy="432" r="3.4" fill="#dc5844" fill-opacity="0.85"/>
<circle cx="249.1875" cy="432" r="3.4" fill="#dc5844" fill-opacity="0.85"/>
<circle cx="251.234375" cy="432" r="3.4" fill="#dc5844" fill-opacity="0.85"/>
<circle cx="253.28125" cy="432" r="3.4" fill="#dc5844" fill-opacity="0.85"/>
<circle cx="255.328125" cy="432" r="3.4" fill="#dc5844" fill-opacity="0.85"/>
<circle cx="257.375" cy="432" r="3.4" fill="#dc5844" fill-opacity="0.85"/>
<circle cx="259.421875" cy="432" r="3.4" fill="#dc5844" fill-opacity="0.85"/>
<circle cx="261.46875" cy="432" r="3.4" fill="#dc5844" fill-opacity="0.85"/>
<circle cx="263.515625" cy="432" r="3.4" fill="#dc5844" fill-opacity="0.85"/>
<circle cx="265.5625" cy="432" r="3.4" fill="#dc5844" fill-opacity="0.85"/>
<circle cx="267.609375" cy="432" r="3.4" fill="#dc5844" fill-opacity="0.85"/>
<circle cx="269.65625" cy="432" r="3.4" fill="#dc5844" fill-opacity="0.85"/>
<circle cx="271.703125" cy="432" r="3.4" fill="#dc5844" fill-opacity="0.85"/>
<circle cx="273.75" cy="432" r="3.4" fill="#dc5844" fill-opacity="0.85"/>
<circle cx="275.796875" cy="432" r="3.4" fill="#dc5844" fill-opacity="0.85"/>
<circle cx="277.84375" cy="432" r="3.4" fill="#dc5844" fill-opacity="0.85"/>
<circle cx="279.890625" cy="432" r="3.4" fill="#dc5844" fill-opacity="0.85"/>
<circle cx="281.9375" cy="432" r="3.4" fill="#dc5844" fill-opacity="0.85"/>
<circle cx="283.984375" cy="432" r="3.4" fill="#dc5844" fill-opacity="0.85"/>
<circle cx="286.03125" cy="432" r="3.4" fill="#dc5844" fill-opacity="0.85"/>
<circle cx="288.078125" cy="432" r="3.4" fill="#dc5844" fill-opacity="0.85"/>
<circle cx="290.125" cy="432" r="3.4" fill="#dc5844" fill-opacity="0.85"/>
<circle cx="292.171875" cy="432" r="3.4" fill="#dc5844" fill-opacity="0.85"/>
<circle cx="294.21875" cy="432" r="3.4" fill="#dc5844" fill-opacity="0.85"/>
<circle cx="296.265625" cy="432" r="3.4" fill="#dc5844" fill-opacity="0.85"/>
<circle cx="298.3125" cy="432" r="3.4" fill="#dc5844" fill-opacity="0.85"/>
<circle cx="300.359375" cy="432" r="3.4" fill="#dc5844" fill-opacity="0.85"/>
<circle cx="302.40625" cy="432" r="3.4" fill="#dc5844" fill-opacity="0.85"/>
<circle cx="304.453125" cy="432" r="3.4" fill="#dc5844" fill-opacity="0.85"/>
<circle cx="306.5" cy="432" r="3.4" fill="#dc5844" fill-opacity="0.85"/>
<circle cx="318.4" cy="432" r="3.4" fill="#dc5844" fill-opacity="0.85"/>
<circle cx="320.43333333333334" cy="432" r="3.4" fill="#dc5844" fill-opacity="0.85"/>
<circle cx="322.46666666666664" cy="432" r="3.4" fill="#dc5844" fill-opacity="0.85"/>
<circle cx="324.5" cy="432" r="3.4" fill="#dc5844" fill-opacity="0.85"/>
<circle cx="326.5333333333333" cy="432" r="3.4" fill="#dc5844" fill-opacity="0.85"/>
<circle cx="328.56666666666666" cy="432" r="3.4" fill="#dc5844" fill-opacity="0.85"/>
<circle cx="330.59999999999997" cy="432" r="3.4" fill="#dc5844" fill-opacity="0.85"/>
<circle cx="332.6333333333333" cy="432" r="3.4" fill="#dc5844" fill-opacity="0.85"/>
<circle cx="334.66666666666663" cy="432" r="3.4" fill="#dc5844" fill-opacity="0.85"/>
<circle cx="336.7" cy="432" r="3.4" fill="#dc5844" fill-opacity="0.85"/>
<circle cx="341.3" cy="431.9" r="3.4" fill="#dc5844" fill-opacity="0.85"/>
<circle cx="256.8" cy="440.3" r="3.4" fill="#dc5844" fill-opacity="0.85"/>
<circle cx="257.4" cy="444.1" r="3.4" fill="#dc5844" fill-opacity="0.85"/>
<circle cx="255.5" cy="449.9" r="3.4" fill="#dc5844" fill-opacity="0.85"/>
<circle cx="255.5" cy="454.3" r="3.4" fill="#dc5844" fill-opacity="0.85"/>
<circle cx="279.1" cy="444.4" r="3.4" fill="#dc5844" fill-opacity="0.85"/>
<circle cx="287.7" cy="451.8" r="3.4" fill="#dc5844" fill-opacity="0.85"/>
<circle cx="268.3" cy="456.6" r="3.4" fill="#dc5844" fill-opacity="0.85"/>
<circle cx="259.3" cy="459.7" r="3.4" fill="#dc5844" fill-opacity="0.85"/>
<circle cx="265.7" cy="462.6" r="3.4" fill="#dc5844" fill-opacity="0.85"/>
<circle cx="260" cy="468.4" r="3.4" fill="#dc5844" fill-opacity="0.85"/>
<circle cx="266.4" cy="472.2" r="3.4" fill="#dc5844" fill-opacity="0.85"/>
<circle cx="254.9" cy="475.4" r="3.4" fill="#dc5844" fill-opacity="0.85"/>
<circle cx="270.2" cy="479.8" r="3.4" fill="#dc5844" fill-opacity="0.85"/>
<circle cx="278.5" cy="483.9" r="3.4" fill="#dc5844" fill-opacity="0.85"/>
<circle cx="253.6" cy="483.7" r="3.4" fill="#dc5844" fill-opacity="0.85"/>
<circle cx="260" cy="484.7" r="3.4" fill="#dc5844" fill-opacity="0.85"/>
<circle cx="252.3" cy="491.3" r="3.4" fill="#dc5844" fill-opacity="0.85"/>
<circle cx="255.5" cy="493.9" r="3.4" fill="#dc5844" fill-opacity="0.85"/>
<circle cx="259.3" cy="501.3" r="3.4" fill="#dc5844" fill-opacity="0.85"/>
<circle cx="269.3" cy="501.5" r="3.4" fill="#dc5844" fill-opacity="0.85"/>
<circle cx="254.9" cy="507.9" r="3.4" fill="#dc5844" fill-opacity="0.85"/>
<circle cx="271.1" cy="511.1" r="3.4" fill="#dc5844" fill-opacity="0.85"/>
<circle cx="283.3" cy="509.8" r="3.4" fill="#dc5844" fill-opacity="0.85"/>
<circle cx="257.4" cy="513.6" r="3.4" fill="#dc5844" fill-opacity="0.85"/>
<circle cx="261.9" cy="517.9" r="3.4" fill="#dc5844" fill-opacity="0.85"/>
<circle cx="268.9" cy="519.4" r="3.4" fill="#dc5844" fill-opacity="0.85"/>
<circle cx="282.3" cy="521.9" r="3.4" fill="#dc5844" fill-opacity="0.85"/>
<circle cx="318" cy="467.7" r="3.4" fill="#dc5844" fill-opacity="0.85"/>
<circle cx="317.4" cy="477.3" r="3.4" fill="#dc5844" fill-opacity="0.85"/>
<circle cx="272.1" cy="523.2" r="3.4" fill="#dc5844" fill-opacity="0.85"/>
<circle cx="320.1" cy="439.8" r="3.4" fill="#dc5844" fill-opacity="0.85"/>
<circle cx="261.4" cy="517.6" r="3.4" fill="#dc5844" fill-opacity="0.85"/>
<circle cx="269" cy="518.8" r="3.4" fill="#dc5844" fill-opacity="0.85"/>
<circle cx="271.6" cy="523.3" r="3.4" fill="#dc5844" fill-opacity="0.85"/>
<circle cx="282.4" cy="521.4" r="3.4" fill="#dc5844" fill-opacity="0.85"/>
<circle cx="281.1" cy="527.1" r="3.4" fill="#dc5844" fill-opacity="0.85"/>
<circle cx="263.9" cy="527.8" r="3.4" fill="#dc5844" fill-opacity="0.85"/>
<circle cx="252.4" cy="527.1" r="3.4" fill="#dc5844" fill-opacity="0.85"/>
<circle cx="285.6" cy="532.2" r="3.4" fill="#dc5844" fill-opacity="0.85"/>
<circle cx="256.9" cy="539.2" r="3.4" fill="#dc5844" fill-opacity="0.85"/>
<circle cx="280.1" cy="540.9" r="3.4" fill="#dc5844" fill-opacity="0.85"/>
<circle cx="269" cy="545" r="3.4" fill="#dc5844" fill-opacity="0.85"/>
<circle cx="250.5" cy="543.7" r="3.4" fill="#dc5844" fill-opacity="0.85"/>
<circle cx="255.6" cy="548.8" r="3.4" fill="#dc5844" fill-opacity="0.85"/>
<circle cx="263.9" cy="550.7" r="3.4" fill="#dc5844" fill-opacity="0.85"/>
<circle cx="269" cy="552" r="3.4" fill="#dc5844" fill-opacity="0.85"/>
<circle cx="273.2" cy="554.5" r="3.4" fill="#dc5844" fill-opacity="0.85"/>
<circle cx="284.3" cy="552.9" r="3.4" fill="#dc5844" fill-opacity="0.85"/>
<circle cx="256.9" cy="555.8" r="3.4" fill="#dc5844" fill-opacity="0.85"/>
<circle cx="261.4" cy="560.3" r="3.4" fill="#dc5844" fill-opacity="0.85"/>
<circle cx="283" cy="561.6" r="3.4" fill="#dc5844" fill-opacity="0.85"/>
<circle cx="253.1" cy="569.2" r="3.4" fill="#dc5844" fill-opacity="0.85"/>
<circle cx="258.2" cy="573" r="3.4" fill="#dc5844" fill-opacity="0.85"/>
<circle cx="263.3" cy="571.1" r="3.4" fill="#dc5844" fill-opacity="0.85"/>
<circle cx="266.5" cy="571.8" r="3.4" fill="#dc5844" fill-opacity="0.85"/>
<circle cx="269.6" cy="575" r="3.4" fill="#dc5844" fill-opacity="0.85"/>
<circle cx="273.5" cy="578.1" r="3.4" fill="#dc5844" fill-opacity="0.85"/>
<circle cx="276.7" cy="581.3" r="3.4" fill="#dc5844" fill-opacity="0.85"/>
<circle cx="281.1" cy="584.5" r="3.4" fill="#dc5844" fill-opacity="0.85"/>
<circle cx="257.5" cy="580.7" r="3.4" fill="#dc5844" fill-opacity="0.85"/>
<circle cx="258.2" cy="585.2" r="3.4" fill="#dc5844" fill-opacity="0.85"/>
<circle cx="256.9" cy="591.5" r="3.4" fill="#dc5844" fill-opacity="0.85"/>
<circle cx="263.3" cy="590.3" r="3.4" fill="#dc5844" fill-opacity="0.85"/>
<circle cx="265.8" cy="594.1" r="3.4" fill="#dc5844" fill-opacity="0.85"/>
<circle cx="274.7" cy="597.3" r="3.4" fill="#dc5844" fill-opacity="0.85"/>
<circle cx="279.2" cy="597.9" r="3.4" fill="#dc5844" fill-opacity="0.85"/>
<circle cx="274.1" cy="603" r="3.4" fill="#dc5844" fill-opacity="0.85"/>
<circle cx="273.5" cy="606.2" r="3.4" fill="#dc5844" fill-opacity="0.85"/>
<circle cx="260.1" cy="601.7" r="3.4" fill="#dc5844" fill-opacity="0.85"/>
<circle cx="251.8" cy="597.9" r="3.4" fill="#dc5844" fill-opacity="0.85"/>
<circle cx="256.3" cy="606.8" r="3.4" fill="#dc5844" fill-opacity="0.85"/>
<circle cx="263.9" cy="611.9" r="3.4" fill="#dc5844" fill-opacity="0.85"/>
<circle cx="313.3" cy="526.2" r="3.4" fill="#dc5844" fill-opacity="0.85"/>
<circle cx="309.2" cy="565.4" r="3.4" fill="#dc5844" fill-opacity="0.85"/>
<circle cx="308.5" cy="568.6" r="3.4" fill="#dc5844" fill-opacity="0.85"/>
<circle cx="308.5" cy="575" r="3.4" fill="#dc5844" fill-opacity="0.85"/>
<circle cx="307.9" cy="577.5" r="3.4" fill="#dc5844" fill-opacity="0.85"/>
<circle cx="307.3" cy="582.6" r="3.4" fill="#dc5844" fill-opacity="0.85"/>
<circle cx="306.6" cy="587.1" r="3.4" fill="#dc5844" fill-opacity="0.85"/>
<circle cx="274" cy="606.9" r="3.4" fill="#dc5844" fill-opacity="0.85"/>
<circle cx="265.8" cy="613.9" r="3.4" fill="#dc5844" fill-opacity="0.85"/>
<circle cx="267.7" cy="617.1" r="3.4" fill="#dc5844" fill-opacity="0.85"/>
<circle cx="268.3" cy="624.1" r="3.4" fill="#dc5844" fill-opacity="0.85"/>
<circle cx="260.7" cy="617.7" r="3.4" fill="#dc5844" fill-opacity="0.85"/>
<circle cx="255.6" cy="620.3" r="3.4" fill="#dc5844" fill-opacity="0.85"/>
<circle cx="260.7" cy="628.6" r="3.4" fill="#dc5844" fill-opacity="0.85"/>
<circle cx="254.3" cy="627.9" r="3.4" fill="#dc5844" fill-opacity="0.85"/>
<circle cx="261.9" cy="640.7" r="3.4" fill="#dc5844" fill-opacity="0.85"/>
<circle cx="254.3" cy="636.2" r="3.4" fill="#dc5844" fill-opacity="0.85"/>
<circle cx="256.2" cy="649" r="3.4" fill="#dc5844" fill-opacity="0.85"/>
<circle cx="257.5" cy="654.7" r="3.4" fill="#dc5844" fill-opacity="0.85"/>
<circle cx="248.6" cy="664.2" r="3.4" fill="#dc5844" fill-opacity="0.85"/>
<circle cx="246.7" cy="669.3" r="3.4" fill="#dc5844" fill-opacity="0.85"/>
<circle cx="255.6" cy="680.2" r="3.4" fill="#dc5844" fill-opacity="0.85"/>
<circle cx="252.4" cy="684.6" r="3.4" fill="#dc5844" fill-opacity="0.85"/>
<circle cx="242.8" cy="682.1" r="3.4" fill="#dc5844" fill-opacity="0.85"/>
<circle cx="303.3" cy="609.5" r="3.4" fill="#dc5844" fill-opacity="0.85"/>
<circle cx="302.7" cy="617.1" r="3.4" fill="#dc5844" fill-opacity="0.85"/>
<circle cx="302.1" cy="624.1" r="3.4" fill="#dc5844" fill-opacity="0.85"/>
<circle cx="300.2" cy="639.4" r="3.4" fill="#dc5844" fill-opacity="0.85"/>
<polygon points="199.3,689.7 199.5,705 199.7,722.8 201,729 203.5,733.6 207.3,736.4 212.5,737 217.2,736.4 221,734 222.6,732.8 224.5,728 225.7,722.8 225.7,705 225.7,689.7 219.9,689.7 218,705 215.5,718 212.7,729 210,718 207.5,705 205.8,689.7" fill="#d3d3d3"/>
<circle cx="202.55" cy="689.7" r="3.25" fill="#d3d3d3"/>
<circle cx="222.8" cy="689.7" r="2.95" fill="#d3d3d3"/>
<rect x="47.6" y="429.1" width="329.8" height="308.1" fill="none" stroke="#6a6a6a" stroke-width="1.4"/>
<line x1="57.6" y1="737.2" x2="57.6" y2="740.2" stroke="#6a6a6a" stroke-width="1"/>
<text x="57.6" y="752.9" font-size="14" text-anchor="middle" >-15</text>
<line x1="109.2" y1="737.2" x2="109.2" y2="740.2" stroke="#6a6a6a" stroke-width="1"/>
<text x="109.2" y="752.9" font-size="14" text-anchor="middle" >-10</text>
<line x1="160.8" y1="737.2" x2="160.8" y2="740.2" stroke="#6a6a6a" stroke-width="1"/>
<text x="160.8" y="752.9" font-size="14" text-anchor="middle" >-5</text>
<line x1="212.4" y1="737.2" x2="212.4" y2="740.2" stroke="#6a6a6a" stroke-width="1"/>
<text x="212.4" y="752.9" font-size="14" text-anchor="middle" >0</text>
<line x1="264.0" y1="737.2" x2="264.0" y2="740.2" stroke="#6a6a6a" stroke-width="1"/>
<text x="264.0" y="752.9" font-size="14" text-anchor="middle" >5</text>
<line x1="315.6" y1="737.2" x2="315.6" y2="740.2" stroke="#6a6a6a" stroke-width="1"/>
<text x="315.6" y="752.9" font-size="14" text-anchor="middle" >10</text>
<line x1="367.2" y1="737.2" x2="367.2" y2="740.2" stroke="#6a6a6a" stroke-width="1"/>
<text x="367.2" y="752.9" font-size="14" text-anchor="middle" >15</text>
<line x1="44.6" y1="737.2" x2="47.6" y2="737.2" stroke="#6a6a6a" stroke-width="1"/>
<text x="42.4" y="741.8" font-size="14" text-anchor="end" >0</text>
<line x1="44.6" y1="676.1" x2="47.6" y2="676.1" stroke="#6a6a6a" stroke-width="1"/>
<text x="42.4" y="680.7" font-size="14" text-anchor="end" >20</text>
<line x1="44.6" y1="615.1" x2="47.6" y2="615.1" stroke="#6a6a6a" stroke-width="1"/>
<text x="42.4" y="619.7" font-size="14" text-anchor="end" >40</text>
<line x1="44.6" y1="554.0" x2="47.6" y2="554.0" stroke="#6a6a6a" stroke-width="1"/>
<text x="42.4" y="558.6" font-size="14" text-anchor="end" >60</text>
<line x1="44.6" y1="493.0" x2="47.6" y2="493.0" stroke="#6a6a6a" stroke-width="1"/>
<text x="42.4" y="497.6" font-size="14" text-anchor="end" >80</text>
<line x1="44.6" y1="431.9" x2="47.6" y2="431.9" stroke="#6a6a6a" stroke-width="1"/>
<text x="42.4" y="436.5" font-size="14" text-anchor="end" >100</text>
<circle cx="68.4" cy="412.0" r="4.8" fill="#6cbfe0" fill-opacity="0.82"/>
<text x="77.4" y="415.7" font-size="10.7" text-anchor="start" >Down regulated(2664)</text>
<circle cx="190.3" cy="412.0" r="4.8" fill="#d3d3d3" fill-opacity="0.82"/>
<text x="199.3" y="415.7" font-size="10.7" text-anchor="start" >Not sig(9778)</text>
<circle cx="275.0" cy="412.0" r="4.8" fill="#e46d5b" fill-opacity="0.82"/>
<text x="284.0" y="415.7" font-size="10.7" text-anchor="start" >Up regulated(3682)</text>
<text x="207.3" y="776.6" font-size="18" text-anchor="middle">log<tspan font-size="12.2">2</tspan>(Fold Change)</text>
<text transform="translate(15.6,564.3) rotate(-90)" x="0" y="0" font-size="18" text-anchor="middle">-log<tspan font-size="12.2">10</tspan>(Qvalue)</text>
<line x1="460.7" y1="429.3" x2="460.7" y2="737.4" stroke="#ececec" stroke-width="1"/>
<line x1="512.3" y1="429.3" x2="512.3" y2="737.4" stroke="#ececec" stroke-width="1"/>
<line x1="564.0" y1="429.3" x2="564.0" y2="737.4" stroke="#ececec" stroke-width="1"/>
<line x1="615.6" y1="429.3" x2="615.6" y2="737.4" stroke="#ececec" stroke-width="1"/>
<line x1="667.2" y1="429.3" x2="667.2" y2="737.4" stroke="#ececec" stroke-width="1"/>
<line x1="718.9" y1="429.3" x2="718.9" y2="737.4" stroke="#ececec" stroke-width="1"/>
<line x1="770.5" y1="429.3" x2="770.5" y2="737.4" stroke="#ececec" stroke-width="1"/>
<line x1="450.2" y1="676.3" x2="780.6" y2="676.3" stroke="#ececec" stroke-width="1"/>
<line x1="450.2" y1="615.2" x2="780.6" y2="615.2" stroke="#ececec" stroke-width="1"/>
<line x1="450.2" y1="554.2" x2="780.6" y2="554.2" stroke="#ececec" stroke-width="1"/>
<line x1="450.2" y1="493.1" x2="780.6" y2="493.1" stroke="#ececec" stroke-width="1"/>
<line x1="450.2" y1="432.1" x2="780.6" y2="432.1" stroke="#ececec" stroke-width="1"/>
<line x1="605.3" y1="429.3" x2="605.3" y2="737.4" stroke="#cfcfcf" stroke-width="1"/>
<line x1="625.9" y1="429.3" x2="625.9" y2="737.4" stroke="#cfcfcf" stroke-width="1"/>
<line x1="450.2" y1="733.4" x2="780.6" y2="733.4" stroke="#c8c8c8" stroke-width="1"/>
<polygon points="592.5,598.0 599.5,598.0 603.0,640.0 607.5,689.0 602.8,690.0 602.5,718.0 600.0,718.0 596.4,706.0 596.4,686.9 593.0,670.0 593.8,651.0 595.1,631.9 593.2,612.8" fill="#5cb3d9" fill-opacity="1"/>
<polygon points="639.5,490.0 645.0,490.0 645.2,500.0 646.2,520.4 644.2,540.8 647.2,551.0 645.2,571.4 646.1,580.0 649.2,595.3 646.1,614.7 653.3,623.9 655.3,636.1 652.2,646.3 648.2,660.0 650.0,667.8 648.7,686.9 644.8,699.6 638.5,711.1 633.4,721.3 628.3,729.0 627.0,690.0 623.8,689.4 627.0,655.0 629.7,615.0 631.6,591.5 633.5,566.0 634.2,540.5 636.0,525.0 638.0,500.0" fill="#dc5844" fill-opacity="1"/>
<circle cx="591.7" cy="643.1" r="3.4" fill="#5cb3d9" fill-opacity="0.85"/>
<circle cx="594.4" cy="642.2" r="3.4" fill="#5cb3d9" fill-opacity="0.85"/>
<circle cx="591.8" cy="603.6" r="3.4" fill="#5cb3d9" fill-opacity="0.85"/>
<circle cx="596.0" cy="716.0" r="3.4" fill="#5cb3d9" fill-opacity="0.85"/>
<circle cx="590.1" cy="671.6" r="3.4" fill="#5cb3d9" fill-opacity="0.85"/>
<circle cx="593.5" cy="695.6" r="3.4" fill="#5cb3d9" fill-opacity="0.85"/>
<circle cx="592.2" cy="668.0" r="3.4" fill="#5cb3d9" fill-opacity="0.85"/>
<circle cx="588.5" cy="636.5" r="3.4" fill="#5cb3d9" fill-opacity="0.85"/>
<circle cx="589.8" cy="640.7" r="3.4" fill="#5cb3d9" fill-opacity="0.85"/>
<circle cx="592.3" cy="633.9" r="3.4" fill="#5cb3d9" fill-opacity="0.85"/>
<circle cx="591.6" cy="635.4" r="3.4" fill="#5cb3d9" fill-opacity="0.85"/>
<circle cx="590.0" cy="647.2" r="3.4" fill="#5cb3d9" fill-opacity="0.85"/>
<circle cx="666.4" cy="607.9" r="3.4" fill="#dc5844" fill-opacity="0.85"/>
<circle cx="656.0" cy="567.4" r="3.4" fill="#dc5844" fill-opacity="0.85"/>
<circle cx="652.4" cy="525.3" r="3.4" fill="#dc5844" fill-opacity="0.85"/>
<circle cx="659.2" cy="652.1" r="3.4" fill="#dc5844" fill-opacity="0.85"/>
<circle cx="646.6" cy="577.8" r="3.4" fill="#dc5844" fill-opacity="0.85"/>
<circle cx="653.1" cy="654.4" r="3.4" fill="#dc5844" fill-opacity="0.85"/>
<circle cx="655.9" cy="509.0" r="3.4" fill="#dc5844" fill-opacity="0.85"/>
<circle cx="659.2" cy="546.8" r="3.4" fill="#dc5844" fill-opacity="0.85"/>
<circle cx="661.4" cy="643.2" r="3.4" fill="#dc5844" fill-opacity="0.85"/>
<circle cx="651.2" cy="595.3" r="3.4" fill="#dc5844" fill-opacity="0.85"/>
<circle cx="654.8" cy="545.5" r="3.4" fill="#dc5844" fill-opacity="0.85"/>
<circle cx="655.6" cy="521.0" r="3.4" fill="#dc5844" fill-opacity="0.85"/>
<circle cx="665.2" cy="588.6" r="3.4" fill="#dc5844" fill-opacity="0.85"/>
<circle cx="660.4" cy="669.0" r="3.4" fill="#dc5844" fill-opacity="0.85"/>
<circle cx="646.4" cy="704.8" r="3.4" fill="#dc5844" fill-opacity="0.85"/>
<circle cx="661.2" cy="548.7" r="3.4" fill="#dc5844" fill-opacity="0.85"/>
<circle cx="647.2" cy="520.3" r="3.4" fill="#dc5844" fill-opacity="0.85"/>
<circle cx="659.2" cy="663.8" r="3.4" fill="#dc5844" fill-opacity="0.85"/>
<circle cx="661.8" cy="567.4" r="3.4" fill="#dc5844" fill-opacity="0.85"/>
<circle cx="648.5" cy="513.5" r="3.4" fill="#dc5844" fill-opacity="0.85"/>
<circle cx="651.9" cy="504.1" r="3.4" fill="#dc5844" fill-opacity="0.85"/>
<circle cx="651.3" cy="522.7" r="3.4" fill="#dc5844" fill-opacity="0.85"/>
<circle cx="661.3" cy="639.1" r="3.4" fill="#dc5844" fill-opacity="0.85"/>
<circle cx="656.3" cy="656.5" r="3.4" fill="#dc5844" fill-opacity="0.85"/>
<circle cx="651.8" cy="590.7" r="3.4" fill="#dc5844" fill-opacity="0.85"/>
<circle cx="653.6" cy="618.5" r="3.4" fill="#dc5844" fill-opacity="0.85"/>
<circle cx="667.0" cy="644.2" r="3.4" fill="#dc5844" fill-opacity="0.85"/>
<circle cx="648.3" cy="557.2" r="3.4" fill="#dc5844" fill-opacity="0.85"/>
<circle cx="659.7" cy="579.4" r="3.4" fill="#dc5844" fill-opacity="0.85"/>
<circle cx="662.8" cy="609.1" r="3.4" fill="#dc5844" fill-opacity="0.85"/>
<circle cx="656.5" cy="506.7" r="3.4" fill="#dc5844" fill-opacity="0.85"/>
<circle cx="645.8" cy="538.1" r="3.4" fill="#dc5844" fill-opacity="0.85"/>
<circle cx="649.3" cy="536.8" r="3.4" fill="#dc5844" fill-opacity="0.85"/>
<circle cx="660.1" cy="632.2" r="3.4" fill="#dc5844" fill-opacity="0.85"/>
<circle cx="651.5" cy="557.1" r="3.4" fill="#dc5844" fill-opacity="0.85"/>
<circle cx="659.8" cy="582.4" r="3.4" fill="#dc5844" fill-opacity="0.85"/>
<circle cx="652.1" cy="685.6" r="3.4" fill="#dc5844" fill-opacity="0.85"/>
<circle cx="659.2" cy="563.3" r="3.4" fill="#dc5844" fill-opacity="0.85"/>
<circle cx="654.7" cy="534.7" r="3.4" fill="#dc5844" fill-opacity="0.85"/>
<circle cx="657.9" cy="532.3" r="3.4" fill="#dc5844" fill-opacity="0.85"/>
<circle cx="649.8" cy="502.9" r="3.4" fill="#dc5844" fill-opacity="0.85"/>
<circle cx="661.5" cy="633.6" r="3.4" fill="#dc5844" fill-opacity="0.85"/>
<circle cx="654.8" cy="543.4" r="3.4" fill="#dc5844" fill-opacity="0.85"/>
<circle cx="653.0" cy="585.8" r="3.4" fill="#dc5844" fill-opacity="0.85"/>
<circle cx="662.8" cy="653.1" r="3.4" fill="#dc5844" fill-opacity="0.85"/>
<circle cx="669.1" cy="623.6" r="3.4" fill="#dc5844" fill-opacity="0.85"/>
<circle cx="658.9" cy="526.1" r="3.4" fill="#dc5844" fill-opacity="0.85"/>
<circle cx="650.1" cy="610.2" r="3.4" fill="#dc5844" fill-opacity="0.85"/>
<circle cx="657.4" cy="541.4" r="3.4" fill="#dc5844" fill-opacity="0.85"/>
<circle cx="655.4" cy="647.5" r="3.4" fill="#dc5844" fill-opacity="0.85"/>
<circle cx="671.1" cy="621.2" r="3.4" fill="#dc5844" fill-opacity="0.85"/>
<circle cx="658.2" cy="559.4" r="3.4" fill="#dc5844" fill-opacity="0.85"/>
<circle cx="658.7" cy="548.4" r="3.4" fill="#dc5844" fill-opacity="0.85"/>
<circle cx="651.7" cy="683.5" r="3.4" fill="#dc5844" fill-opacity="0.85"/>
<circle cx="655.2" cy="545.6" r="3.4" fill="#dc5844" fill-opacity="0.85"/>
<circle cx="661.4" cy="554.3" r="3.4" fill="#dc5844" fill-opacity="0.85"/>
<circle cx="670.6" cy="619.3" r="3.4" fill="#dc5844" fill-opacity="0.85"/>
<circle cx="663.7" cy="624.9" r="3.4" fill="#dc5844" fill-opacity="0.85"/>
<circle cx="651.0" cy="518.9" r="3.4" fill="#dc5844" fill-opacity="0.85"/>
<circle cx="656.2" cy="540.4" r="3.4" fill="#dc5844" fill-opacity="0.85"/>
<circle cx="657.5" cy="594.8" r="3.4" fill="#dc5844" fill-opacity="0.85"/>
<circle cx="657.2" cy="625.2" r="3.4" fill="#dc5844" fill-opacity="0.85"/>
<circle cx="657.1" cy="527.2" r="3.4" fill="#dc5844" fill-opacity="0.85"/>
<circle cx="650.8" cy="597.0" r="3.4" fill="#dc5844" fill-opacity="0.85"/>
<circle cx="657.3" cy="585.8" r="3.4" fill="#dc5844" fill-opacity="0.85"/>
<circle cx="654.0" cy="643.9" r="3.4" fill="#dc5844" fill-opacity="0.85"/>
<circle cx="654.1" cy="581.9" r="3.4" fill="#dc5844" fill-opacity="0.85"/>
<circle cx="654.5" cy="562.4" r="3.4" fill="#dc5844" fill-opacity="0.85"/>
<circle cx="652.7" cy="547.8" r="3.4" fill="#dc5844" fill-opacity="0.85"/>
<circle cx="666.5" cy="607.3" r="3.4" fill="#dc5844" fill-opacity="0.85"/>
<circle cx="661.9" cy="568.1" r="3.4" fill="#dc5844" fill-opacity="0.85"/>
<circle cx="648.5" cy="547.1" r="3.4" fill="#dc5844" fill-opacity="0.85"/>
<circle cx="649.4" cy="554.2" r="3.4" fill="#dc5844" fill-opacity="0.85"/>
<circle cx="655.1" cy="605.9" r="3.4" fill="#dc5844" fill-opacity="0.85"/>
<circle cx="656.9" cy="593.3" r="3.4" fill="#dc5844" fill-opacity="0.85"/>
<circle cx="669.6" cy="629.1" r="3.4" fill="#dc5844" fill-opacity="0.85"/>
<circle cx="660.4" cy="544.7" r="3.4" fill="#dc5844" fill-opacity="0.85"/>
<circle cx="655.4" cy="650.1" r="3.4" fill="#dc5844" fill-opacity="0.85"/>
<circle cx="655.7" cy="517.2" r="3.4" fill="#dc5844" fill-opacity="0.85"/>
<circle cx="650.8" cy="510.1" r="3.4" fill="#dc5844" fill-opacity="0.85"/>
<circle cx="665.4" cy="633.1" r="3.4" fill="#dc5844" fill-opacity="0.85"/>
<circle cx="659.4" cy="521.0" r="3.4" fill="#dc5844" fill-opacity="0.85"/>
<circle cx="656.2" cy="540.2" r="3.4" fill="#dc5844" fill-opacity="0.85"/>
<circle cx="656.6" cy="589.7" r="3.4" fill="#dc5844" fill-opacity="0.85"/>
<circle cx="665.0" cy="655.0" r="3.4" fill="#dc5844" fill-opacity="0.85"/>
<circle cx="651.9" cy="682.0" r="3.4" fill="#dc5844" fill-opacity="0.85"/>
<circle cx="650.4" cy="680.5" r="3.4" fill="#dc5844" fill-opacity="0.85"/>
<circle cx="659.4" cy="522.3" r="3.4" fill="#dc5844" fill-opacity="0.85"/>
<circle cx="648.8" cy="539.1" r="3.4" fill="#dc5844" fill-opacity="0.85"/>
<circle cx="645.8" cy="572.6" r="3.4" fill="#dc5844" fill-opacity="0.85"/>
<circle cx="665.2" cy="614.4" r="3.4" fill="#dc5844" fill-opacity="0.85"/>
<circle cx="647.5" cy="691.0" r="3.4" fill="#dc5844" fill-opacity="0.85"/>
<circle cx="655.2" cy="584.5" r="3.4" fill="#dc5844" fill-opacity="0.85"/>
<circle cx="648.7" cy="591.7" r="3.4" fill="#dc5844" fill-opacity="0.85"/>
<circle cx="646.8" cy="612.8" r="3.4" fill="#dc5844" fill-opacity="0.85"/>
<circle cx="653.1" cy="558.5" r="3.4" fill="#dc5844" fill-opacity="0.85"/>
<circle cx="664.7" cy="653.6" r="3.4" fill="#dc5844" fill-opacity="0.85"/>
<circle cx="657.2" cy="688.4" r="3.4" fill="#dc5844" fill-opacity="0.85"/>
<circle cx="647.6" cy="503.6" r="3.4" fill="#dc5844" fill-opacity="0.85"/>
<circle cx="662.5" cy="654.8" r="3.4" fill="#dc5844" fill-opacity="0.85"/>
<circle cx="648.9" cy="530.6" r="3.4" fill="#dc5844" fill-opacity="0.85"/>
<circle cx="652.8" cy="579.0" r="3.4" fill="#dc5844" fill-opacity="0.85"/>
<circle cx="653.5" cy="564.6" r="3.4" fill="#dc5844" fill-opacity="0.85"/>
<circle cx="666.9" cy="608.9" r="3.4" fill="#dc5844" fill-opacity="0.85"/>
<circle cx="659.2" cy="541.2" r="3.4" fill="#dc5844" fill-opacity="0.85"/>
<circle cx="650.1" cy="528.1" r="3.4" fill="#dc5844" fill-opacity="0.85"/>
<circle cx="665.4" cy="621.0" r="3.4" fill="#dc5844" fill-opacity="0.85"/>
<circle cx="656.5" cy="671.6" r="3.4" fill="#dc5844" fill-opacity="0.85"/>
<circle cx="662.1" cy="594.3" r="3.4" fill="#dc5844" fill-opacity="0.85"/>
<circle cx="650.4" cy="693.1" r="3.4" fill="#dc5844" fill-opacity="0.85"/>
<circle cx="506.1" cy="432.3" r="3.4" fill="#5cb3d9" fill-opacity="0.85"/>
<circle cx="560.2" cy="432.3" r="3.4" fill="#5cb3d9" fill-opacity="0.85"/>
<circle cx="575.5" cy="432" r="3.4" fill="#5cb3d9" fill-opacity="0.85"/>
<circle cx="576.8" cy="432" r="3.4" fill="#5cb3d9" fill-opacity="0.85"/>
<circle cx="587.2" cy="436.9" r="3.4" fill="#5cb3d9" fill-opacity="0.85"/>
<circle cx="578.3" cy="449" r="3.4" fill="#5cb3d9" fill-opacity="0.85"/>
<circle cx="588.5" cy="458.8" r="3.4" fill="#5cb3d9" fill-opacity="0.85"/>
<circle cx="590.6" cy="490.7" r="3.4" fill="#5cb3d9" fill-opacity="0.85"/>
<circle cx="590.6" cy="498" r="3.4" fill="#5cb3d9" fill-opacity="0.85"/>
<circle cx="590.6" cy="523.9" r="3.4" fill="#5cb3d9" fill-opacity="0.85"/>
<circle cx="510.6" cy="476" r="3.4" fill="#5cb3d9" fill-opacity="0.85"/>
<circle cx="513.1" cy="508.5" r="3.4" fill="#5cb3d9" fill-opacity="0.85"/>
<circle cx="579.1" cy="527.8" r="3.4" fill="#5cb3d9" fill-opacity="0.85"/>
<circle cx="584.7" cy="535.2" r="3.4" fill="#5cb3d9" fill-opacity="0.85"/>
<circle cx="575.3" cy="542.4" r="3.4" fill="#5cb3d9" fill-opacity="0.85"/>
<circle cx="560.2" cy="554.5" r="3.4" fill="#5cb3d9" fill-opacity="0.85"/>
<circle cx="593.1" cy="539.9" r="3.4" fill="#5cb3d9" fill-opacity="0.85"/>
<circle cx="593.4" cy="543.7" r="3.4" fill="#5cb3d9" fill-opacity="0.85"/>
<circle cx="593.6" cy="547.5" r="3.4" fill="#5cb3d9" fill-opacity="0.85"/>
<circle cx="594" cy="552" r="3.4" fill="#5cb3d9" fill-opacity="0.85"/>
<circle cx="594" cy="555.8" r="3.4" fill="#5cb3d9" fill-opacity="0.85"/>
<circle cx="594" cy="559" r="3.4" fill="#5cb3d9" fill-opacity="0.85"/>
<circle cx="593.6" cy="562.2" r="3.4" fill="#5cb3d9" fill-opacity="0.85"/>
<circle cx="585.1" cy="570.5" r="3.4" fill="#5cb3d9" fill-opacity="0.85"/>
<circle cx="595.3" cy="572.7" r="3.4" fill="#5cb3d9" fill-opacity="0.85"/>
<circle cx="595.9" cy="580" r="3.4" fill="#5cb3d9" fill-opacity="0.85"/>
<circle cx="590.2" cy="583.9" r="3.4" fill="#5cb3d9" fill-opacity="0.85"/>
<circle cx="596.2" cy="584.5" r="3.4" fill="#5cb3d9" fill-opacity="0.85"/>
<circle cx="596.6" cy="589" r="3.4" fill="#5cb3d9" fill-opacity="0.85"/>
<circle cx="596.6" cy="596.6" r="3.4" fill="#5cb3d9" fill-opacity="0.85"/>
<circle cx="595.9" cy="601.7" r="3.4" fill="#5cb3d9" fill-opacity="0.85"/>
<circle cx="584.4" cy="604.9" r="3.4" fill="#5cb3d9" fill-opacity="0.85"/>
<circle cx="597.2" cy="604.9" r="3.4" fill="#5cb3d9" fill-opacity="0.85"/>
<circle cx="576.8" cy="610" r="3.4" fill="#5cb3d9" fill-opacity="0.85"/>
<circle cx="580.6" cy="611.9" r="3.4" fill="#5cb3d9" fill-opacity="0.85"/>
<circle cx="597.8" cy="610.7" r="3.4" fill="#5cb3d9" fill-opacity="0.85"/>
<circle cx="584.5" cy="604.8" r="3.4" fill="#5cb3d9" fill-opacity="0.85"/>
<circle cx="576.6" cy="609.6" r="3.4" fill="#5cb3d9" fill-opacity="0.85"/>
<circle cx="580.4" cy="612.1" r="3.4" fill="#5cb3d9" fill-opacity="0.85"/>
<circle cx="590.6" cy="619.8" r="3.4" fill="#5cb3d9" fill-opacity="0.85"/>
<circle cx="587.4" cy="632.9" r="3.4" fill="#5cb3d9" fill-opacity="0.85"/>
<circle cx="587" cy="641.5" r="3.4" fill="#5cb3d9" fill-opacity="0.85"/>
<circle cx="590.6" cy="651" r="3.4" fill="#5cb3d9" fill-opacity="0.85"/>
<circle cx="584.9" cy="663.8" r="3.4" fill="#5cb3d9" fill-opacity="0.85"/>
<circle cx="590.6" cy="681" r="3.4" fill="#5cb3d9" fill-opacity="0.85"/>
<circle cx="514.4" cy="527.6" r="3.4" fill="#5cb3d9" fill-opacity="0.85"/>
<circle cx="515.8" cy="538.2" r="3.4" fill="#5cb3d9" fill-opacity="0.85"/>
<circle cx="578.8" cy="527.8" r="3.4" fill="#5cb3d9" fill-opacity="0.85"/>
<circle cx="585" cy="535.4" r="3.4" fill="#5cb3d9" fill-opacity="0.85"/>
<circle cx="575.5" cy="542.4" r="3.4" fill="#5cb3d9" fill-opacity="0.85"/>
<circle cx="585" cy="570.4" r="3.4" fill="#5cb3d9" fill-opacity="0.85"/>
<circle cx="588.9" cy="583.9" r="3.4" fill="#5cb3d9" fill-opacity="0.85"/>
<circle cx="584.5" cy="604.6" r="3.4" fill="#5cb3d9" fill-opacity="0.85"/>
<circle cx="577.5" cy="609.6" r="3.4" fill="#5cb3d9" fill-opacity="0.85"/>
<circle cx="580.3" cy="611.9" r="3.4" fill="#5cb3d9" fill-opacity="0.85"/>
<circle cx="589.2" cy="619.4" r="3.4" fill="#5cb3d9" fill-opacity="0.85"/>
<circle cx="587.3" cy="632.6" r="3.4" fill="#5cb3d9" fill-opacity="0.85"/>
<circle cx="586.7" cy="641.3" r="3.4" fill="#5cb3d9" fill-opacity="0.85"/>
<circle cx="590" cy="651.1" r="3.4" fill="#5cb3d9" fill-opacity="0.85"/>
<circle cx="584.7" cy="664.3" r="3.4" fill="#5cb3d9" fill-opacity="0.85"/>
<circle cx="589.2" cy="681.6" r="3.4" fill="#5cb3d9" fill-opacity="0.85"/>
<circle cx="644.0" cy="432.3" r="3.4" fill="#dc5844" fill-opacity="0.85"/>
<circle cx="646.0" cy="432.3" r="3.4" fill="#dc5844" fill-opacity="0.85"/>
<circle cx="648.0" cy="432.3" r="3.4" fill="#dc5844" fill-opacity="0.85"/>
<circle cx="650.0" cy="432.3" r="3.4" fill="#dc5844" fill-opacity="0.85"/>
<circle cx="652.0" cy="432.3" r="3.4" fill="#dc5844" fill-opacity="0.85"/>
<circle cx="654.0" cy="432.3" r="3.4" fill="#dc5844" fill-opacity="0.85"/>
<circle cx="656.0" cy="432.3" r="3.4" fill="#dc5844" fill-opacity="0.85"/>
<circle cx="658.0" cy="432.3" r="3.4" fill="#dc5844" fill-opacity="0.85"/>
<circle cx="660.0" cy="432.3" r="3.4" fill="#dc5844" fill-opacity="0.85"/>
<circle cx="662.0" cy="432.3" r="3.4" fill="#dc5844" fill-opacity="0.85"/>
<circle cx="664.0" cy="432.3" r="3.4" fill="#dc5844" fill-opacity="0.85"/>
<circle cx="666.0" cy="432.3" r="3.4" fill="#dc5844" fill-opacity="0.85"/>
<circle cx="668.0" cy="432.3" r="3.4" fill="#dc5844" fill-opacity="0.85"/>
<circle cx="670.0" cy="432.3" r="3.4" fill="#dc5844" fill-opacity="0.85"/>
<circle cx="672.0" cy="432.3" r="3.4" fill="#dc5844" fill-opacity="0.85"/>
<circle cx="674.0" cy="432.3" r="3.4" fill="#dc5844" fill-opacity="0.85"/>
<circle cx="676.0" cy="432.3" r="3.4" fill="#dc5844" fill-opacity="0.85"/>
<circle cx="678.0" cy="432.3" r="3.4" fill="#dc5844" fill-opacity="0.85"/>
<circle cx="680.0" cy="432.3" r="3.4" fill="#dc5844" fill-opacity="0.85"/>
<circle cx="682.0" cy="432.3" r="3.4" fill="#dc5844" fill-opacity="0.85"/>
<circle cx="684.0" cy="432.3" r="3.4" fill="#dc5844" fill-opacity="0.85"/>
<circle cx="686.0" cy="432.3" r="3.4" fill="#dc5844" fill-opacity="0.85"/>
<circle cx="688.0" cy="432.3" r="3.4" fill="#dc5844" fill-opacity="0.85"/>
<circle cx="690.0" cy="432.3" r="3.4" fill="#dc5844" fill-opacity="0.85"/>
<circle cx="692.0" cy="432.3" r="3.4" fill="#dc5844" fill-opacity="0.85"/>
<circle cx="694.0" cy="432.3" r="3.4" fill="#dc5844" fill-opacity="0.85"/>
<circle cx="696.0" cy="432.3" r="3.4" fill="#dc5844" fill-opacity="0.85"/>
<circle cx="698.0" cy="432.3" r="3.4" fill="#dc5844" fill-opacity="0.85"/>
<circle cx="700.0" cy="432.3" r="3.4" fill="#dc5844" fill-opacity="0.85"/>
<circle cx="727.5" cy="432.3" r="3.4" fill="#dc5844" fill-opacity="0.85"/>
<circle cx="729.75" cy="432.3" r="3.4" fill="#dc5844" fill-opacity="0.85"/>
<circle cx="732.0" cy="432.3" r="3.4" fill="#dc5844" fill-opacity="0.85"/>
<circle cx="745.5" cy="432.3" r="3.4" fill="#dc5844" fill-opacity="0.85"/>
<circle cx="747.5" cy="432.3" r="3.4" fill="#dc5844" fill-opacity="0.85"/>
<circle cx="749.5" cy="432.3" r="3.4" fill="#dc5844" fill-opacity="0.85"/>
<circle cx="751.5" cy="432.3" r="3.4" fill="#dc5844" fill-opacity="0.85"/>
<circle cx="753.5" cy="432.3" r="3.4" fill="#dc5844" fill-opacity="0.85"/>
<circle cx="755.5" cy="432.3" r="3.4" fill="#dc5844" fill-opacity="0.85"/>
<circle cx="757.5" cy="432.3" r="3.4" fill="#dc5844" fill-opacity="0.85"/>
<circle cx="759.5" cy="432.3" r="3.4" fill="#dc5844" fill-opacity="0.85"/>
<circle cx="761.5" cy="432.3" r="3.4" fill="#dc5844" fill-opacity="0.85"/>
<circle cx="763.5" cy="432.3" r="3.4" fill="#dc5844" fill-opacity="0.85"/>
<circle cx="765.5" cy="432.3" r="3.4" fill="#dc5844" fill-opacity="0.85"/>
<circle cx="767.5" cy="432.3" r="3.4" fill="#dc5844" fill-opacity="0.85"/>
<circle cx="769.5" cy="432.3" r="3.4" fill="#dc5844" fill-opacity="0.85"/>
<circle cx="771.5" cy="432.3" r="3.4" fill="#dc5844" fill-opacity="0.85"/>
<circle cx="654" cy="438.8" r="3.4" fill="#dc5844" fill-opacity="0.85"/>
<circle cx="644.3" cy="439.3" r="3.4" fill="#dc5844" fill-opacity="0.85"/>
<circle cx="643.3" cy="441.8" r="3.4" fill="#dc5844" fill-opacity="0.85"/>
<circle cx="648.4" cy="445.4" r="3.4" fill="#dc5844" fill-opacity="0.85"/>
<circle cx="642.2" cy="446.9" r="3.4" fill="#dc5844" fill-opacity="0.85"/>
<circle cx="648.9" cy="449" r="3.4" fill="#dc5844" fill-opacity="0.85"/>
<circle cx="656.5" cy="445.4" r="3.4" fill="#dc5844" fill-opacity="0.85"/>
<circle cx="660.6" cy="445.4" r="3.4" fill="#dc5844" fill-opacity="0.85"/>
<circle cx="662.7" cy="446.4" r="3.4" fill="#dc5844" fill-opacity="0.85"/>
<circle cx="660.6" cy="451" r="3.4" fill="#dc5844" fill-opacity="0.85"/>
<circle cx="644.3" cy="453.6" r="3.4" fill="#dc5844" fill-opacity="0.85"/>
<circle cx="642.8" cy="459.7" r="3.4" fill="#dc5844" fill-opacity="0.85"/>
<circle cx="641.7" cy="462.8" r="3.4" fill="#dc5844" fill-opacity="0.85"/>
<circle cx="647.9" cy="463.3" r="3.4" fill="#dc5844" fill-opacity="0.85"/>
<circle cx="671.3" cy="463.3" r="3.4" fill="#dc5844" fill-opacity="0.85"/>
<circle cx="642.2" cy="471.9" r="3.4" fill="#dc5844" fill-opacity="0.85"/>
<circle cx="641.2" cy="476" r="3.4" fill="#dc5844" fill-opacity="0.85"/>
<circle cx="649.4" cy="475.5" r="3.4" fill="#dc5844" fill-opacity="0.85"/>
<circle cx="653.5" cy="473" r="3.4" fill="#dc5844" fill-opacity="0.85"/>
<circle cx="658.6" cy="472.4" r="3.4" fill="#dc5844" fill-opacity="0.85"/>
<circle cx="655" cy="478.6" r="3.4" fill="#dc5844" fill-opacity="0.85"/>
<circle cx="673.9" cy="475.3" r="3.4" fill="#dc5844" fill-opacity="0.85"/>
<circle cx="642.2" cy="480.6" r="3.4" fill="#dc5844" fill-opacity="0.85"/>
<circle cx="643.3" cy="484.2" r="3.4" fill="#dc5844" fill-opacity="0.85"/>
<circle cx="640.2" cy="489.3" r="3.4" fill="#dc5844" fill-opacity="0.85"/>
<circle cx="645.3" cy="490.3" r="3.4" fill="#dc5844" fill-opacity="0.85"/>
<circle cx="651.4" cy="492.3" r="3.4" fill="#dc5844" fill-opacity="0.85"/>
<circle cx="676.9" cy="492.3" r="3.4" fill="#dc5844" fill-opacity="0.85"/>
<circle cx="640.2" cy="498.5" r="3.4" fill="#dc5844" fill-opacity="0.85"/>
<circle cx="646.3" cy="496.4" r="3.4" fill="#dc5844" fill-opacity="0.85"/>
<circle cx="651.9" cy="502.6" r="3.4" fill="#dc5844" fill-opacity="0.85"/>
<circle cx="660.6" cy="502.6" r="3.4" fill="#dc5844" fill-opacity="0.85"/>
<circle cx="639.2" cy="502.6" r="3.4" fill="#dc5844" fill-opacity="0.85"/>
<circle cx="723" cy="444.8" r="3.4" fill="#dc5844" fill-opacity="0.85"/>
<circle cx="722.5" cy="453.1" r="3.4" fill="#dc5844" fill-opacity="0.85"/>
<circle cx="722.3" cy="458" r="3.4" fill="#dc5844" fill-opacity="0.85"/>
<circle cx="660.5" cy="502.6" r="3.4" fill="#dc5844" fill-opacity="0.85"/>
<circle cx="652.3" cy="503.1" r="3.4" fill="#dc5844" fill-opacity="0.85"/>
<circle cx="656.9" cy="509.2" r="3.4" fill="#dc5844" fill-opacity="0.85"/>
<circle cx="653.9" cy="516.8" r="3.4" fill="#dc5844" fill-opacity="0.85"/>
<circle cx="649.8" cy="514.3" r="3.4" fill="#dc5844" fill-opacity="0.85"/>
<circle cx="658" cy="522.2" r="3.4" fill="#dc5844" fill-opacity="0.85"/>
<circle cx="668.7" cy="523.3" r="3.4" fill="#dc5844" fill-opacity="0.85"/>
<circle cx="654.9" cy="529.1" r="3.4" fill="#dc5844" fill-opacity="0.85"/>
<circle cx="650.3" cy="527" r="3.4" fill="#dc5844" fill-opacity="0.85"/>
<circle cx="659.5" cy="535.7" r="3.4" fill="#dc5844" fill-opacity="0.85"/>
<circle cx="656.9" cy="540.8" r="3.4" fill="#dc5844" fill-opacity="0.85"/>
<circle cx="648.8" cy="540.3" r="3.4" fill="#dc5844" fill-opacity="0.85"/>
<circle cx="680.4" cy="536.7" r="3.4" fill="#dc5844" fill-opacity="0.85"/>
<circle cx="649.3" cy="546.9" r="3.4" fill="#dc5844" fill-opacity="0.85"/>
<circle cx="652.9" cy="552.6" r="3.4" fill="#dc5844" fill-opacity="0.85"/>
<circle cx="661.5" cy="550.5" r="3.4" fill="#dc5844" fill-opacity="0.85"/>
<circle cx="667.7" cy="552" r="3.4" fill="#dc5844" fill-opacity="0.85"/>
<circle cx="655.9" cy="556.6" r="3.4" fill="#dc5844" fill-opacity="0.85"/>
<circle cx="663.6" cy="556.1" r="3.4" fill="#dc5844" fill-opacity="0.85"/>
<circle cx="650.3" cy="560.2" r="3.4" fill="#dc5844" fill-opacity="0.85"/>
<circle cx="654.4" cy="572.4" r="3.4" fill="#dc5844" fill-opacity="0.85"/>
<circle cx="661" cy="575" r="3.4" fill="#dc5844" fill-opacity="0.85"/>
<circle cx="648.3" cy="578.6" r="3.4" fill="#dc5844" fill-opacity="0.85"/>
<circle cx="675.8" cy="579.1" r="3.4" fill="#dc5844" fill-opacity="0.85"/>
<circle cx="714.1" cy="535.7" r="3.4" fill="#dc5844" fill-opacity="0.85"/>
<circle cx="714.1" cy="538.8" r="3.4" fill="#dc5844" fill-opacity="0.85"/>
<circle cx="713.1" cy="549" r="3.4" fill="#dc5844" fill-opacity="0.85"/>
<circle cx="712" cy="563.3" r="3.4" fill="#dc5844" fill-opacity="0.85"/>
<circle cx="708.3" cy="600" r="3.4" fill="#dc5844" fill-opacity="0.85"/>
<circle cx="675.7" cy="581.5" r="3.4" fill="#dc5844" fill-opacity="0.85"/>
<circle cx="661.4" cy="582" r="3.4" fill="#dc5844" fill-opacity="0.85"/>
<circle cx="663.5" cy="588.7" r="3.4" fill="#dc5844" fill-opacity="0.85"/>
<circle cx="660.4" cy="593.3" r="3.4" fill="#dc5844" fill-opacity="0.85"/>
<circle cx="656.8" cy="597.9" r="3.4" fill="#dc5844" fill-opacity="0.85"/>
<circle cx="661.9" cy="604" r="3.4" fill="#dc5844" fill-opacity="0.85"/>
<circle cx="659.4" cy="609.6" r="3.4" fill="#dc5844" fill-opacity="0.85"/>
<circle cx="651.2" cy="608.6" r="3.4" fill="#dc5844" fill-opacity="0.85"/>
<circle cx="673.7" cy="599.4" r="3.4" fill="#dc5844" fill-opacity="0.85"/>
<circle cx="666.5" cy="612.7" r="3.4" fill="#dc5844" fill-opacity="0.85"/>
<circle cx="664" cy="617.2" r="3.4" fill="#dc5844" fill-opacity="0.85"/>
<circle cx="672.1" cy="614.7" r="3.4" fill="#dc5844" fill-opacity="0.85"/>
<circle cx="671.1" cy="619.3" r="3.4" fill="#dc5844" fill-opacity="0.85"/>
<circle cx="670.6" cy="623.9" r="3.4" fill="#dc5844" fill-opacity="0.85"/>
<circle cx="658.9" cy="622.3" r="3.4" fill="#dc5844" fill-opacity="0.85"/>
<circle cx="654.8" cy="622.9" r="3.4" fill="#dc5844" fill-opacity="0.85"/>
<circle cx="663" cy="631.5" r="3.4" fill="#dc5844" fill-opacity="0.85"/>
<circle cx="661.4" cy="645.3" r="3.4" fill="#dc5844" fill-opacity="0.85"/>
<circle cx="667" cy="651.4" r="3.4" fill="#dc5844" fill-opacity="0.85"/>
<circle cx="656.8" cy="657" r="3.4" fill="#dc5844" fill-opacity="0.85"/>
<circle cx="708.2" cy="600.9" r="3.4" fill="#dc5844" fill-opacity="0.85"/>
<circle cx="706.3" cy="612.7" r="3.4" fill="#dc5844" fill-opacity="0.85"/>
<circle cx="705.6" cy="618.8" r="3.4" fill="#dc5844" fill-opacity="0.85"/>
<circle cx="704.3" cy="625.4" r="3.4" fill="#dc5844" fill-opacity="0.85"/>
<circle cx="703.8" cy="631.5" r="3.4" fill="#dc5844" fill-opacity="0.85"/>
<circle cx="702.8" cy="635.6" r="3.4" fill="#dc5844" fill-opacity="0.85"/>
<circle cx="702.2" cy="641.2" r="3.4" fill="#dc5844" fill-opacity="0.85"/>
<circle cx="700.7" cy="647.3" r="3.4" fill="#dc5844" fill-opacity="0.85"/>
<circle cx="699" cy="657" r="3.4" fill="#dc5844" fill-opacity="0.85"/>
<circle cx="659.5" cy="664.6" r="3.4" fill="#dc5844" fill-opacity="0.85"/>
<circle cx="656.3" cy="675.4" r="3.4" fill="#dc5844" fill-opacity="0.85"/>
<circle cx="663.3" cy="683.1" r="3.4" fill="#dc5844" fill-opacity="0.85"/>
<circle cx="651.9" cy="685" r="3.4" fill="#dc5844" fill-opacity="0.85"/>
<circle cx="648" cy="694.5" r="3.4" fill="#dc5844" fill-opacity="0.85"/>
<polygon points="602.1,691.9 602.3,705 602.5,722.8 603.8,729 605.9,733.6 609.8,737 615.5,737.5 621.2,737 625.8,732.8 627.8,728 628.9,722.8 628.9,705 628.9,691.9 622.8,691.9 620.5,705 618,718 615.5,729.7 613,718 610.5,705 608.2,691.9" fill="#d3d3d3"/>
<circle cx="605.15" cy="691.9" r="3.05" fill="#d3d3d3"/>
<circle cx="625.85" cy="691.9" r="3.05" fill="#d3d3d3"/>
<rect x="450.2" y="429.3" width="330.4" height="308.1" fill="none" stroke="#6a6a6a" stroke-width="1.4"/>
<line x1="460.7" y1="737.4" x2="460.7" y2="740.4" stroke="#6a6a6a" stroke-width="1"/>
<text x="460.7" y="753.6" font-size="14" text-anchor="middle" >−15</text>
<line x1="512.3" y1="737.4" x2="512.3" y2="740.4" stroke="#6a6a6a" stroke-width="1"/>
<text x="512.3" y="753.6" font-size="14" text-anchor="middle" >−10</text>
<line x1="564.0" y1="737.4" x2="564.0" y2="740.4" stroke="#6a6a6a" stroke-width="1"/>
<text x="564.0" y="753.6" font-size="14" text-anchor="middle" >−5</text>
<line x1="615.6" y1="737.4" x2="615.6" y2="740.4" stroke="#6a6a6a" stroke-width="1"/>
<text x="615.6" y="753.6" font-size="14" text-anchor="middle" >0</text>
<line x1="667.2" y1="737.4" x2="667.2" y2="740.4" stroke="#6a6a6a" stroke-width="1"/>
<text x="667.2" y="753.6" font-size="14" text-anchor="middle" >5</text>
<line x1="718.9" y1="737.4" x2="718.9" y2="740.4" stroke="#6a6a6a" stroke-width="1"/>
<text x="718.9" y="753.6" font-size="14" text-anchor="middle" >10</text>
<line x1="770.5" y1="737.4" x2="770.5" y2="740.4" stroke="#6a6a6a" stroke-width="1"/>
<text x="770.5" y="753.6" font-size="14" text-anchor="middle" >15</text>
<line x1="447.2" y1="737.3" x2="450.2" y2="737.3" stroke="#6a6a6a" stroke-width="1"/>
<text x="443.6" y="741.9" font-size="14" text-anchor="end" >0</text>
<line x1="447.2" y1="676.3" x2="450.2" y2="676.3" stroke="#6a6a6a" stroke-width="1"/>
<text x="443.6" y="680.9" font-size="14" text-anchor="end" >20</text>
<line x1="447.2" y1="615.2" x2="450.2" y2="615.2" stroke="#6a6a6a" stroke-width="1"/>
<text x="443.6" y="619.8" font-size="14" text-anchor="end" >40</text>
<line x1="447.2" y1="554.2" x2="450.2" y2="554.2" stroke="#6a6a6a" stroke-width="1"/>
<text x="443.6" y="558.8" font-size="14" text-anchor="end" >60</text>
<line x1="447.2" y1="493.1" x2="450.2" y2="493.1" stroke="#6a6a6a" stroke-width="1"/>
<text x="443.6" y="497.7" font-size="14" text-anchor="end" >80</text>
<line x1="447.2" y1="432.1" x2="450.2" y2="432.1" stroke="#6a6a6a" stroke-width="1"/>
<text x="443.6" y="436.7" font-size="14" text-anchor="end" >100</text>
<circle cx="471.0" cy="412.4" r="4.8" fill="#6cbfe0" fill-opacity="0.82"/>
<text x="480.2" y="416.1" font-size="10.7" text-anchor="start" >Down regulated(277)</text>
<circle cx="587.7" cy="412.4" r="4.8" fill="#d3d3d3" fill-opacity="0.82"/>
<text x="596.9" y="416.1" font-size="10.7" text-anchor="start" >Not sig(13203)</text>
<circle cx="678.0" cy="412.4" r="4.8" fill="#e46d5b" fill-opacity="0.82"/>
<text x="687.2" y="416.1" font-size="10.7" text-anchor="start" >Up regulated(2236)</text>
<text x="611" y="780.4" font-size="18.3" text-anchor="middle">log<tspan font-size="12.4">2</tspan>(Fold Change)</text>
<text transform="translate(415.2,556.9) rotate(-90)" x="0" y="0" font-size="18.3" text-anchor="middle">-log<tspan font-size="12.4">10</tspan>(Qvalue)</text>
</svg></body></html>
